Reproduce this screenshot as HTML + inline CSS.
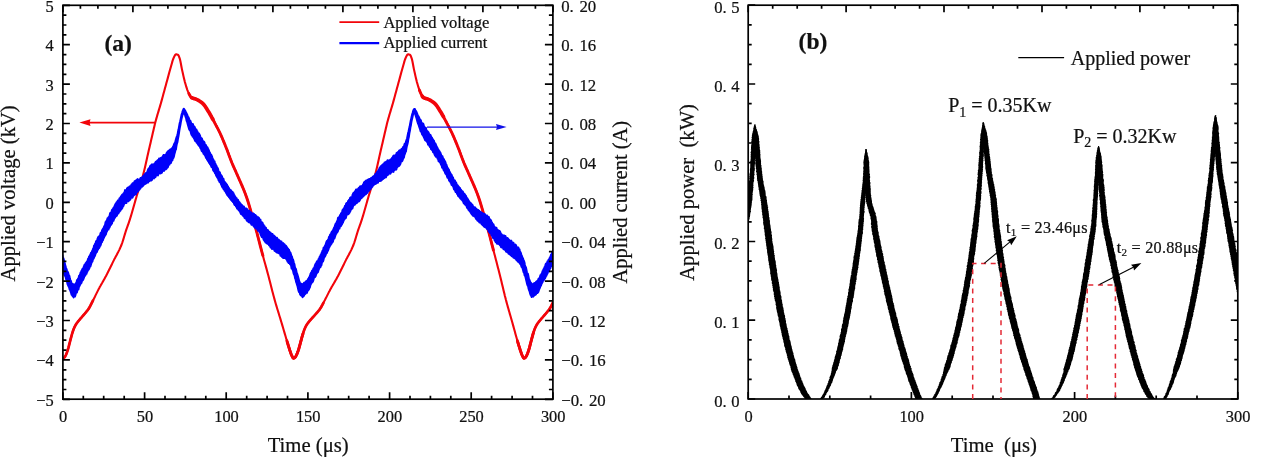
<!DOCTYPE html>
<html><head><meta charset="utf-8"><title>Applied voltage, current and power</title><style>html,body{margin:0;padding:0;background:#fff;width:1262px;height:457px;overflow:hidden}svg{display:block}text{fill:#111;stroke:#111;stroke-width:0.22px}</style></head><body>
<svg width="1262" height="457" viewBox="0 0 1262 457">
<defs><clipPath id="ca"><rect x="62.9" y="5.3" width="490" height="393.9"/></clipPath>
<clipPath id="cb"><rect x="748.2" y="5.2" width="489.6" height="393.8"/></clipPath></defs>
<rect width="1262" height="457" fill="#fff"/>
<g clip-path="url(#ca)">
<path d="M62.9 358.3 63.4 358.2 63.9 357.9 64.4 357.5 64.9 356.9 65.4 356 65.9 355 66.4 353.9 66.9 352.5 67.4 351.1 67.9 349.5 68.4 347.8 68.9 345.9 69.4 343.9 69.9 342 70.4 340.1 70.9 338.1 71.4 336.3 71.9 334.5 72.4 332.8 72.9 331.3 73.4 329.8 73.9 328.5 74.4 327.4 74.9 326.3 75.4 325.4 75.9 324.5 76.4 323.7 76.9 323 77.4 322.4 77.9 321.7 78.4 321.1 78.9 320.5 79.4 319.9 79.9 319.3 80.4 318.7 80.9 318.1 81.4 317.6 81.9 317 82.4 316.4 82.9 315.8 83.4 315.3 83.9 314.7 84.4 314.1 84.9 313.5 85.4 312.9 85.9 312.3 86.4 311.7 86.9 311.1 87.4 310.5 87.9 309.9 88.4 309.1 88.9 308.4 89.4 307.5 89.9 306.6 90.4 305.7 90.9 304.7 91.4 303.7 91.9 302.7 92.4 301.7 92.9 300.7 93.4 299.7 93.9 298.7 94.4 297.7 94.9 296.7 95.4 295.6 95.9 294.6 96.4 293.6 96.9 292.6 97.4 291.6 97.9 290.6 98.4 289.6 98.9 288.7 99.4 287.8 99.9 286.8 100.4 286 100.9 285.1 101.4 284.2 101.9 283.3 102.4 282.5 102.9 281.6 103.4 280.7 103.9 279.8 104.4 278.9 104.9 278 105.4 277.1 105.9 276.2 106.4 275.2 106.9 274.3 107.4 273.3 107.9 272.3 108.4 271.3 108.9 270.3 109.4 269.3 109.9 268.3 110.4 267.2 110.9 266.2 111.4 265.2 111.9 264.2 112.4 263.1 112.9 262.1 113.4 261.1 113.9 260.1 114.4 259.1 114.9 258.2 115.4 257.2 115.9 256.3 116.4 255.4 116.9 254.5 117.4 253.5 117.9 252.6 118.4 251.6 118.9 250.6 119.4 249.6 119.9 248.5 120.4 247.4 120.9 246.3 121.4 245 121.9 243.7 122.4 242.3 122.9 240.7 123.4 239.1 123.9 237.5 124.4 235.8 124.9 234.1 125.4 232.5 125.9 230.9 126.4 229.4 126.9 228 127.4 226.6 127.9 225.2 128.4 223.8 128.9 222.4 129.4 220.9 129.9 219.4 130.4 217.8 130.9 216.1 131.4 214.5 131.9 212.8 132.4 211 132.9 209.3 133.4 207.5 133.9 205.7 134.4 204 134.9 202.2 135.4 200.4 135.9 198.7 136.4 197 136.9 195.3 137.4 193.7 137.9 192.1 138.4 190.5 138.9 188.9 139.4 187.4 139.9 185.8 140.4 184.2 140.9 182.5 141.4 180.9 141.9 179.2 142.4 177.5 142.9 175.7 143.4 173.8 143.9 171.8 144.4 169.8 144.9 167.7 145.4 165.5 145.9 163.2 146.4 161 146.9 158.7 147.4 156.4 147.9 154.2 148.4 152 148.9 149.8 149.4 147.7 149.9 145.6 150.4 143.4 150.9 141.3 151.4 139.1 151.9 137 152.4 134.8 152.9 132.6 153.4 130.4 153.9 128.3 154.4 126.2 154.9 124.1 155.4 122.1 155.9 120.2 156.4 118.4 156.9 116.7 157.4 114.9 157.9 113.3 158.4 111.6 158.9 109.9 159.4 108.3 159.9 106.6 160.4 104.9 160.9 103.2 161.4 101.4 161.9 99.6 162.4 97.8 162.9 96 163.4 94.1 163.9 92.3 164.4 90.5 164.9 88.6 165.4 86.8 165.9 85 166.4 83.1 166.9 81.3 167.4 79.4 167.9 77.6 168.4 75.7 168.9 73.9 169.4 72 169.9 70.2 170.4 68.5 170.9 66.8 171.4 65 171.9 63.2 172.4 61.4 172.9 59.8 173.4 58.5 173.9 57.4 174.4 56.3 174.9 55.4 175.4 54.7 175.9 54.4 176.4 54.4 176.9 54.5 177.4 54.6 177.9 54.8 178.4 55.3 178.9 56.3 179.4 57.7 179.9 59.1 180.4 61.2 180.9 63.7 181.4 66.5 181.9 69.1 182.4 71.4 182.9 73.6 183.4 75.9 183.9 78 184.4 80.1 184.9 82.1 185.4 83.8 185.9 85.5 186.4 87.2 186.9 88.7 187.4 90.1 187.9 91.4 188.4 92.5 188.9 93.6 189.4 94.6 189.9 95.6 190.4 96.4 190.9 97.1 191.4 97.5 191.9 97.8 192.4 98 192.9 98.2 193.4 98.4 193.9 98.5 194.4 98.7 194.9 98.8 195.4 99 195.9 99.1 196.4 99.4 196.9 99.6 197.4 99.8 197.9 100.1 198.4 100.4 198.9 100.7 199.4 101 199.9 101.3 200.4 101.6 200.9 102 201.4 102.3 201.9 102.7 202.4 103.1 202.9 103.6 203.4 104.1 203.9 104.7 204.4 105.3 204.9 106 205.4 106.7 205.9 107.5 206.4 108.3 206.9 109.1 207.4 109.9 207.9 110.7 208.4 111.5 208.9 112.3 209.4 113.1 209.9 114 210.4 114.9 210.9 115.7 211.4 116.6 211.9 117.6 212.4 118.5 212.9 119.4 213.4 120.4 213.9 121.3 214.4 122.2 214.9 123.2 215.4 124.1 215.9 125.1 216.4 126 216.9 127 217.4 127.9 217.9 128.9 218.4 129.9 218.9 130.9 219.4 131.9 219.9 132.9 220.4 134 220.9 135.1 221.4 136.2 221.9 137.3 222.4 138.5 222.9 139.7 223.4 140.9 223.9 142.1 224.4 143.3 224.9 144.5 225.4 145.8 225.9 147 226.4 148.3 226.9 149.5 227.4 150.8 227.9 152.2 228.4 153.5 228.9 154.9 229.4 156.2 229.9 157.6 230.4 158.9 230.9 160.2 231.4 161.5 231.9 162.8 232.4 164 232.9 165.2 233.4 166.3 233.9 167.4 234.4 168.5 234.9 169.7 235.4 170.7 235.9 171.8 236.4 173 236.9 174.1 237.4 175.2 237.9 176.4 238.4 177.5 238.9 178.6 239.4 179.8 239.9 180.9 240.4 182 240.9 183.1 241.4 184.3 241.9 185.4 242.4 186.6 242.9 187.8 243.4 189 243.9 190.2 244.4 191.4 244.9 192.7 245.4 194 245.9 195.4 246.4 196.8 246.9 198.2 247.4 199.7 247.9 201.3 248.4 202.9 248.9 204.5 249.4 206.2 249.9 207.9 250.4 209.6 250.9 211.4 251.4 213.1 251.9 214.8 252.4 216.6 252.9 218.3 253.4 220 253.9 221.8 254.4 223.6 254.9 225.4 255.4 227.2 255.9 229 256.4 230.9 256.9 232.7 257.4 234.6 257.9 236.6 258.4 238.5 258.9 240.5 259.4 242.4 259.9 244.3 260.4 246.3 260.9 248.2 261.4 250.1 261.9 252 262.4 253.9 262.9 255.7 263.4 257.5 263.9 259.4 264.4 261.2 264.9 263 265.4 264.8 265.9 266.6 266.4 268.4 266.9 270.3 267.4 272.1 267.9 274 268.4 275.8 268.9 277.7 269.4 279.7 269.9 281.6 270.4 283.6 270.9 285.5 271.4 287.5 271.9 289.5 272.4 291.4 272.9 293.3 273.4 295.2 273.9 297.1 274.4 298.9 274.9 300.7 275.4 302.5 275.9 304.2 276.4 305.9 276.9 307.5 277.4 309.2 277.9 310.8 278.4 312.4 278.9 314 279.4 315.7 279.9 317.3 280.4 318.9 280.9 320.6 281.4 322.2 281.9 323.9 282.4 325.6 282.9 327.3 283.4 329 283.9 330.7 284.4 332.4 284.9 334.1 285.4 335.8 285.9 337.5 286.4 339.2 286.9 340.8 287.4 342.5 287.9 344.1 288.4 345.8 288.9 347.4 289.4 349 289.9 350.6 290.4 352 290.9 353.4 291.4 354.7 291.9 355.9 292.4 356.9 292.9 357.8 293.4 358.3 293.9 358.2 294.4 357.9 294.9 357.5 295.4 357 295.9 356.2 296.4 355.2 296.9 354.2 297.4 352.9 297.9 351.6 298.4 350.1 298.9 348.5 299.4 346.7 299.9 344.9 300.4 343 300.9 341.1 301.4 339.3 301.9 337.4 302.4 335.6 302.9 334 303.4 332.4 303.9 330.9 304.4 329.5 304.9 328.3 305.4 327.2 305.9 326.2 306.4 325.3 306.9 324.5 307.4 323.7 307.9 323.1 308.4 322.4 308.9 321.8 309.4 321.2 309.9 320.6 310.4 320 310.9 319.5 311.4 318.9 311.9 318.3 312.4 317.8 312.9 317.2 313.4 316.7 313.9 316.1 314.4 315.6 314.9 315 315.4 314.4 315.9 313.9 316.4 313.3 316.9 312.7 317.4 312.2 317.9 311.6 318.4 311 318.9 310.4 319.4 309.8 319.9 309.1 320.4 308.3 320.9 307.5 321.4 306.7 321.9 305.7 322.4 304.8 322.9 303.8 323.4 302.9 323.9 301.9 324.4 300.9 324.9 300 325.4 299 325.9 298.1 326.4 297.1 326.9 296.1 327.4 295.1 327.9 294.1 328.4 293.1 328.9 292.1 329.4 291.2 329.9 290.2 330.4 289.3 330.9 288.4 331.4 287.5 331.9 286.6 332.4 285.8 332.9 284.9 333.4 284.1 333.9 283.2 334.4 282.4 334.9 281.5 335.4 280.6 335.9 279.8 336.4 278.9 336.9 278 337.4 277.1 337.9 276.2 338.4 275.2 338.9 274.3 339.4 273.3 339.9 272.3 340.4 271.3 340.9 270.3 341.4 269.3 341.9 268.3 342.4 267.2 342.9 266.2 343.4 265.2 343.9 264.2 344.4 263.1 344.9 262.1 345.4 261.1 345.9 260.1 346.4 259.1 346.9 258.2 347.4 257.2 347.9 256.3 348.4 255.4 348.9 254.5 349.4 253.5 349.9 252.6 350.4 251.6 350.9 250.6 351.4 249.6 351.9 248.5 352.4 247.4 352.9 246.3 353.4 245 353.9 243.7 354.4 242.3 354.9 240.7 355.4 239.1 355.9 237.5 356.4 235.8 356.9 234.1 357.4 232.5 357.9 230.9 358.4 229.4 358.9 228 359.4 226.6 359.9 225.2 360.4 223.8 360.9 222.4 361.4 220.9 361.9 219.4 362.4 217.8 362.9 216.1 363.4 214.5 363.9 212.8 364.4 211 364.9 209.3 365.4 207.5 365.9 205.7 366.4 204 366.9 202.2 367.4 200.4 367.9 198.7 368.4 197 368.9 195.3 369.4 193.7 369.9 192.1 370.4 190.5 370.9 188.9 371.4 187.4 371.9 185.8 372.4 184.2 372.9 182.5 373.4 180.9 373.9 179.2 374.4 177.5 374.9 175.7 375.4 173.8 375.9 171.8 376.4 169.8 376.9 167.7 377.4 165.5 377.9 163.2 378.4 161 378.9 158.7 379.4 156.4 379.9 154.2 380.4 152 380.9 149.8 381.4 147.7 381.9 145.6 382.4 143.4 382.9 141.3 383.4 139.1 383.9 137 384.4 134.8 384.9 132.6 385.4 130.4 385.9 128.3 386.4 126.2 386.9 124.1 387.4 122.1 387.9 120.2 388.4 118.4 388.9 116.7 389.4 114.9 389.9 113.3 390.4 111.6 390.9 109.9 391.4 108.3 391.9 106.6 392.4 104.9 392.9 103.2 393.4 101.4 393.9 99.6 394.4 97.8 394.9 96 395.4 94.1 395.9 92.3 396.4 90.5 396.9 88.6 397.4 86.8 397.9 85 398.4 83.1 398.9 81.3 399.4 79.4 399.9 77.6 400.4 75.7 400.9 73.9 401.4 72 401.9 70.2 402.4 68.5 402.9 66.8 403.4 65 403.9 63.2 404.4 61.4 404.9 59.8 405.4 58.5 405.9 57.4 406.4 56.3 406.9 55.4 407.4 54.7 407.9 54.4 408.4 54.4 408.9 54.5 409.4 54.6 409.9 54.8 410.4 55.3 410.9 56.3 411.4 57.7 411.9 59.1 412.4 61.2 412.9 63.7 413.4 66.5 413.9 69.1 414.4 71.4 414.9 73.6 415.4 75.9 415.9 78 416.4 80.1 416.9 82.1 417.4 83.8 417.9 85.5 418.4 87.2 418.9 88.7 419.4 90.1 419.9 91.4 420.4 92.5 420.9 93.6 421.4 94.6 421.9 95.6 422.4 96.4 422.9 97.1 423.4 97.5 423.9 97.8 424.4 98 424.9 98.2 425.4 98.4 425.9 98.5 426.4 98.7 426.9 98.8 427.4 99 427.9 99.1 428.4 99.4 428.9 99.6 429.4 99.8 429.9 100.1 430.4 100.4 430.9 100.7 431.4 101 431.9 101.3 432.4 101.6 432.9 102 433.4 102.3 433.9 102.7 434.4 103.1 434.9 103.6 435.4 104.1 435.9 104.7 436.4 105.3 436.9 106 437.4 106.7 437.9 107.5 438.4 108.3 438.9 109.1 439.4 109.9 439.9 110.7 440.4 111.5 440.9 112.3 441.4 113.1 441.9 114 442.4 114.9 442.9 115.7 443.4 116.6 443.9 117.6 444.4 118.5 444.9 119.4 445.4 120.4 445.9 121.3 446.4 122.2 446.9 123.2 447.4 124.1 447.9 125.1 448.4 126 448.9 127 449.4 127.9 449.9 128.9 450.4 129.9 450.9 130.9 451.4 131.9 451.9 132.9 452.4 134 452.9 135.1 453.4 136.2 453.9 137.3 454.4 138.5 454.9 139.7 455.4 140.9 455.9 142.1 456.4 143.3 456.9 144.5 457.4 145.8 457.9 147 458.4 148.3 458.9 149.5 459.4 150.8 459.9 152.2 460.4 153.5 460.9 154.9 461.4 156.2 461.9 157.6 462.4 158.9 462.9 160.2 463.4 161.5 463.9 162.8 464.4 164 464.9 165.2 465.4 166.3 465.9 167.4 466.4 168.5 466.9 169.7 467.4 170.7 467.9 171.8 468.4 173 468.9 174.1 469.4 175.2 469.9 176.4 470.4 177.5 470.9 178.6 471.4 179.8 471.9 180.9 472.4 182 472.9 183.1 473.4 184.3 473.9 185.4 474.4 186.6 474.9 187.8 475.4 189 475.9 190.2 476.4 191.4 476.9 192.7 477.4 194 477.9 195.4 478.4 196.8 478.9 198.2 479.4 199.7 479.9 201.3 480.4 202.9 480.9 204.5 481.4 206.2 481.9 207.9 482.4 209.6 482.9 211.4 483.4 213.1 483.9 214.8 484.4 216.6 484.9 218.3 485.4 220 485.9 221.8 486.4 223.6 486.9 225.4 487.4 227.2 487.9 229 488.4 230.9 488.9 232.7 489.4 234.6 489.9 236.5 490.4 238.4 490.9 240.4 491.4 242.3 491.9 244.3 492.4 246.2 492.9 248.1 493.4 250.1 493.9 252 494.4 253.9 494.9 255.8 495.4 257.8 495.9 259.7 496.4 261.6 496.9 263.5 497.4 265.4 497.9 267.4 498.4 269.3 498.9 271.2 499.4 273.2 499.9 275.2 500.4 277.2 500.9 279.3 501.4 281.3 501.9 283.4 502.4 285.5 502.9 287.6 503.4 289.7 503.9 291.8 504.4 293.8 504.9 295.9 505.4 297.8 505.9 299.8 506.4 301.6 506.9 303.5 507.4 305.3 507.9 307.1 508.4 308.8 508.9 310.6 509.4 312.3 509.9 314.1 510.4 315.8 510.9 317.5 511.4 319.3 511.9 321 512.4 322.8 512.9 324.6 513.4 326.4 513.9 328.2 514.4 330 514.9 331.8 515.4 333.7 515.9 335.5 516.4 337.3 516.9 339 517.4 340.8 517.9 342.5 518.4 344.1 518.9 345.8 519.4 347.4 519.9 349 520.4 350.6 520.9 352 521.4 353.4 521.9 354.7 522.4 355.9 522.9 356.9 523.4 357.8 523.9 358.3 524.4 358.2 524.9 357.9 525.4 357.5 525.9 356.9 526.4 356 526.9 355 527.4 353.9 527.9 352.5 528.4 351.1 528.9 349.5 529.4 347.8 529.9 345.9 530.4 343.9 530.9 342 531.4 340.1 531.9 338.1 532.4 336.3 532.9 334.5 533.4 332.8 533.9 331.3 534.4 329.8 534.9 328.5 535.4 327.4 535.9 326.3 536.4 325.4 536.9 324.5 537.4 323.7 537.9 323 538.4 322.4 538.9 321.7 539.4 321.1 539.9 320.5 540.4 319.9 540.9 319.3 541.4 318.7 541.9 318.1 542.4 317.6 542.9 317 543.4 316.4 543.9 315.8 544.4 315.3 544.9 314.7 545.4 314.1 545.9 313.5 546.4 312.9 546.9 312.3 547.4 311.7 547.9 311.1 548.4 310.5 548.9 309.9 549.4 309.1 549.9 308.4 550.4 307.5 550.9 306.6 551.4 305.7 551.9 304.7 552.4 303.7 552.9 302.7 553.4 301.7 553.9 300.7 554.4 299.7 554.9 298.7 555.4 297.7 555.9 296.7 556.4 295.7 556.9 294.7 557.4 293.7 557.9 292.7 558.4 291.7 558.9 290.6" fill="none" stroke="#f2040a" stroke-width="2.1" stroke-linejoin="round"/>
<path d="M188.9 93.6 189.4 94.6 189.9 95.6 190.4 96.4 190.9 97.1 191.4 97.5 191.9 97.8M419.4 90.1 419.9 91.4 420.4 92.5 420.9 93.6 421.4 94.6 421.9 95.6 422.4 96.4" fill="none" stroke="#f2040a" stroke-width="2.9" stroke-linejoin="round" stroke-linecap="round"/>
<path d="M191.9 97.8 192.4 98 192.9 98.2 193.4 98.4 193.9 98.5 194.4 98.7 194.9 98.8 195.4 99 195.9 99.1 196.4 99.4 196.9 99.6 197.4 99.8 197.9 100.1 198.4 100.4 198.9 100.7 199.4 101 199.9 101.3 200.4 101.6 200.9 102 201.4 102.3 201.9 102.7 202.4 103.1 202.9 103.6 203.4 104.1 203.9 104.7 204.4 105.3 204.9 106 205.4 106.7 205.9 107.5 206.4 108.3 206.9 109.1 207.4 109.9 207.9 110.7 208.4 111.5 208.9 112.3 209.4 113.1 209.9 114 210.4 114.9 210.9 115.7 211.4 116.6 211.9 117.6 212.4 118.5 212.9 119.4M422.4 96.4 422.9 97.1 423.4 97.5 423.9 97.8 424.4 98 424.9 98.2 425.4 98.4 425.9 98.5 426.4 98.7 426.9 98.8 427.4 99 427.9 99.1 428.4 99.4 428.9 99.6 429.4 99.8 429.9 100.1 430.4 100.4 430.9 100.7 431.4 101 431.9 101.3 432.4 101.6 432.9 102 433.4 102.3 433.9 102.7 434.4 103.1 434.9 103.6 435.4 104.1 435.9 104.7 436.4 105.3 436.9 106 437.4 106.7 437.9 107.5 438.4 108.3 438.9 109.1 439.4 109.9 439.9 110.7 440.4 111.5 440.9 112.3 441.4 113.1 441.9 114 442.4 114.9 442.9 115.7 443.4 116.6" fill="none" stroke="#f2040a" stroke-width="3.7" stroke-linejoin="round" stroke-linecap="round"/>
<path d="M212.9 119.4 213.4 120.4 213.9 121.3 214.4 122.2 214.9 123.2 215.4 124.1 215.9 125.1 216.4 126 216.9 127 217.4 127.9 217.9 128.9 218.4 129.9 218.9 130.9 219.4 131.9 219.9 132.9 220.4 134 220.9 135.1 221.4 136.2 221.9 137.3 222.4 138.5 222.9 139.7 223.4 140.9 223.9 142.1 224.4 143.3 224.9 144.5 225.4 145.8 225.9 147 226.4 148.3 226.9 149.5 227.4 150.8 227.9 152.2 228.4 153.5 228.9 154.9 229.4 156.2 229.9 157.6 230.4 158.9 230.9 160.2 231.4 161.5 231.9 162.8 232.4 164 232.9 165.2 233.4 166.3 233.9 167.4 234.4 168.5 234.9 169.7 235.4 170.7 235.9 171.8 236.4 173 236.9 174.1 237.4 175.2 237.9 176.4 238.4 177.5 238.9 178.6 239.4 179.8 239.9 180.9 240.4 182 240.9 183.1 241.4 184.3 241.9 185.4 242.4 186.6 242.9 187.8 243.4 189 243.9 190.2 244.4 191.4 244.9 192.7 245.4 194 245.9 195.4 246.4 196.8 246.9 198.2 247.4 199.7 247.9 201.3 248.4 202.9 248.9 204.5 249.4 206.2 249.9 207.9 250.4 209.6 250.9 211.4 251.4 213.1 251.9 214.8 252.4 216.6 252.9 218.3 253.4 220 253.9 221.8 254.4 223.6 254.9 225.4 255.4 227.2 255.9 229 256.4 230.9 256.9 232.7 257.4 234.6 257.9 236.6 258.4 238.5 258.9 240.5 259.4 242.4 259.9 244.3 260.4 246.3 260.9 248.2 261.4 250.1 261.9 252 262.4 253.9 262.9 255.7M443.4 116.6 443.9 117.6 444.4 118.5 444.9 119.4 445.4 120.4 445.9 121.3 446.4 122.2 446.9 123.2 447.4 124.1 447.9 125.1 448.4 126 448.9 127 449.4 127.9 449.9 128.9 450.4 129.9 450.9 130.9 451.4 131.9 451.9 132.9 452.4 134 452.9 135.1 453.4 136.2 453.9 137.3 454.4 138.5 454.9 139.7 455.4 140.9 455.9 142.1 456.4 143.3 456.9 144.5 457.4 145.8 457.9 147 458.4 148.3 458.9 149.5 459.4 150.8 459.9 152.2 460.4 153.5 460.9 154.9 461.4 156.2 461.9 157.6 462.4 158.9 462.9 160.2 463.4 161.5 463.9 162.8 464.4 164 464.9 165.2 465.4 166.3 465.9 167.4 466.4 168.5 466.9 169.7 467.4 170.7 467.9 171.8 468.4 173 468.9 174.1 469.4 175.2 469.9 176.4 470.4 177.5 470.9 178.6 471.4 179.8 471.9 180.9 472.4 182 472.9 183.1 473.4 184.3 473.9 185.4 474.4 186.6 474.9 187.8 475.4 189 475.9 190.2 476.4 191.4 476.9 192.7 477.4 194 477.9 195.4 478.4 196.8 478.9 198.2 479.4 199.7 479.9 201.3 480.4 202.9 480.9 204.5 481.4 206.2 481.9 207.9 482.4 209.6 482.9 211.4 483.4 213.1 483.9 214.8 484.4 216.6 484.9 218.3 485.4 220 485.9 221.8 486.4 223.6 486.9 225.4 487.4 227.2 487.9 229 488.4 230.9 488.9 232.7 489.4 234.6 489.9 236.5 490.4 238.4 490.9 240.4 491.4 242.3 491.9 244.3 492.4 246.2 492.9 248.1 493.4 250.1" fill="none" stroke="#f2040a" stroke-width="2.9" stroke-linejoin="round" stroke-linecap="round"/>
<path d="M62.9 358.3 63.4 358.2 63.9 357.9 64.4 357.5 64.9 356.9 65.4 356 65.9 355 66.4 353.9 66.9 352.5 67.4 351.1 67.9 349.5 68.4 347.8 68.9 345.9 69.4 343.9 69.9 342 70.4 340.1 70.9 338.1 71.4 336.3 71.9 334.5 72.4 332.8 72.9 331.3 73.4 329.8 73.9 328.5 74.4 327.4 74.9 326.3 75.4 325.4 75.9 324.5 76.4 323.7 76.9 323 77.4 322.4 77.9 321.7 78.4 321.1 78.9 320.5 79.4 319.9 79.9 319.3 80.4 318.7 80.9 318.1 81.4 317.6 81.9 317 82.4 316.4 82.9 315.8 83.4 315.3 83.9 314.7 84.4 314.1 84.9 313.5 85.4 312.9 85.9 312.3 86.4 311.7 86.9 311.1 87.4 310.5 87.9 309.9 88.4 309.1 88.9 308.4 89.4 307.5 89.9 306.6 90.4 305.7 90.9 304.7 91.4 303.7 91.9 302.7 92.4 301.7 92.9 300.7M287.4 342.5 287.9 344.1 288.4 345.8 288.9 347.4 289.4 349 289.9 350.6 290.4 352 290.9 353.4 291.4 354.7 291.9 355.9 292.4 356.9 292.9 357.8 293.4 358.3 293.9 358.2 294.4 357.9 294.9 357.5 295.4 357 295.9 356.2 296.4 355.2 296.9 354.2 297.4 352.9 297.9 351.6 298.4 350.1 298.9 348.5 299.4 346.7 299.9 344.9 300.4 343 300.9 341.1 301.4 339.3 301.9 337.4 302.4 335.6 302.9 334 303.4 332.4 303.9 330.9 304.4 329.5 304.9 328.3 305.4 327.2 305.9 326.2 306.4 325.3 306.9 324.5 307.4 323.7 307.9 323.1 308.4 322.4 308.9 321.8 309.4 321.2 309.9 320.6 310.4 320 310.9 319.5 311.4 318.9 311.9 318.3 312.4 317.8 312.9 317.2 313.4 316.7 313.9 316.1 314.4 315.6 314.9 315 315.4 314.4 315.9 313.9 316.4 313.3 316.9 312.7 317.4 312.2 317.9 311.6 318.4 311 318.9 310.4 319.4 309.8 319.9 309.1 320.4 308.3 320.9 307.5 321.4 306.7 321.9 305.7 322.4 304.8 322.9 303.8 323.4 302.9M517.9 342.5 518.4 344.1 518.9 345.8 519.4 347.4 519.9 349 520.4 350.6 520.9 352 521.4 353.4 521.9 354.7 522.4 355.9 522.9 356.9 523.4 357.8 523.9 358.3 524.4 358.2 524.9 357.9 525.4 357.5 525.9 356.9 526.4 356 526.9 355 527.4 353.9 527.9 352.5 528.4 351.1 528.9 349.5 529.4 347.8 529.9 345.9 530.4 343.9 530.9 342 531.4 340.1 531.9 338.1 532.4 336.3 532.9 334.5 533.4 332.8 533.9 331.3 534.4 329.8 534.9 328.5 535.4 327.4 535.9 326.3 536.4 325.4 536.9 324.5 537.4 323.7 537.9 323 538.4 322.4 538.9 321.7 539.4 321.1 539.9 320.5 540.4 319.9 540.9 319.3 541.4 318.7 541.9 318.1 542.4 317.6 542.9 317 543.4 316.4 543.9 315.8 544.4 315.3 544.9 314.7 545.4 314.1 545.9 313.5 546.4 312.9 546.9 312.3 547.4 311.7 547.9 311.1 548.4 310.5 548.9 309.9 549.4 309.1 549.9 308.4 550.4 307.5 550.9 306.6 551.4 305.7 551.9 304.7 552.4 303.7 552.9 302.7 553.4 301.7 553.9 300.7" fill="none" stroke="#f2040a" stroke-width="2.7" stroke-linejoin="round" stroke-linecap="round"/>
<path d="M286.9 340.8 287.4 342.5 287.9 344.1 288.4 345.8 288.9 347.4 289.4 349 289.9 350.6 290.4 352 290.9 353.4 291.4 354.7 291.9 355.9 292.4 356.9 292.9 357.8 293.4 358.3 293.9 358.2 294.4 357.9 294.9 357.5 295.4 357 295.9 356.2 296.4 355.2 296.9 354.2 297.4 352.9 297.9 351.6 298.4 350.1 298.9 348.5 299.4 346.7 299.9 344.9 300.4 343 300.9 341.1 301.4 339.3 301.9 337.4 302.4 335.6 302.9 334M517.4 340.8 517.9 342.5 518.4 344.1 518.9 345.8 519.4 347.4 519.9 349 520.4 350.6 520.9 352 521.4 353.4 521.9 354.7 522.4 355.9 522.9 356.9 523.4 357.8 523.9 358.3 524.4 358.2 524.9 357.9 525.4 357.5 525.9 356.9 526.4 356 526.9 355 527.4 353.9 527.9 352.5 528.4 351.1 528.9 349.5 529.4 347.8 529.9 345.9 530.4 343.9 530.9 342 531.4 340.1 531.9 338.1 532.4 336.3 532.9 334.5 533.4 332.8" fill="none" stroke="#f2040a" stroke-width="2.9" stroke-linejoin="round" stroke-linecap="round"/>
<path d="M60 249.2 60.5 249.8 61 251.3 61.5 253.8 62 255 62.5 255.2 63 258.4 63.5 258.2 64 259.9 64.5 262.1 65 264.1 65.5 265.8 66 267.5 66.5 268.8 67 270.3 67.5 271.6 68 272.1 68.5 273.8 69 275.4 69.5 275.9 70 278.8 70.5 280.3 71 280.8 71.5 282.9 72 283.8 72.5 283.7 73 284.6 73.5 284.2 74 284.9 74.5 284.8 75 284.2 75.5 283.7 76 283.1 76.5 281.7 77 279.8 77.5 279.8 78 278.5 78.5 278.2 79 275.6 79.5 275.9 80 274.6 80.5 272.5 81 272.1 81.5 270.5 82 269.9 82.5 268.7 83 268.9 83.5 267.1 84 266.2 84.5 264.6 85 264.6 85.5 263.3 86 263.5 86.5 262 87 261.3 87.5 260.8 88 258.6 88.5 258.5 89 256.4 89.5 256.1 90 255 90.5 253.9 91 252.7 91.5 252.6 92 250.9 92.5 250.2 93 248.7 93.5 248.1 94 245.4 94.5 245.6 95 243.7 95.5 243.3 96 241.3 96.5 240.7 97 240.7 97.5 238.5 98 237.4 98.5 236.6 99 236.3 99.5 236.1 100 235.1 100.5 232.9 101 232.6 101.5 232.4 102 230.1 102.5 229.5 103 228.6 103.5 227.9 104 226.6 104.5 225.7 105 224.8 105.5 222 106 221.7 106.5 220.5 107 219.9 107.5 218.1 108 218.6 108.5 217 109 216.8 109.5 215.7 110 213.1 110.5 212.8 111 212.4 111.5 211.3 112 209.7 112.5 210 113 208.6 113.5 207.6 114 207.4 114.5 206.2 115 204.9 115.5 203.8 116 204.5 116.5 202.1 117 203.3 117.5 201 118 200.2 118.5 200.9 119 199.6 119.5 198.1 120 199.1 120.5 197.1 121 196.1 121.5 196 122 194.8 122.5 195 123 194.3 123.5 193.2 124 192.9 124.5 191.9 125 190 125.5 190.2 126 190.2 126.5 189.9 127 188.2 127.5 188.9 128 187.4 128.5 188 129 187.6 129.5 186.3 130 186.2 130.5 186 131 185.8 131.5 184.3 132 184.8 132.5 183.2 133 184.5 133.5 183.2 134 182.6 134.5 181.2 135 182.1 135.5 180.5 136 180.3 136.5 180 137 179.9 137.5 179 138 180 138.5 179.6 139 179.7 139.5 179.8 140 179.3 140.5 177.9 141 177.8 141.5 178.4 142 177.2 142.5 176.9 143 176.2 143.5 175.6 144 175.6 144.5 174.1 145 174.3 145.5 173.5 146 173 146.5 172.9 147 172.4 147.5 171 148 169.5 148.5 168.6 149 168 149.5 168.6 150 166 150.5 165.8 151 165.1 151.5 165.5 152 164.1 152.5 165.7 153 165.3 153.5 164.9 154 163.9 154.5 163.5 155 163.2 155.5 162 156 162.8 156.5 161.1 157 161.7 157.5 160.2 158 161.3 158.5 160.3 159 158.5 159.5 159.1 160 158.1 160.5 158.1 161 157.8 161.5 158.4 162 157.2 162.5 158 163 155.8 163.5 155 164 154.9 164.5 156.3 165 155.2 165.5 154.8 166 154.8 166.5 153.1 167 152.2 167.5 152.8 168 151 168.5 150.8 169 151.9 169.5 150.1 170 149.4 170.5 150.5 171 149.2 171.5 148.6 172 148 172.5 148.4 173 146.5 173.5 145.6 174 144.2 174.5 143.1 175 142.6 175.5 140.6 176 138.8 176.5 137 177 136.2 177.5 134.3 178 131.2 178.5 129.3 179 126.5 179.5 123.6 180 121.7 180.5 119.4 181 116.9 181.5 114.5 182 113.1 182.5 111.3 183 110 183.5 108.9 184 108.7 184.5 109.4 185 110.3 185.5 111 186 112.2 186.5 113.2 187 114.2 187.5 115.2 188 116.9 188.5 117.1 189 118.4 189.5 119.8 190 121.1 190.5 120.7 191 122.5 191.5 123.3 192 123.9 192.5 124.9 193 124 193.5 126.1 194 126.8 194.5 126.5 195 127.7 195.5 129.3 196 129.5 196.5 129.4 197 131.2 197.5 131.4 198 133.4 198.5 132.9 199 133.6 199.5 134.3 200 135.4 200.5 136.8 201 138.1 201.5 138.1 202 138.4 202.5 140.3 203 141 203.5 141.3 204 141.7 204.5 142.3 205 144.6 205.5 145.3 206 145 206.5 146.2 207 146.9 207.5 147.3 208 148.4 208.5 149.4 209 150.5 209.5 152.1 210 152.6 210.5 154.4 211 154.3 211.5 155.2 212 156.3 212.5 157.8 213 158.9 213.5 159.8 214 161.5 214.5 161.1 215 162.7 215.5 164 216 164.9 216.5 165.7 217 167.3 217.5 167.7 218 168.6 218.5 170.5 219 171.9 219.5 171.9 220 172.5 220.5 174.7 221 174.8 221.5 175.5 222 176.2 222.5 178.3 223 179.2 223.5 178.7 224 180.9 224.5 181.6 225 181.9 225.5 182.9 226 183.2 226.5 184.8 227 184.5 227.5 186.3 228 186.2 228.5 187.9 229 188 229.5 189.3 230 189.6 230.5 190.2 231 190.2 231.5 191.3 232 192.5 232.5 191.7 233 192.5 233.5 193.1 234 194.8 234.5 195.2 235 196.2 235.5 197 236 197.9 236.5 197.9 237 199.3 237.5 199.9 238 199.6 238.5 200.9 239 202 239.5 202 240 203.2 240.5 203.4 241 204.4 241.5 204.6 242 205 242.5 205.7 243 206.4 243.5 206.3 244 206.6 244.5 208.2 245 208.7 245.5 209.2 246 208.2 246.5 208.6 247 210.2 247.5 209.3 248 211 248.5 210.8 249 211.2 249.5 210.8 250 212.6 250.5 212.5 251 212.3 251.5 213.6 252 213.7 252.5 213.6 253 213.2 253.5 213.7 254 213.9 254.5 214.4 255 214.8 255.5 214.9 256 215.6 256.5 215.9 257 217.1 257.5 217.8 258 217.1 258.5 218.8 259 217.8 259.5 219.1 260 220.3 260.5 219.6 261 222.1 261.5 222 262 223.7 262.5 222.5 263 224.2 263.5 224.5 264 226.4 264.5 226 265 226.9 265.5 227.7 266 227.7 266.5 229.4 267 230 267.5 229.9 268 230.1 268.5 231.7 269 231.4 269.5 232.9 270 232.6 270.5 232.5 271 234.5 271.5 233.5 272 235.5 272.5 233.8 273 235.3 273.5 235.8 274 235.5 274.5 236.4 275 236.3 275.5 238.2 276 237.5 276.5 238 277 237.6 277.5 239.9 278 239.4 278.5 239.5 279 240 279.5 241.5 280 240.8 280.5 242 281 242.4 281.5 241.4 282 243.3 282.5 243.2 283 243 283.5 243.5 284 244.3 284.5 244.2 285 245.4 285.5 245.5 286 245.6 286.5 246.5 287 247.1 287.5 248.2 288 248.5 288.5 249.5 289 249.6 289.5 251.2 290 252 290.5 252.6 291 254.3 291.5 256 292 256.4 292.5 258.8 293 259.4 293.5 260.9 294 263 294.5 264.1 295 267.1 295.5 268.2 296 269 296.5 271.3 297 273 297.5 274.5 298 276.2 298.5 278 299 279.9 299.5 281.7 300 282.7 300.5 284 301 284.5 301.5 283.6 302 284.7 302.5 284.4 303 284.3 303.5 283.6 304 282.6 304.5 282.5 305 283 305.5 282.8 306 281.1 306.5 281.3 307 280.4 307.5 281 308 278.8 308.5 278.9 309 277.4 309.5 276.8 310 275.4 310.5 273.6 311 272.6 311.5 272.2 312 270.6 312.5 270.2 313 269.4 313.5 268.1 314 267.7 314.5 266.5 315 264.9 315.5 263.8 316 264.3 316.5 262.2 317 261.2 317.5 261.1 318 260.9 318.5 258.9 319 258.8 319.5 257 320 256.5 320.5 255 321 254.6 321.5 253.1 322 251.9 322.5 250.6 323 250.3 323.5 247.7 324 247.8 324.5 246.6 325 245.5 325.5 244.8 326 243.1 326.5 241.5 327 240.6 327.5 240.6 328 239.8 328.5 238.6 329 236.8 329.5 236.4 330 234.7 330.5 234.3 331 233.4 331.5 232.2 332 231.3 332.5 231.1 333 230.3 333.5 228.9 334 227.7 334.5 227.1 335 225.3 335.5 223.7 336 223.4 336.5 222.3 337 221.2 337.5 220 338 217.7 338.5 218.6 339 217.4 339.5 216.5 340 215 340.5 215 341 213.2 341.5 212.9 342 211.8 342.5 209.9 343 210.3 343.5 208.6 344 208.1 344.5 207.3 345 205.6 345.5 206.1 346 203.8 346.5 203 347 202.7 347.5 203.2 348 201.2 348.5 200.6 349 199.6 349.5 200 350 197.8 350.5 197.3 351 198.2 351.5 197.1 352 197 352.5 194.6 353 193.6 353.5 192.7 354 192.7 354.5 191.9 355 191.2 355.5 190.8 356 189.4 356.5 189.7 357 189.8 357.5 189.1 358 189.7 358.5 187.9 359 187.6 359.5 187.8 360 186.4 360.5 186.2 361 186.5 361.5 186.5 362 185.9 362.5 185.3 363 184.5 363.5 183.7 364 182.2 364.5 183.1 365 181.3 365.5 181.2 366 180.4 366.5 180.9 367 181.4 367.5 179.6 368 180.4 368.5 180.3 369 178.9 369.5 178.9 370 179.5 370.5 179.2 371 177.9 371.5 178.7 372 177.5 372.5 177.9 373 176.4 373.5 176.9 374 175.8 374.5 176 375 174.7 375.5 173.7 376 174.4 376.5 173.5 377 172 377.5 171.4 378 171.2 378.5 169.8 379 169.3 379.5 167.7 380 168.2 380.5 166.4 381 166.2 381.5 165.5 382 165.8 382.5 164.6 383 164.2 383.5 164.4 384 164.8 384.5 162.3 385 162.4 385.5 163.2 386 161.6 386.5 162.2 387 161.4 387.5 160.1 388 160.7 388.5 160.7 389 160.3 389.5 160.5 390 159.8 390.5 159.3 391 159.2 391.5 159.1 392 157.8 392.5 158 393 156.4 393.5 155.5 394 156.7 394.5 155.5 395 155.2 395.5 155.8 396 155.2 396.5 153 397 153.5 397.5 152.2 398 153.4 398.5 151.6 399 150.6 399.5 150.2 400 151.8 400.5 150.2 401 150.1 401.5 148.8 402 149.7 402.5 148.7 403 147 403.5 146.9 404 146 404.5 144 405 143.9 405.5 143.1 406 141.1 406.5 139.9 407 138.2 407.5 135.6 408 133 408.5 131.3 409 128.8 409.5 126.8 410 124 410.5 121.3 411 119.1 411.5 116.6 412 114.6 412.5 113 413 111.1 413.5 109.8 414 109.2 414.5 108.8 415 109.1 415.5 110.5 416 111 416.5 111.7 417 113 417.5 114.3 418 115.4 418.5 116.3 419 117.2 419.5 118.4 420 120.1 420.5 119.8 421 120.4 421.5 122.6 422 123 422.5 123.9 423 123.4 423.5 124 424 126.5 424.5 126.7 425 127.7 425.5 127.9 426 127.8 426.5 130.2 427 130.8 427.5 131 428 131.7 428.5 132.1 429 133.5 429.5 134.9 430 135.2 430.5 134.8 431 136 431.5 138 432 137.5 432.5 139.3 433 139.2 433.5 141.5 434 140.6 434.5 142.8 435 143.1 435.5 143.5 436 144.7 436.5 146.2 437 147.1 437.5 147.8 438 149.1 438.5 149.7 439 150.8 439.5 151.1 440 152.2 440.5 152.7 441 154.2 441.5 155.6 442 156 442.5 156.2 443 158.1 443.5 158.8 444 159.2 444.5 160.8 445 161.1 445.5 162.1 446 164.2 446.5 164.6 447 166.4 447.5 167.7 448 168.3 448.5 169.1 449 169.6 449.5 171.9 450 172 450.5 173.3 451 174.7 451.5 174.4 452 175.7 452.5 177.4 453 177.1 453.5 179.2 454 180.1 454.5 180.6 455 180.5 455.5 182.7 456 182.1 456.5 183.4 457 185 457.5 185 458 185.9 458.5 186.5 459 186.9 459.5 187.7 460 187.9 460.5 189.8 461 189.5 461.5 190.7 462 190.8 462.5 191.3 463 191.7 463.5 193.5 464 193.8 464.5 193.7 465 194.4 465.5 196 466 195.8 466.5 197.3 467 198.1 467.5 198.3 468 199.5 468.5 200.2 469 201 469.5 201.7 470 202.8 470.5 203.5 471 203.1 471.5 204 472 204.4 472.5 204.8 473 206.1 473.5 206.6 474 207.1 474.5 207.5 475 207.2 475.5 208.3 476 208.8 476.5 208.7 477 209.9 477.5 210.4 478 209.8 478.5 210 479 211.2 479.5 210.9 480 212.3 480.5 212 481 212 481.5 212.9 482 213.1 482.5 213 483 213.3 483.5 214.5 484 213.8 484.5 215.4 485 214 485.5 215.8 486 216.1 486.5 216.6 487 215.3 487.5 217.2 488 216.9 488.5 216.6 489 217.2 489.5 219.6 490 219.2 490.5 219.7 491 220.1 491.5 221.7 492 222.4 492.5 223.9 493 224.6 493.5 224.3 494 226.1 494.5 226.6 495 227.1 495.5 228.4 496 229.1 496.5 227.7 497 229.4 497.5 230.5 498 229.9 498.5 231.9 499 231.9 499.5 230.8 500 231.4 500.5 232.4 501 234 501.5 233.9 502 235 502.5 235 503 235.8 503.5 236 504 235.3 504.5 236.9 505 237.2 505.5 235.9 506 237.6 506.5 238 507 239 507.5 237.9 508 238.5 508.5 239.2 509 239.5 509.5 241 510 241.1 510.5 240.8 511 240.4 511.5 241.1 512 241.9 512.5 242.6 513 244.1 513.5 242.7 514 244.9 514.5 245.2 515 244.4 515.5 244.6 516 245.2 516.5 246.4 517 247.5 517.5 248.4 518 247.3 518.5 247.6 519 249.9 519.5 249.3 520 251.1 520.5 252.3 521 253.1 521.5 255.3 522 255.8 522.5 257.7 523 258.1 523.5 260 524 260.7 524.5 262.2 525 264.9 525.5 266.7 526 267.1 526.5 269.7 527 272.2 527.5 274 528 273.8 528.5 276.3 529 279 529.5 279.7 530 281.1 530.5 282.5 531 282.7 531.5 283.5 532 285.3 532.5 285.1 533 284.5 533.5 283.4 534 283.5 534.5 283 535 283.1 535.5 283.3 536 281.7 536.5 282.7 537 280.9 537.5 281.3 538 280.2 538.5 278.6 539 278.4 539.5 278.2 540 276.4 540.5 274.9 541 275 541.5 273.6 542 273 542.5 271.1 543 270.4 543.5 269.1 544 268.5 544.5 266.9 545 266.8 545.5 264.5 546 263.5 546.5 263.5 547 262.7 547.5 261.1 548 261.4 548.5 259.6 549 259.6 549.5 257.9 550 257.6 550.5 256.1 551 254.4 551.5 255 552 252.5 552.5 251.9 553 251.1 553.5 250 554 249.4 554.5 247.8 555 246 555.5 245.8 556 243.7 556.5 242.1 557 241.1 557.5 240.2 558 239.4 558.5 239.6 559 237.3 559.5 237.8 560 235.7 560 247.6 559.5 248 559 248.6 558.5 249.6 558 251.9 557.5 251.7 557 253 556.5 254.7 556 255.6 555.5 256.5 555 257.2 554.5 257.8 554 260.7 553.5 260.6 553 261.6 552.5 262.8 552 263.5 551.5 266.1 551 266.3 550.5 268.2 550 268.7 549.5 269.9 549 271.5 548.5 271.6 548 272 547.5 273.8 547 274 546.5 275.7 546 276.1 545.5 277.5 545 278.6 544.5 278.9 544 280 543.5 280.6 543 280.8 542.5 282.5 542 283.1 541.5 284.2 541 285.8 540.5 286.2 540 287.8 539.5 288.8 539 290.1 538.5 291.8 538 292.6 537.5 293 537 292.5 536.5 292.8 536 294.4 535.5 294.9 535 294.2 534.5 295.4 534 295.9 533.5 295.7 533 296.8 532.5 295.7 532 295.7 531.5 297.1 531 295.4 530.5 295 530 293.5 529.5 291.4 529 290.3 528.5 288.8 528 286.1 527.5 285.6 527 284 526.5 281.8 526 279.8 525.5 277.6 525 275.8 524.5 275.3 524 272.7 523.5 272.4 523 270.3 522.5 268.6 522 266.8 521.5 267.1 521 265.2 520.5 263.9 520 263.9 519.5 262.6 519 262.5 518.5 260.5 518 261.8 517.5 260.9 517 260.6 516.5 260.4 516 259.2 515.5 258.9 515 258.1 514.5 258.1 514 257.7 513.5 257.9 513 257 512.5 256.1 512 254.8 511.5 256.2 511 255.1 510.5 255.1 510 254.6 509.5 253.1 509 253.3 508.5 253.9 508 251.6 507.5 252.5 507 251.7 506.5 250.7 506 251.7 505.5 250.5 505 249.8 504.5 249.8 504 249.1 503.5 249.4 503 248.1 502.5 247.5 502 247.7 501.5 247 501 247.3 500.5 245.5 500 245.5 499.5 244.8 499 243.9 498.5 244.1 498 243.8 497.5 243.2 497 243.8 496.5 243 496 241.3 495.5 242 495 240.8 494.5 240.4 494 237.9 493.5 238.2 493 238.1 492.5 237 492 235.5 491.5 235.5 491 233.2 490.5 233.3 490 233.4 489.5 230.7 489 232 488.5 231.4 488 229 487.5 229.4 487 229 486.5 228.3 486 227.5 485.5 227.6 485 227.3 484.5 226.2 484 226.7 483.5 225.4 483 225.5 482.5 225.1 482 223.8 481.5 224.2 481 223.1 480.5 222.5 480 222.7 479.5 222.6 479 222 478.5 220.6 478 220.1 477.5 220.8 477 218.8 476.5 219.5 476 218.9 475.5 217.9 475 216.8 474.5 216.4 474 216.3 473.5 215.4 473 215.9 472.5 214.8 472 214.7 471.5 213.9 471 213.2 470.5 212.5 470 210.9 469.5 211.3 469 209.8 468.5 210.1 468 208.8 467.5 207.7 467 207.9 466.5 206.3 466 205.4 465.5 205 465 204.7 464.5 203.5 464 203.6 463.5 203 463 201.3 462.5 200.8 462 200.1 461.5 199.7 461 198.9 460.5 198.9 460 198 459.5 197.4 459 196 458.5 196.4 458 195.8 457.5 193.8 457 194.1 456.5 192.5 456 191.3 455.5 192 455 190.4 454.5 189.2 454 189.5 453.5 187.7 453 186.3 452.5 185.7 452 185 451.5 185 451 183.2 450.5 182.7 450 181.3 449.5 181.1 449 180.5 448.5 178.3 448 177.8 447.5 177.8 447 176.7 446.5 174.8 446 174.3 445.5 173.9 445 172.8 444.5 171 444 170.9 443.5 170 443 168.3 442.5 168 442 167.5 441.5 165.1 441 164.9 440.5 163.2 440 162.6 439.5 161.9 439 160.5 438.5 161.4 438 158.8 437.5 158.7 437 157.1 436.5 156.6 436 156.9 435.5 156.2 435 155.5 434.5 154.6 434 152.9 433.5 151.5 433 152.3 432.5 150 432 150.2 431.5 149.1 431 149.4 430.5 147.3 430 147.1 429.5 146.5 429 144.8 428.5 143.8 428 144.7 427.5 142.5 427 142.1 426.5 141.4 426 140.5 425.5 140.6 425 140.1 424.5 138.8 424 137.7 423.5 136.6 423 135.6 422.5 134.9 422 134.3 421.5 132.6 421 131.3 420.5 131.4 420 129.2 419.5 127.9 419 126.5 418.5 124.8 418 123.7 417.5 122.2 417 120.4 416.5 118.6 416 116.9 415.5 115.5 415 113.7 414.5 112.4 414 112.3 413.5 113.2 413 115.1 412.5 117.5 412 119.6 411.5 121.8 411 125.2 410.5 127.3 410 130.8 409.5 133.1 409 136.7 408.5 138.7 408 142 407.5 144.2 407 145.9 406.5 148.4 406 151.6 405.5 152.3 405 153.8 404.5 154.9 404 157.7 403.5 158.2 403 159.2 402.5 160.7 402 161.3 401.5 161.5 401 161.8 400.5 163.9 400 164.8 399.5 165.6 399 166 398.5 165.5 398 166.5 397.5 167.1 397 167.1 396.5 169.3 396 169.7 395.5 168.1 395 169.3 394.5 170.2 394 170 393.5 172 393 170.1 392.5 171 392 171.9 391.5 171.3 391 172.6 390.5 173.7 390 173.1 389.5 173.2 389 173.5 388.5 174.5 388 174.9 387.5 175.1 387 175 386.5 176.1 386 177.3 385.5 175.7 385 177.6 384.5 178 384 178.4 383.5 177.8 383 179.2 382.5 179.3 382 180 381.5 179.8 381 180.7 380.5 180.3 380 181.2 379.5 181 379 181.1 378.5 181 378 182.8 377.5 182.6 377 182 376.5 183.3 376 183.7 375.5 184 375 183.5 374.5 184.5 374 184.5 373.5 185.2 373 185.6 372.5 186.7 372 186.3 371.5 187.6 371 188.2 370.5 189 370 189.7 369.5 190.2 369 190.8 368.5 190.9 368 191.6 367.5 192.8 367 192.3 366.5 193.6 366 194.3 365.5 194.2 365 194.6 364.5 195.2 364 195.5 363.5 196.3 363 196.7 362.5 196.5 362 197.6 361.5 198.2 361 198.4 360.5 198.8 360 200 359.5 200.9 359 201.5 358.5 200.6 358 201.6 357.5 202.1 357 202.9 356.5 203.4 356 202.5 355.5 202.6 355 204.7 354.5 204.5 354 205.2 353.5 205.5 353 206.6 352.5 208.5 352 207.6 351.5 209 351 209.5 350.5 211 350 211.8 349.5 212.9 349 213.5 348.5 214.2 348 213.9 347.5 214.5 347 214.8 346.5 215.6 346 217.8 345.5 218.4 345 218.4 344.5 219.5 344 219.9 343.5 221.1 343 222.7 342.5 222.8 342 224.4 341.5 225.1 341 226.1 340.5 226.5 340 226.7 339.5 228.7 339 227.9 338.5 229.3 338 231.2 337.5 232.2 337 231.9 336.5 233.5 336 234 335.5 235.5 335 236.9 334.5 238.6 334 238.4 333.5 239.3 333 241.8 332.5 241.9 332 242.8 331.5 243.8 331 244.3 330.5 245.2 330 245.9 329.5 247.1 329 247.8 328.5 249.5 328 250.8 327.5 251.3 327 253.1 326.5 252.7 326 254.1 325.5 255.6 325 256.6 324.5 257.3 324 257.9 323.5 260.2 323 261.6 322.5 261.9 322 262.5 321.5 265.3 321 265.7 320.5 267.3 320 267 319.5 267.8 319 269.1 318.5 270.4 318 272.2 317.5 272.7 317 273 316.5 273.8 316 275.1 315.5 276.6 315 277.3 314.5 277.3 314 277.8 313.5 280 313 281.6 312.5 282.1 312 282.3 311.5 283.3 311 284.1 310.5 285 310 287.2 309.5 288.1 309 289.4 308.5 290.1 308 290.7 307.5 291 307 292.9 306.5 292.8 306 293.1 305.5 293.9 305 294.3 304.5 294.5 304 295.8 303.5 296.5 303 296.5 302.5 297.2 302 295.9 301.5 295.9 301 295.5 300.5 295 300 294.2 299.5 292.1 299 292.2 298.5 291 298 288.7 297.5 286.5 297 285 296.5 283.2 296 282 295.5 279.3 295 278.4 294.5 275.4 294 274.6 293.5 273.4 293 271 292.5 269.7 292 268.7 291.5 268.6 291 265.5 290.5 264.6 290 264.4 289.5 262.7 289 263.1 288.5 263 288 261.5 287.5 261.8 287 260.2 286.5 259.6 286 258.7 285.5 258.3 285 258.1 284.5 258.1 284 258.2 283.5 258.2 283 258 282.5 255.7 282 257.1 281.5 255.1 281 254.9 280.5 255.9 280 254 279.5 253.6 279 253 278.5 253.3 278 252.5 277.5 252.3 277 252.7 276.5 251.7 276 252 275.5 251.4 275 249.5 274.5 251 274 249.4 273.5 248.3 273 248.8 272.5 247.8 272 249.1 271.5 248 271 247.6 270.5 247.5 270 246.1 269.5 245.6 269 245.4 268.5 244.2 268 244.1 267.5 243.6 267 243.5 266.5 243.3 266 241.9 265.5 242.5 265 241.6 264.5 241 264 240.2 263.5 239.6 263 237.4 262.5 237.6 262 237.3 261.5 236.7 261 235.5 260.5 234.6 260 232.6 259.5 232.3 259 230.8 258.5 230.4 258 230.9 257.5 229.6 257 228.6 256.5 228.7 256 228.6 255.5 228.1 255 226.8 254.5 227.4 254 226.3 253.5 226.3 253 224.6 252.5 224.8 252 224.2 251.5 224.9 251 223.9 250.5 223 250 222.3 249.5 222.6 249 222.3 248.5 222.3 248 221.6 247.5 220.7 247 220.9 246.5 220.1 246 218.7 245.5 217.9 245 218.4 244.5 218 244 216.6 243.5 216.2 243 215.8 242.5 214.6 242 214.9 241.5 213.7 241 214.1 240.5 213.1 240 211.8 239.5 211.2 239 210.3 238.5 210.1 238 209.2 237.5 208.1 237 208.6 236.5 206.7 236 206.7 235.5 205.2 235 204.8 234.5 205 234 203.9 233.5 202.4 233 202.2 232.5 201.3 232 201.1 231.5 199.8 231 200 230.5 199.2 230 198.7 229.5 197.7 229 197.5 228.5 196.4 228 196.1 227.5 195.4 227 194.7 226.5 193.7 226 192.8 225.5 191.8 225 191.1 224.5 190.7 224 189.2 223.5 189.2 223 187.2 222.5 187.6 222 186.8 221.5 185.5 221 184.4 220.5 182.8 220 182.4 219.5 182.1 219 180.8 218.5 180.3 218 178.5 217.5 177.9 217 177.2 216.5 176.2 216 175.4 215.5 173.4 215 173.4 214.5 171.9 214 171.5 213.5 170.9 213 170 212.5 167.8 212 167.1 211.5 167.1 211 165.9 210.5 164.5 210 164.4 209.5 162.8 209 162.9 208.5 161.6 208 161.1 207.5 160 207 159.7 206.5 157.3 206 158 205.5 156.6 205 155.4 204.5 154.8 204 153.6 203.5 153.8 203 152.5 202.5 151.2 202 151.4 201.5 150.7 201 148.9 200.5 148.4 200 147.1 199.5 146.5 199 145.8 198.5 145.4 198 144.4 197.5 143.7 197 143 196.5 142.6 196 141.2 195.5 141 195 140.9 194.5 139.4 194 138.5 193.5 137.6 193 136.2 192.5 136.6 192 134.3 191.5 135.1 191 133.5 190.5 131.3 190 130.6 189.5 130 189 129 188.5 127.2 188 125.4 187.5 123.7 187 121.8 186.5 120.9 186 118.1 185.5 117 185 115 184.5 114 184 112.3 183.5 112 183 113.5 182.5 115.3 182 117.4 181.5 119.4 181 121.7 180.5 124.8 180 127.2 179.5 130.1 179 133.7 178.5 136.5 178 139.2 177.5 142.3 177 143.6 176.5 146.2 176 149.5 175.5 150.2 175 152.4 174.5 154 174 156.5 173.5 158 173 157.9 172.5 160.3 172 160.4 171.5 161.3 171 163.1 170.5 162.5 170 162.7 169.5 164.7 169 164 168.5 165.3 168 167.1 167.5 167.7 167 167.8 166.5 168.9 166 169.3 165.5 169.2 165 168.2 164.5 170.3 164 171.1 163.5 170.2 163 169.7 162.5 170.7 162 172.7 161.5 173 161 173.3 160.5 172.3 160 173.6 159.5 172.5 159 173.1 158.5 173.2 158 175.5 157.5 174.4 157 175.3 156.5 175 156 175.7 155.5 177.3 155 176.7 154.5 176.1 154 178.6 153.5 177.9 153 178.3 152.5 178 152 179.9 151.5 180.6 151 180.5 150.5 180.4 150 180.5 149.5 181.2 149 180.7 148.5 181.6 148 182.7 147.5 181.5 147 182 146.5 183.2 146 183.6 145.5 182.6 145 184.2 144.5 183.6 144 184.7 143.5 185.3 143 186.1 142.5 185.7 142 186.9 141.5 186.3 141 187 140.5 188.6 140 188.5 139.5 189.7 139 189.7 138.5 190.7 138 191.7 137.5 191.8 137 192.1 136.5 192.6 136 194.5 135.5 194.2 135 194.7 134.5 194.7 134 195.3 133.5 195 133 196.6 132.5 197.7 132 197.3 131.5 197.1 131 198 130.5 199.3 130 200 129.5 200 129 200.5 128.5 201.4 128 200.8 127.5 200.8 127 200.8 126.5 203.1 126 202.8 125.5 203.2 125 203.2 124.5 203.7 124 204.3 123.5 206 123 205.4 122.5 207.9 122 208.4 121.5 209.4 121 209.5 120.5 210.7 120 209.8 119.5 211.8 119 211.9 118.5 213.6 118 213.5 117.5 213.1 117 215.5 116.5 216 116 216.4 115.5 216.7 115 217.9 114.5 218 114 219.4 113.5 220.9 113 220.4 112.5 221.2 112 223.7 111.5 223.3 111 225.1 110.5 224.9 110 226.5 109.5 227.8 109 227.2 108.5 229.7 108 229.4 107.5 229.6 107 231.6 106.5 232.1 106 234.2 105.5 235.1 105 235.8 104.5 236.4 104 237.8 103.5 238.6 103 240.3 102.5 240.4 102 242.2 101.5 242.3 101 244.2 100.5 245.8 100 244.9 99.5 247.5 99 248.4 98.5 248.4 98 249.8 97.5 250 97 252.1 96.5 251.9 96 253.2 95.5 254.2 95 256 94.5 256.4 94 257.9 93.5 259 93 259.3 92.5 261.6 92 262 91.5 263.1 91 264.8 90.5 266.4 90 266.2 89.5 268.1 89 269.2 88.5 269.8 88 269.9 87.5 271.6 87 272.2 86.5 273.9 86 274 85.5 275.2 85 275.9 84.5 276.1 84 277.8 83.5 279.2 83 280.2 82.5 279.9 82 281.3 81.5 282.9 81 283.6 80.5 284 80 285.2 79.5 286.2 79 286.9 78.5 289.7 78 289.5 77.5 290 77 292.7 76.5 292.1 76 293.1 75.5 295.3 75 296.6 74.5 296.5 74 296.6 73.5 297.5 73 295.9 72.5 296.1 72 294.3 71.5 294.8 71 292.9 70.5 291.5 70 290 69.5 289.4 69 287.3 68.5 286.5 68 285.3 67.5 284.3 67 282.1 66.5 280.5 66 279.1 65.5 276.9 65 275.6 64.5 275.6 64 273.8 63.5 270.9 63 269.4 62.5 268.4 62 267.5 61.5 265.5 61 264.9 60.5 263.9 60 263.3Z" fill="#0000fa" stroke="#0000fa" stroke-width="1.8" stroke-linejoin="round"/>
</g>
<g clip-path="url(#cb)" fill="#000">
<path d="M754.6 124.6 754.2 125.2 754.2 125.8 753.8 126.4 753.6 127 753.7 127.6 753.3 128.2 753.3 128.8 753.3 129.4 753.3 130 753.1 130.6 753 131.2 752.5 131.8 752.6 132.4 752.7 133 752.1 133.6 752.2 134.2 752 134.8 752 135.4 751.6 136 752.1 136.6 751.6 137.2 751.5 137.8 751.9 138.4 751.8 139 751.3 139.6 751.7 140.2 751.4 140.8 751.3 141.4 751.2 142 751.1 142.6 751.5 143.2 751.4 143.8 751.3 144.4 751.4 145 751.1 145.6 750.9 146.2 751.2 146.8 751 147.4 750.9 148 751.1 148.6 750.7 149.2 751.2 149.8 751.1 150.4 751 151 750.9 151.6 750.6 152.2 750.5 152.8 750.9 153.4 750.9 154 750.5 154.6 750.8 155.2 750.7 155.8 750.7 156.4 750.4 157 750.8 157.6 750.8 158.2 750.6 158.8 750.6 159.4 750.5 160 750.6 160.6 750.1 161.2 750.2 161.8 750.5 162.4 750.3 163 750.3 163.6 750.3 164.2 750.2 164.8 750.3 165.4 750.1 166 750.3 166.6 750.2 167.2 750.2 167.8 750 168.4 750.1 169 749.9 169.6 749.8 170.2 750.1 170.8 750 171.4 749.9 172 750 172.6 749.5 173.2 749.7 173.8 749.4 174.4 749.4 175 749.6 175.6 749.4 176.2 749.1 176.8 749.5 177.4 749.2 178 749.1 178.6 749.4 179.2 749.4 179.8 749.2 180.4 749.1 181 748.9 181.6 749.2 182.2 749 182.8 748.6 183.4 748.8 184 748.5 184.6 748.5 185.2 748.3 185.8 748.6 186.4 748.3 187 748.7 187.6 748.1 188.2 748.2 188.8 748.2 189.4 748.3 190 747.8 190.6 748.3 191.2 747.7 191.8 747.9 192.4 747.7 193 747.6 193.6 747.5 194.2 747.3 194.8 747.6 195.4 747.5 196 747.4 196.6 747.4 197.2 747.5 197.8 747.2 198.4 746.9 199 747 199.6 746.8 200.2 746.6 200.8 746.5 201.4 746.8 202 746.5 202.6 746.7 203.2 746.3 203.8 746.5 204.4 746.6 205 746.3 205.6 746.3 206.2 745.8 206.8 746.1 207.4 745.7 208 745.8 208.6 745.8 209.2 745.8 209.8 745.5 210.4 745.6 211 745.1 211.6 745.3 212.2 745.3 212.8 745.2 213.4 745.1 214 744.9 214.6 744.5 215.2 744.2 215.8 744.1 216.4 744 217 744 217.6 744.2 218.2 743.9 218.8 743.9 219.4 743.3 220 743.2 220.6 743.5 221.2 743.1 221.8 743.1 222.4 742.6 223 743 223.6 742.7 224.2 742.3 224.8 742 225.4 741.8 226 742.1 226.6 741.9 227.2 741.8 227.8 741.7 228.4 741.5 229 740.8 229.6 740.9 230.2 740.6 230.8 740.3 231.4 740.6 232 746.3 232 746.4 231.4 747 230.8 746.8 230.2 747 229.6 747.5 229 747.5 228.4 747.6 227.8 747.8 227.2 747.7 226.6 747.7 226 748.2 225.4 748.3 224.8 748.4 224.2 748.8 223.6 748.9 223 748.8 222.4 748.7 221.8 749.1 221.2 748.9 220.6 749.2 220 749.2 219.4 749.6 218.8 749.6 218.2 749.6 217.6 749.8 217 750.1 216.4 749.9 215.8 750.3 215.2 750.2 214.6 750.1 214 750.4 213.4 750.5 212.8 750.6 212.2 751.1 211.6 750.9 211 750.7 210.4 750.8 209.8 751 209.2 751 208.6 751 208 751.4 207.4 751.2 206.8 751.6 206.2 751.7 205.6 751.3 205 751.8 204.4 752 203.8 751.5 203.2 751.7 202.6 751.7 202 751.8 201.4 752.1 200.8 752.4 200.2 752.4 199.6 752.5 199 752.4 198.4 752.5 197.8 752.4 197.2 752.6 196.6 752.3 196 752.5 195.4 752.7 194.8 752.9 194.2 752.5 193.6 752.6 193 752.8 192.4 752.9 191.8 752.9 191.2 753.2 190.6 753 190 753.4 189.4 753 188.8 753.4 188.2 753.5 187.6 753.5 187 753.1 186.4 753.4 185.8 753.6 185.2 753.3 184.6 753.4 184 753.4 183.4 753.5 182.8 753.5 182.2 754 181.6 753.8 181 754.1 180.4 754 179.8 753.7 179.2 754.3 178.6 754.3 178 754.3 177.4 754.2 176.8 753.9 176.2 754.2 175.6 754.6 175 754.6 174.4 754.5 173.8 754.2 173.2 754.6 172.6 754.2 172 754.5 171.4 754.6 170.8 754.9 170.2 754.8 169.6 754.8 169 754.9 168.4 754.7 167.8 754.6 167.2 754.7 166.6 754.7 166 754.8 165.4 754.7 164.8 755 164.2 755.2 163.6 754.7 163 755.1 162.4 755.2 161.8 754.8 161.2 754.9 160.6 755.1 160 755 159.4 755.1 158.8 755.2 158.2 755.3 157.6 755 157 755.2 156.4 755.5 155.8 755.1 155.2 755.3 154.6 755.4 154 755 153.4 755.5 152.8 755.3 152.2 755.6 151.6 755.3 151 755.6 150.4 755.4 149.8 755.7 149.2 755.8 148.6 755.6 148 755.5 147.4 755.8 146.8 755.4 146.2 755.6 145.6 755.5 145 755.6 144.4 755.9 143.8 755.8 143.2 755.6 142.6 755.9 142 755.8 141.4 756.1 140.8 756.1 140.2 755.7 139.6 756.1 139 755.8 138.4 756 137.8 756 137.2 756.2 136.6 756.3 136 756.2 135.4 755.9 134.8 756 134.2 756.2 133.6 755.7 133 755.7 132.4 755.6 131.8 755.7 131.2 755.5 130.6 755.7 130 755.7 129.4 755.8 128.8 755.8 128.2 755.7 127.6 755.6 127 755.2 126.4 755.5 125.8 755.4 125.2 755.4 124.6Z"/>
<path d="M754.2 124.6 754.4 125.2 754 125.8 754.4 126.4 753.9 127 754 127.6 753.9 128.2 753.7 128.8 754.1 129.4 754 130 753.6 130.6 754 131.2 753.7 131.8 753.9 132.4 753.5 133 753.5 133.6 753.5 134.2 753.2 134.8 753.5 135.4 753.2 136 753.4 136.6 753.4 137.2 753.5 137.8 753.7 138.4 753.5 139 753.8 139.6 753.9 140.2 753.6 140.8 754 141.4 753.7 142 753.8 142.6 753.9 143.2 753.8 143.8 753.9 144.4 753.8 145 753.9 145.6 754.2 146.2 754.1 146.8 754.3 147.4 754.5 148 754.5 148.6 754.5 149.2 754.4 149.8 754.6 150.4 754.3 151 754.6 151.6 754.8 152.2 754.9 152.8 754.9 153.4 754.7 154 754.9 154.6 754.6 155.2 754.9 155.8 755.1 156.4 754.8 157 755.1 157.6 755 158.2 755.1 158.8 755.3 159.4 755.3 160 754.9 160.6 755.5 161.2 755.5 161.8 755.4 162.4 755.3 163 755.2 163.6 755.5 164.2 755.4 164.8 755.6 165.4 755.7 166 755.7 166.6 755.7 167.2 756.1 167.8 755.6 168.4 756.1 169 756.2 169.6 756.3 170.2 756.1 170.8 756 171.4 756.1 172 756.5 172.6 756.7 173.2 756.6 173.8 756.3 174.4 756.8 175 756.9 175.6 756.9 176.2 756.9 176.8 757 177.4 757 178 757 178.6 756.8 179.2 757.4 179.8 757 180.4 757.4 181 757.7 181.6 757.8 182.2 757.6 182.8 758 183.4 757.9 184 758.1 184.6 758 185.2 758.3 185.8 758.3 186.4 758.1 187 758.6 187.6 758.8 188.2 758.5 188.8 758.6 189.4 758.8 190 759.2 190.6 759 191.2 759.4 191.8 759.3 192.4 759.4 193 759.4 193.6 759.5 194.2 759.7 194.8 759.6 195.4 760 196 760 196.6 760.2 197.2 760.4 197.8 760.1 198.4 760.7 199 760.8 199.6 760.3 200.2 760.6 200.8 761 201.4 761.2 202 760.8 202.6 761.1 203.2 761.4 203.8 760.9 204.4 761.3 205 761.3 205.6 761.5 206.2 761.3 206.8 761.4 207.4 761.6 208 761.4 208.6 761.6 209.2 761.8 209.8 761.9 210.4 761.8 211 761.7 211.6 762.1 212.2 762.1 212.8 762.2 213.4 762.2 214 762.1 214.6 762.3 215.2 762.6 215.8 762.6 216.4 762.6 217 762.4 217.6 762.8 218.2 763.1 218.8 763.1 219.4 762.8 220 763.1 220.6 763.4 221.2 763.1 221.8 763.1 222.4 763.1 223 763.2 223.6 763.4 224.2 763.3 224.8 763.7 225.4 763.8 226 763.9 226.6 764 227.2 763.8 227.8 763.8 228.4 763.9 229 764.4 229.6 764.2 230.2 764.5 230.8 764.3 231.4 764.6 232 764.6 232.6 764.6 233.2 764.9 233.8 764.7 234.4 764.6 235 765 235.6 764.9 236.2 765.3 236.8 765.4 237.4 765.1 238 765.1 238.6 765.2 239.2 765.8 239.8 765.3 240.4 765.9 241 765.8 241.6 765.6 242.2 766 242.8 766.2 243.4 765.9 244 766.2 244.6 766.1 245.2 766.3 245.8 766.4 246.4 766.6 247 766.6 247.6 766.6 248.2 766.5 248.8 767 249.4 767.1 250 767 250.6 767.2 251.2 767 251.8 767.2 252.4 767.1 253 767.5 253.6 767.3 254.2 767.7 254.8 767.6 255.4 768 256 768 256.6 767.7 257.2 768.3 257.8 768.1 258.4 768.2 259 768.2 259.6 768.1 260.2 768.4 260.8 768.6 261.4 768.6 262 768.7 262.6 769 263.2 768.9 263.8 768.8 264.4 768.9 265 769.3 265.6 769.6 266.2 769.2 266.8 769.4 267.4 769.7 268 769.7 268.6 769.8 269.2 770.1 269.8 770.2 270.4 769.8 271 770.3 271.6 770.3 272.2 770.1 272.8 770.1 273.4 770.3 274 770.5 274.6 770.9 275.2 770.5 275.8 770.9 276.4 770.8 277 771.1 277.6 771.2 278.2 771 278.8 771.2 279.4 771.2 280 771.4 280.6 771.8 281.2 772 281.8 771.7 282.4 771.8 283 771.8 283.6 772.2 284.2 772.5 284.8 772.1 285.4 772.4 286 772.7 286.6 772.6 287.2 772.5 287.8 773 288.4 773.1 289 772.8 289.6 772.9 290.2 773.2 290.8 773.2 291.4 773.8 292 773.8 292.6 773.7 293.2 773.8 293.8 773.8 294.4 773.7 295 774.3 295.6 774 296.2 774 296.8 774.5 297.4 774.5 298 774.3 298.6 774.7 299.2 774.8 299.8 774.7 300.4 775.2 301 775.3 301.6 775.4 302.2 775.7 302.8 775.8 303.4 775.4 304 775.6 304.6 775.8 305.2 776.1 305.8 776.2 306.4 776.4 307 776 307.6 776.2 308.2 776.3 308.8 776.4 309.4 776.8 310 776.7 310.6 776.7 311.2 777 311.8 777.1 312.4 777.3 313 777.5 313.6 777.4 314.2 777.7 314.8 777.7 315.4 777.7 316 778.1 316.6 778.4 317.2 778.5 317.8 778.5 318.4 778.5 319 778.4 319.6 778.6 320.2 778.8 320.8 779.1 321.4 778.9 322 779.4 322.6 779.6 323.2 779.4 323.8 779.6 324.4 779.7 325 779.7 325.6 779.9 326.2 780.1 326.8 780.4 327.4 780.3 328 780.4 328.6 780.7 329.2 780.7 329.8 780.9 330.4 781.3 331 781.2 331.6 781.2 332.2 781.3 332.8 781.8 333.4 781.5 334 781.7 334.6 782 335.2 781.8 335.8 782.3 336.4 782.1 337 782.7 337.6 782.6 338.2 782.6 338.8 783.1 339.4 783 340 783.4 340.6 783.3 341.2 783.4 341.8 783.5 342.4 783.9 343 783.9 343.6 784.1 344.2 784.1 344.8 784.1 345.4 784.2 346 784.4 346.6 784.7 347.2 785.1 347.8 785.2 348.4 785.3 349 785.1 349.6 785.4 350.2 785.9 350.8 785.6 351.4 786 352 786.1 352.6 786.2 353.2 786.7 353.8 786.9 354.4 786.6 355 787 355.6 787.2 356.2 787.4 356.8 787.2 357.4 787.3 358 787.9 358.6 787.7 359.2 788.1 359.8 788.4 360.4 788.4 361 788.5 361.6 789.1 362.2 788.9 362.8 789.1 363.4 789.6 364 789.4 364.6 789.6 365.2 790.1 365.8 790.4 366.4 790.5 367 790.3 367.6 790.9 368.2 790.7 368.8 790.8 369.4 791.2 370 791.2 370.6 791.4 371.2 791.6 371.8 792 372.4 792.3 373 792.6 373.6 792.6 374.2 792.8 374.8 793.3 375.4 793.5 376 793.6 376.6 793.6 377.2 794.2 377.8 794.4 378.4 794.6 379 794.8 379.6 795 380.2 795.4 380.8 795.1 381.4 795.8 382 795.9 382.6 796.2 383.2 796.5 383.8 796.6 384.4 796.6 385 797 385.6 797.2 386.2 797.9 386.8 798 387.4 798.3 388 798.2 388.6 798.6 389.2 799.1 389.8 799.6 390.4 800 391 800.3 391.6 800.1 392.2 800.8 392.8 801 393.4 801.2 394 801.7 394.6 802 395.2 802.8 395.8 803.2 396.4 803.4 397 804.1 397.6 804.6 398.2 804.6 398.8 805.3 399.4 805.9 400 806.8 400.6 807.2 401.2 808.2 401.8 808.9 402.4 809.7 403 817.1 403 816.1 402.4 814.9 401.8 814.1 401.2 813.8 400.6 812.9 400 812.3 399.4 811.8 398.8 811 398.2 810.7 397.6 810.6 397 810 396.4 809.5 395.8 809.4 395.2 809 394.6 808.4 394 807.9 393.4 807.6 392.8 807.1 392.2 807 391.6 806.8 391 806.3 390.4 806.1 389.8 805.6 389.2 805.7 388.6 805.3 388 805.1 387.4 804.6 386.8 804.4 386.2 803.9 385.6 803.6 385 803.6 384.4 803.1 383.8 803.3 383.2 802.7 382.6 802.3 382 802.5 381.4 802.3 380.8 801.5 380.2 801.4 379.6 801.3 379 801.3 378.4 801.1 377.8 800.5 377.2 800.3 376.6 800.3 376 800 375.4 800 374.8 799.5 374.2 799.5 373.6 799.5 373 798.8 372.4 799 371.8 798.4 371.2 798.2 370.6 798.3 370 797.9 369.4 797.6 368.8 797.4 368.2 797.6 367.6 797.1 367 797.2 366.4 796.8 365.8 796.6 365.2 796.7 364.6 796.1 364 796.1 363.4 796.1 362.8 795.6 362.2 795.5 361.6 795.5 361 795.3 360.4 795.3 359.8 795.1 359.2 794.7 358.6 794.3 358 794.4 357.4 794 356.8 794.2 356.2 793.7 355.6 794 355 793.3 354.4 793.4 353.8 793.6 353.2 793.2 352.6 792.7 352 792.9 351.4 792.6 350.8 792.4 350.2 792.4 349.6 792.1 349 792 348.4 791.8 347.8 791.8 347.2 791.8 346.6 791.2 346 791.5 345.4 790.8 344.8 791.2 344.2 790.7 343.6 790.9 343 790.7 342.4 790.5 341.8 790.5 341.2 790.2 340.6 789.9 340 789.6 339.4 789.5 338.8 789.6 338.2 789.3 337.6 789.5 337 789.4 336.4 789.1 335.8 788.8 335.2 788.6 334.6 788.9 334 788.5 333.4 788.4 332.8 787.9 332.2 788.3 331.6 788 331 787.9 330.4 787.8 329.8 787.3 329.2 787.6 328.6 787.5 328 786.9 327.4 787 326.8 786.7 326.2 786.6 325.6 786.8 325 786.5 324.4 786.4 323.8 786.2 323.2 785.9 322.6 785.9 322 786 321.4 786.1 320.8 785.6 320.2 785.6 319.6 785.5 319 785.6 318.4 785.1 317.8 784.9 317.2 785.2 316.6 785 316 785 315.4 784.7 314.8 784.2 314.2 784.3 313.6 784.4 313 783.9 312.4 784 311.8 783.7 311.2 784 310.6 783.5 310 783.6 309.4 783.7 308.8 783.3 308.2 783.2 307.6 783.3 307 782.7 306.4 782.9 305.8 782.5 305.2 782.9 304.6 782.5 304 782.4 303.4 782.1 302.8 782.3 302.2 782.1 301.6 781.7 301 782.2 300.4 781.8 299.8 781.5 299.2 781.3 298.6 781.6 298 781.4 297.4 781.5 296.8 781.3 296.2 781 295.6 780.8 295 780.6 294.4 780.7 293.8 780.6 293.2 780.6 292.6 780.6 292 780.3 291.4 780.4 290.8 779.8 290.2 779.9 289.6 779.8 289 779.7 288.4 779.9 287.8 779.7 287.2 779.4 286.6 779.7 286 779.2 285.4 779.2 284.8 779.3 284.2 778.9 283.6 779 283 779 282.4 778.8 281.8 778.3 281.2 778.6 280.6 778.3 280 778.5 279.4 778 278.8 778.2 278.2 777.8 277.6 778 277 777.6 276.4 777.5 275.8 777.6 275.2 777.4 274.6 777.6 274 777.3 273.4 777.2 272.8 776.9 272.2 776.9 271.6 776.9 271 777.1 270.4 777 269.8 776.8 269.2 776.6 268.6 776.6 268 776.3 267.4 776.3 266.8 776.1 266.2 776.4 265.6 775.9 265 775.9 264.4 775.9 263.8 775.7 263.2 775.8 262.6 775.8 262 775.7 261.4 775.5 260.8 775.3 260.2 775 259.6 775 259 775 258.4 774.7 257.8 774.9 257.2 774.5 256.6 775 256 774.8 255.4 774.4 254.8 774.1 254.2 774.5 253.6 774.1 253 773.9 252.4 774.3 251.8 774.1 251.2 773.7 250.6 774.1 250 773.7 249.4 773.5 248.8 773.7 248.2 773.6 247.6 773.4 247 773.5 246.4 773.5 245.8 773 245.2 773.1 244.6 772.8 244 772.9 243.4 772.5 242.8 772.6 242.2 772.5 241.6 772.3 241 772.2 240.4 772.1 239.8 772.5 239.2 772.2 238.6 772 238 772 237.4 771.9 236.8 771.9 236.2 772.1 235.6 771.9 235 771.7 234.4 771.3 233.8 771.6 233.2 771.6 232.6 771.6 232 771.4 231.4 771.2 230.8 770.9 230.2 771.1 229.6 770.8 229 770.8 228.4 770.9 227.8 770.4 227.2 770.6 226.6 770.6 226 770.5 225.4 770.1 224.8 770.3 224.2 770 223.6 769.8 223 770 222.4 769.9 221.8 770 221.2 769.9 220.6 769.7 220 769.4 219.4 769.8 218.8 769.2 218.2 769.6 217.6 769.1 217 768.9 216.4 769.3 215.8 768.8 215.2 769.1 214.6 768.6 214 769 213.4 768.6 212.8 768.7 212.2 768.6 211.6 768.7 211 768.1 210.4 768.3 209.8 768.2 209.2 767.9 208.6 767.9 208 768.2 207.4 768.2 206.8 767.5 206.2 767.8 205.6 767.8 205 767.4 204.4 767.2 203.8 767.4 203.2 767.1 202.6 767.1 202 766.9 201.4 767 200.8 767.1 200.2 766.6 199.6 766.7 199 766.5 198.4 766.7 197.8 766.5 197.2 766.5 196.6 766 196 765.7 195.4 765.7 194.8 765.7 194.2 765.8 193.6 765.3 193 765.7 192.4 765.5 191.8 765.4 191.2 765.3 190.6 765 190 764.8 189.4 764.8 188.8 764.6 188.2 764.6 187.6 764.6 187 764.2 186.4 764.2 185.8 763.9 185.2 763.8 184.6 763.7 184 763.6 183.4 763.4 182.8 763.7 182.2 763.6 181.6 763.4 181 763.1 180.4 763 179.8 762.9 179.2 762.8 178.6 763 178 762.6 177.4 762.6 176.8 762.8 176.2 762.3 175.6 762.5 175 762.5 174.4 762 173.8 762.3 173.2 762.1 172.6 762.2 172 762.1 171.4 762 170.8 761.7 170.2 761.8 169.6 761.8 169 761.9 168.4 761.4 167.8 761.7 167.2 761.3 166.6 761.5 166 761.5 165.4 761.1 164.8 760.9 164.2 761.1 163.6 761.1 163 761 162.4 761.1 161.8 761 161.2 761.1 160.6 760.7 160 760.9 159.4 760.7 158.8 760.5 158.2 760.5 157.6 760.3 157 760.5 156.4 760.2 155.8 760.6 155.2 760.6 154.6 760.1 154 760.2 153.4 760.5 152.8 760.1 152.2 760.2 151.6 760.3 151 760.2 150.4 760.1 149.8 759.7 149.2 759.9 148.6 759.6 148 760 147.4 759.8 146.8 759.4 146.2 759.6 145.6 759.7 145 759.5 144.4 759.3 143.8 759.2 143.2 759.3 142.6 759.5 142 759.5 141.4 759 140.8 759 140.2 759.2 139.6 758.8 139 759.1 138.4 759.1 137.8 758.6 137.2 759 136.6 758.4 136 758.6 135.4 758.4 134.8 757.9 134.2 757.9 133.6 757.8 133 757.8 132.4 757.5 131.8 757.5 131.2 756.9 130.6 757 130 756.9 129.4 756.4 128.8 756.1 128.2 756.3 127.6 756.1 127 756 126.4 755.5 125.8 755.4 125.2 755.6 124.6Z"/>
<path d="M865.7 149 865.4 149.6 865.3 150.2 865.4 150.8 865.4 151.4 864.9 152 865.1 152.6 864.9 153.2 865.2 153.8 865 154.4 864.6 155 864.8 155.6 864.3 156.2 864.4 156.8 864.3 157.4 864.1 158 864 158.6 864.2 159.2 864 159.8 863.9 160.4 863.5 161 863.9 161.6 863.7 162.2 863.4 162.8 863.8 163.4 863.3 164 863.6 164.6 863.8 165.2 863.7 165.8 863.6 166.4 863.2 167 863.2 167.6 863.2 168.2 863.2 168.8 863.4 169.4 863.5 170 863.4 170.6 863 171.2 863.4 171.8 863.2 172.4 863.3 173 863 173.6 863 174.2 863.2 174.8 863.2 175.4 863.2 176 862.8 176.6 863.2 177.2 862.6 177.8 862.8 178.4 863 179 862.8 179.6 862.5 180.2 862.7 180.8 862.8 181.4 862.8 182 862.6 182.6 862.3 183.2 862.7 183.8 862.1 184.4 862.4 185 862.1 185.6 862.4 186.2 861.8 186.8 862.1 187.4 862.1 188 861.6 188.6 862 189.2 861.9 189.8 861.5 190.4 861.5 191 861.6 191.6 861.5 192.2 861.4 192.8 861.2 193.4 861.4 194 861.3 194.6 860.8 195.2 861.3 195.8 861 196.4 860.8 197 860.7 197.6 861 198.2 860.8 198.8 860.4 199.4 860.5 200 860.6 200.6 860.2 201.2 860.4 201.8 860.2 202.4 860.3 203 860.1 203.6 860 204.2 860.2 204.8 859.9 205.4 859.8 206 860.1 206.6 859.9 207.2 859.6 207.8 859.7 208.4 860.1 209 859.6 209.6 859.6 210.2 859.8 210.8 859.5 211.4 859.8 212 859.4 212.6 859.6 213.2 859.7 213.8 859.4 214.4 859.1 215 859.5 215.6 859.4 216.2 859 216.8 859.3 217.4 859.2 218 859.2 218.6 858.8 219.2 858.6 219.8 858.5 220.4 858.8 221 858.4 221.6 858.4 222.2 858.3 222.8 858.4 223.4 858.3 224 858.5 224.6 858.2 225.2 858.1 225.8 857.9 226.4 858.1 227 858.2 227.6 857.9 228.2 858.1 228.8 858 229.4 857.6 230 857.8 230.6 857.4 231.2 857.6 231.8 857.6 232.4 857.3 233 857.3 233.6 857.2 234.2 857.2 234.8 856.8 235.4 857.1 236 856.8 236.6 856.5 237.2 856.5 237.8 856.3 238.4 856.6 239 856.2 239.6 856.3 240.2 856.1 240.8 856 241.4 856.2 242 856.1 242.6 855.6 243.2 856 243.8 855.7 244.4 855.8 245 855.5 245.6 855.5 246.2 855.2 246.8 855.5 247.4 855 248 855.2 248.6 855 249.2 854.9 249.8 854.8 250.4 854.9 251 854.5 251.6 854.6 252.2 854.6 252.8 854 253.4 854.4 254 854.2 254.6 854.3 255.2 853.6 255.8 853.7 256.4 853.5 257 853.4 257.6 853.6 258.2 853.5 258.8 853.4 259.4 853.5 260 853.1 260.6 853.1 261.2 853 261.8 852.9 262.4 852.8 263 852.6 263.6 852.6 264.2 852.7 264.8 852.5 265.4 852.6 266 852.5 266.6 852.1 267.2 852.2 267.8 852.2 268.4 851.9 269 851.6 269.6 852 270.2 851.4 270.8 851.5 271.4 851.4 272 851.4 272.6 851 273.2 851.5 273.8 851.4 274.4 851.1 275 850.7 275.6 850.8 276.2 850.6 276.8 850.5 277.4 850.4 278 850.4 278.6 850.1 279.2 850.2 279.8 849.9 280.4 849.8 281 849.9 281.6 850 282.2 849.7 282.8 849.7 283.4 849.3 284 849.5 284.6 849.5 285.2 849.4 285.8 849.2 286.4 848.9 287 849 287.6 849.1 288.2 848.6 288.8 848.4 289.4 848.5 290 848.5 290.6 848.4 291.2 848.6 291.8 848 292.4 848 293 848 293.6 848.1 294.2 848 294.8 847.9 295.4 847.4 296 847.3 296.6 847.5 297.2 847.4 297.8 846.9 298.4 846.9 299 846.9 299.6 846.7 300.2 846.7 300.8 846.6 301.4 846.7 302 846.4 302.6 846.2 303.2 846.2 303.8 846.1 304.4 846.2 305 845.7 305.6 845.7 306.2 845.7 306.8 845.4 307.4 845.4 308 845.4 308.6 845.1 309.2 845.1 309.8 845.2 310.4 844.8 311 845 311.6 844.7 312.2 844.7 312.8 844.3 313.4 844.5 314 844 314.6 844 315.2 844.1 315.8 843.7 316.4 843.8 317 843.4 317.6 843.3 318.2 843.2 318.8 843.3 319.4 843.1 320 842.9 320.6 842.8 321.2 842.9 321.8 842.9 322.4 842.7 323 842.7 323.6 842.1 324.2 842 324.8 841.9 325.4 841.8 326 841.7 326.6 841.9 327.2 841.7 327.8 841.4 328.4 841.1 329 841 329.6 840.9 330.2 841.1 330.8 841 331.4 840.9 332 840.5 332.6 840.8 333.2 840.4 333.8 840 334.4 840.3 335 839.7 335.6 839.6 336.2 839.5 336.8 839.7 337.4 839.7 338 839.4 338.6 839.1 339.2 838.8 339.8 838.8 340.4 838.6 341 838.8 341.6 838.4 342.2 838.5 342.8 838 343.4 838 344 838.1 344.6 838.1 345.2 837.6 345.8 837.4 346.4 837.7 347 837.2 347.6 836.9 348.2 837.3 348.8 837 349.4 836.6 350 836.7 350.6 836.2 351.2 836 351.8 836.3 352.4 836 353 836 353.6 835.9 354.2 835.3 354.8 835.4 355.4 835.1 356 834.9 356.6 834.7 357.2 834.6 357.8 834.8 358.4 834.2 359 834.3 359.6 834.1 360.2 833.8 360.8 833.9 361.4 833.6 362 833.3 362.6 833.1 363.2 833.2 363.8 833 364.4 832.5 365 832.5 365.6 832.2 366.2 832.4 366.8 831.8 367.4 832 368 831.7 368.6 831.6 369.2 831.8 369.8 831.7 370.4 831.3 371 831.3 371.6 831.5 372.2 830.9 372.8 831 373.4 830.6 374 830.9 374.6 830.4 375.2 830.3 375.8 829.9 376.4 829.6 377 829.4 377.6 829.6 378.2 829.6 378.8 828.9 379.4 828.9 380 828.7 380.6 828.4 381.2 828 381.8 828.3 382.4 827.9 383 827.5 383.6 827.4 384.2 827.4 384.8 826.7 385.4 826.6 386 826.4 386.6 826.1 387.2 826.1 387.8 825.5 388.4 825.7 389 825.2 389.6 824.7 390.2 824.6 390.8 824.2 391.4 824.3 392 823.9 392.6 823.4 393.2 823.5 393.8 822.7 394.4 822.5 395 822.1 395.6 822 396.2 821.3 396.8 820.9 397.4 820.4 398 820.2 398.6 819.9 399.2 819.2 399.8 818.4 400.4 818 401 817.5 401.6 816.9 402.2 816.1 402.8 819.6 402.8 820.3 402.2 820.8 401.6 821.3 401 822 400.4 822.7 399.8 822.7 399.2 823.5 398.6 824 398 824.7 397.4 825 396.8 825 396.2 825.4 395.6 825.9 395 826.4 394.4 826.3 393.8 826.7 393.2 827.1 392.6 827.5 392 828 391.4 828.4 390.8 828.5 390.2 828.6 389.6 828.9 389 829.5 388.4 829.6 387.8 829.9 387.2 830.1 386.6 830.8 386 830.9 385.4 831 384.8 831.3 384.2 831.4 383.6 832.1 383 832.3 382.4 832.3 381.8 832.7 381.2 832.9 380.6 832.9 380 833.1 379.4 833.3 378.8 833.7 378.2 833.8 377.6 834.4 377 834.2 376.4 834.7 375.8 834.9 375.2 835.1 374.6 835.3 374 835.5 373.4 835.9 372.8 835.9 372.2 836 371.6 836.3 371 836.9 370.4 837.1 369.8 837.7 369.2 838 368.6 837.8 368 838 367.4 838.2 366.8 838.3 366.2 838.9 365.6 839 365 838.8 364.4 839.2 363.8 839.2 363.2 839.8 362.6 839.7 362 839.7 361.4 839.9 360.8 840 360.2 840.1 359.6 840.5 359 840.9 358.4 840.8 357.8 840.9 357.2 841 356.6 841.1 356 841.7 355.4 841.5 354.8 841.9 354.2 841.9 353.6 841.9 353 842 352.4 842.6 351.8 842.4 351.2 842.7 350.6 843.1 350 843.2 349.4 843 348.8 843.3 348.2 843.3 347.6 843.3 347 843.7 346.4 843.7 345.8 843.9 345.2 844.2 344.6 844 344 844.6 343.4 844.3 342.8 844.9 342.2 845.1 341.6 844.8 341 845 340.4 845.1 339.8 845.3 339.2 845.4 338.6 845.4 338 845.4 337.4 845.9 336.8 846 336.2 845.8 335.6 846.5 335 846.1 334.4 846.7 333.8 846.7 333.2 846.8 332.6 846.9 332 847.2 331.4 847.1 330.8 847.4 330.2 847.2 329.6 847.6 329 847.5 328.4 847.7 327.8 847.7 327.2 848.1 326.6 848.3 326 848.3 325.4 848.4 324.8 848.5 324.2 848.7 323.6 848.9 323 848.8 322.4 848.9 321.8 848.9 321.2 849.1 320.6 849.1 320 849.5 319.4 849.6 318.8 849.7 318.2 849.9 317.6 850.2 317 849.8 316.4 850.4 315.8 850.2 315.2 850.4 314.6 850.4 314 850.7 313.4 850.9 312.8 850.7 312.2 851.1 311.6 850.9 311 851 310.4 851.2 309.8 851.3 309.2 851.5 308.6 851.7 308 851.8 307.4 851.6 306.8 851.7 306.2 851.9 305.6 852.2 305 852 304.4 852.1 303.8 852.4 303.2 852.4 302.6 852.7 302 853 301.4 853 300.8 853 300.2 852.8 299.6 853.2 299 853 298.4 853.7 297.8 853.7 297.2 853.7 296.6 854 296 853.9 295.4 853.8 294.8 854.3 294.2 854.2 293.6 854.1 293 854.4 292.4 854.2 291.8 854.6 291.2 854.7 290.6 854.6 290 854.9 289.4 855.2 288.8 855.2 288.2 855.1 287.6 855.4 287 855.1 286.4 855.3 285.8 855.4 285.2 855.5 284.6 855.9 284 855.9 283.4 855.8 282.8 855.7 282.2 856.3 281.6 856.4 281 856 280.4 856.6 279.8 856.7 279.2 856.7 278.6 856.5 278 856.7 277.4 856.6 276.8 856.7 276.2 856.8 275.6 857.2 275 857.1 274.4 857.2 273.8 857.1 273.2 857.5 272.6 857.8 272 857.5 271.4 857.6 270.8 857.7 270.2 858 269.6 858.2 269 857.9 268.4 858.5 267.8 858.5 267.2 858.3 266.6 858.2 266 858.5 265.4 858.8 264.8 858.7 264.2 858.9 263.6 858.8 263 858.9 262.4 859.2 261.8 859.1 261.2 859.3 260.6 859.2 260 859.2 259.4 859.8 258.8 859.5 258.2 859.5 257.6 859.7 257 859.8 256.4 860.1 255.8 859.9 255.2 859.9 254.6 859.9 254 860.3 253.4 860.1 252.8 860.6 252.2 860.3 251.6 860.7 251 860.8 250.4 861 249.8 860.7 249.2 861 248.6 860.7 248 861 247.4 860.9 246.8 861.3 246.2 861.3 245.6 861.1 245 861.3 244.4 861.5 243.8 861.5 243.2 861.4 242.6 861.9 242 861.6 241.4 862 240.8 861.9 240.2 861.8 239.6 861.8 239 862.2 238.4 862 237.8 862.2 237.2 862.1 236.6 862.7 236 862.2 235.4 862.3 234.8 862.7 234.2 862.9 233.6 863 233 862.9 232.4 863.1 231.8 862.7 231.2 862.9 230.6 862.9 230 863.4 229.4 863 228.8 863.3 228.2 863.2 227.6 863.2 227 863.3 226.4 863.6 225.8 863.5 225.2 863.4 224.6 863.5 224 863.7 223.4 863.6 222.8 863.6 222.2 864.1 221.6 863.7 221 864 220.4 863.9 219.8 864 219.2 864.1 218.6 863.9 218 863.8 217.4 863.9 216.8 863.9 216.2 864 215.6 864 215 864.1 214.4 864.1 213.8 864.2 213.2 864.5 212.6 864.7 212 864.7 211.4 864.3 210.8 864.2 210.2 864.6 209.6 864.3 209 864.4 208.4 864.7 207.8 864.7 207.2 864.5 206.6 864.9 206 864.7 205.4 865.1 204.8 864.7 204.2 865.1 203.6 865.1 203 865.3 202.4 865.2 201.8 865.5 201.2 864.9 200.6 865.5 200 865.2 199.4 865.3 198.8 865.2 198.2 865.7 197.6 865.7 197 865.3 196.4 865.5 195.8 866 195.2 865.6 194.6 866.1 194 865.8 193.4 866.2 192.8 866.2 192.2 866.3 191.6 866.2 191 866.6 190.4 866.3 189.8 866.7 189.2 866.8 188.6 866.8 188 866.7 187.4 866.5 186.8 866.6 186.2 866.6 185.6 867.1 185 867 184.4 867.3 183.8 867.3 183.2 867.2 182.6 867 182 867 181.4 867.2 180.8 867 180.2 867.3 179.6 867.3 179 867.5 178.4 867.1 177.8 867.5 177.2 867.6 176.6 867.5 176 867.8 175.4 867.7 174.8 867.8 174.2 867.8 173.6 867.7 173 867.7 172.4 867.8 171.8 867.8 171.2 867.5 170.6 867.7 170 868 169.4 867.9 168.8 868 168.2 868 167.6 867.9 167 868.2 166.4 868 165.8 868.1 165.2 867.9 164.6 867.9 164 867.8 163.4 868.2 162.8 867.9 162.2 868.1 161.6 868.2 161 868.2 160.4 867.9 159.8 867.6 159.2 867.6 158.6 867.6 158 867.8 157.4 867.4 156.8 867.3 156.2 867.5 155.6 867.2 155 867.1 154.4 867.2 153.8 867.1 153.2 867.4 152.6 867 152 867 151.4 866.7 150.8 867 150.2 866.7 149.6 866.5 149Z"/>
<path d="M865.7 149 865.3 149.6 865.3 150.2 865.4 150.8 865.3 151.4 865.1 152 865.3 152.6 864.8 153.2 864.6 153.8 864.7 154.4 864.4 155 864.6 155.6 864.2 156.2 864.3 156.8 864.4 157.4 864.4 158 864 158.6 863.9 159.2 863.7 159.8 863.7 160.4 863.9 161 863.5 161.6 863.6 162.2 863.6 162.8 863.6 163.4 864.1 164 863.9 164.6 863.6 165.2 864.1 165.8 864 166.4 864.2 167 864 167.6 864.2 168.2 863.9 168.8 864.1 169.4 864.1 170 864.2 170.6 864.1 171.2 864.1 171.8 864.4 172.4 864.5 173 864 173.6 864.1 174.2 864.5 174.8 864.2 175.4 864.4 176 864.1 176.6 864.1 177.2 864.4 177.8 864.6 178.4 864.4 179 864.4 179.6 864.4 180.2 864.2 180.8 864.8 181.4 864.8 182 864.4 182.6 864.6 183.2 864.6 183.8 864.5 184.4 864.6 185 864.9 185.6 864.8 186.2 864.8 186.8 864.8 187.4 864.7 188 864.8 188.6 864.7 189.2 864.8 189.8 864.8 190.4 865 191 865.3 191.6 865.3 192.2 865.1 192.8 865.4 193.4 865.4 194 865.4 194.6 865.3 195.2 865.2 195.8 865.6 196.4 865.5 197 865.3 197.6 865.6 198.2 865.9 198.8 865.6 199.4 865.9 200 866 200.6 865.8 201.2 866 201.8 866.4 202.4 866.6 203 866.2 203.6 866.8 204.2 867 204.8 867.1 205.4 867 206 867.4 206.6 867.6 207.2 867.8 207.8 867.6 208.4 868.3 209 868.4 209.6 868.4 210.2 868.6 210.8 868.6 211.4 868.9 212 868.9 212.6 869 213.2 869.7 213.8 869.8 214.4 869.6 215 869.8 215.6 870.4 216.2 870.4 216.8 870.6 217.4 870.4 218 870.4 218.6 870.9 219.2 870.7 219.8 871.1 220.4 871 221 871.1 221.6 871.2 222.2 870.9 222.8 870.9 223.4 870.9 224 870.9 224.6 871.4 225.2 871.5 225.8 871 226.4 871.2 227 871.1 227.6 871.5 228.2 871.6 228.8 871.7 229.4 871.4 230 871.8 230.6 871.7 231.2 872 231.8 872.4 232.4 872 233 872.2 233.6 872.2 234.2 872.3 234.8 872.8 235.4 873 236 872.8 236.6 873.3 237.2 873.1 237.8 873.1 238.4 873.1 239 873.2 239.6 873.8 240.2 873.5 240.8 873.8 241.4 873.7 242 873.9 242.6 874 243.2 874.4 243.8 874.6 244.4 874.3 245 874.4 245.6 874.4 246.2 874.6 246.8 874.8 247.4 874.7 248 875.3 248.6 874.9 249.2 875.2 249.8 875.5 250.4 875.3 251 875.6 251.6 875.5 252.2 875.9 252.8 876.2 253.4 876 254 876.1 254.6 876.1 255.2 876.2 255.8 876.3 256.4 876.7 257 876.9 257.6 877.1 258.2 877 258.8 876.9 259.4 877.2 260 877.6 260.6 877.5 261.2 877.6 261.8 877.5 262.4 877.7 263 878.1 263.6 878.3 264.2 878.1 264.8 878.6 265.4 878.3 266 878.5 266.6 878.6 267.2 879 267.8 878.9 268.4 879.4 269 879.3 269.6 879.3 270.2 879.3 270.8 879.4 271.4 879.7 272 879.9 272.6 879.9 273.2 880.2 273.8 880.2 274.4 880.6 275 880.2 275.6 880.6 276.2 880.9 276.8 881.1 277.4 881.1 278 881.2 278.6 881.2 279.2 881.5 279.8 881.7 280.4 881.8 281 881.8 281.6 882.1 282.2 881.8 282.8 882.3 283.4 882.5 284 882.6 284.6 882.7 285.2 882.9 285.8 882.8 286.4 882.9 287 883.4 287.6 883.1 288.2 883.6 288.8 883.7 289.4 883.9 290 884 290.6 883.8 291.2 883.8 291.8 884.3 292.4 884.5 293 884.2 293.6 884.3 294.2 884.6 294.8 884.8 295.4 885.1 296 885.3 296.6 885.2 297.2 885.5 297.8 885.7 298.4 885.6 299 886 299.6 885.9 300.2 885.8 300.8 886.1 301.4 886.1 302 886.5 302.6 886.5 303.2 887 303.8 886.9 304.4 887 305 887.2 305.6 887.5 306.2 887.8 306.8 887.6 307.4 887.8 308 887.8 308.6 888.1 309.2 888.1 309.8 888.7 310.4 888.7 311 888.6 311.6 888.7 312.2 889 312.8 889.4 313.4 889.2 314 889.5 314.6 889.5 315.2 889.9 315.8 890.2 316.4 889.9 317 890.4 317.6 890.1 318.2 890.4 318.8 890.5 319.4 890.6 320 890.8 320.6 891 321.2 891.3 321.8 891.1 322.4 891.8 323 891.6 323.6 891.9 324.2 891.9 324.8 892.1 325.4 892.1 326 892.4 326.6 892.4 327.2 892.6 327.8 893.1 328.4 892.9 329 893.1 329.6 893.7 330.2 893.8 330.8 893.8 331.4 893.8 332 894.3 332.6 894.3 333.2 894.2 333.8 894.6 334.4 894.8 335 894.8 335.6 894.7 336.2 895.4 336.8 895.4 337.4 895.7 338 895.7 338.6 896 339.2 896.1 339.8 896.4 340.4 896.5 341 896.3 341.6 896.7 342.2 896.7 342.8 896.8 343.4 897.2 344 897.4 344.6 897.4 345.2 897.9 345.8 897.8 346.4 898.3 347 898.4 347.6 898.2 348.2 898.4 348.8 898.6 349.4 898.8 350 899.1 350.6 899.5 351.2 899.6 351.8 899.7 352.4 899.8 353 899.8 353.6 900.2 354.2 900.2 354.8 900.2 355.4 900.4 356 900.7 356.6 900.7 357.2 901.3 357.8 901.1 358.4 901.3 359 901.5 359.6 901.8 360.2 901.9 360.8 902.1 361.4 902.5 362 902.7 362.6 902.6 363.2 903.1 363.8 903.2 364.4 903.6 365 903.7 365.6 903.8 366.2 903.7 366.8 903.9 367.4 904.2 368 904.3 368.6 904.3 369.2 904.7 369.8 904.9 370.4 905 371 905.5 371.6 905.7 372.2 905.7 372.8 905.8 373.4 906.2 374 906.2 374.6 906.7 375.2 907 375.8 907.1 376.4 907.3 377 907.5 377.6 907.5 378.2 908.1 378.8 907.8 379.4 908.3 380 908.1 380.6 908.4 381.2 908.6 381.8 909.2 382.4 909.4 383 909.4 383.6 909.9 384.2 909.6 384.8 910.3 385.4 910.4 386 910.8 386.6 910.8 387.2 910.8 387.8 911.3 388.4 911.7 389 911.6 389.6 911.7 390.2 912.4 390.8 912.3 391.4 912.8 392 913 392.6 913 393.2 913.6 393.8 913.5 394.4 913.5 395 914.3 395.6 914.3 396.2 914.5 396.8 914.9 397.4 915.2 398 915.2 398.6 915.5 399.2 916.3 399.8 916.1 400.4 916.6 401 917 401.6 917 402.2 917.5 402.8 924.4 402.8 924.1 402.2 923.9 401.6 923.5 401 923.4 400.4 923.2 399.8 922.5 399.2 922.7 398.6 922.4 398 921.6 397.4 921.7 396.8 921.2 396.2 921.1 395.6 920.6 395 920.3 394.4 920.1 393.8 920.1 393.2 919.7 392.6 919.8 392 919.1 391.4 919.2 390.8 918.9 390.2 918.5 389.6 918.6 389 918.3 388.4 917.8 387.8 917.6 387.2 917.7 386.6 917.6 386 917.1 385.4 916.8 384.8 916.8 384.2 916.4 383.6 916 383 916.3 382.4 915.5 381.8 915.8 381.2 915.3 380.6 915.4 380 914.7 379.4 914.6 378.8 914.6 378.2 914.2 377.6 914 377 913.7 376.4 913.6 375.8 913.6 375.2 913.6 374.6 913 374 913.2 373.4 912.5 372.8 912.5 372.2 912.3 371.6 912 371 911.7 370.4 911.7 369.8 911.4 369.2 911.7 368.6 911.3 368 910.7 367.4 911 366.8 910.9 366.2 910.2 365.6 910.1 365 910.1 364.4 909.9 363.8 909.4 363.2 909.6 362.6 909.4 362 909.1 361.4 909.2 360.8 909 360.2 908.8 359.6 908.7 359 908.4 358.4 908 357.8 907.7 357.2 907.9 356.6 907.7 356 907.1 355.4 907.3 354.8 907.2 354.2 907 353.6 906.9 353 906.5 352.4 906.6 351.8 905.9 351.2 905.9 350.6 906 350 905.8 349.4 905.5 348.8 905.4 348.2 905.2 347.6 904.6 347 904.6 346.4 904.4 345.8 904.6 345.2 904.1 344.6 904.2 344 903.9 343.4 903.6 342.8 903.6 342.2 903.6 341.6 903.5 341 902.9 340.4 902.7 339.8 902.7 339.2 902.4 338.6 902.6 338 902.5 337.4 902.1 336.8 901.9 336.2 901.6 335.6 901.8 335 901.6 334.4 901 333.8 900.9 333.2 900.8 332.6 901.1 332 900.5 331.4 900.4 330.8 900.2 330.2 900 329.6 900.2 329 899.6 328.4 899.4 327.8 899.6 327.2 899.7 326.6 899 326 898.8 325.4 898.8 324.8 899.1 324.2 898.5 323.6 898.3 323 898.1 322.4 898.2 321.8 898 321.2 897.9 320.6 897.9 320 897.8 319.4 897.5 318.8 897.3 318.2 897.3 317.6 896.7 317 896.6 316.4 896.4 315.8 896.4 315.2 896.2 314.6 896.2 314 896.3 313.4 895.8 312.8 895.9 312.2 895.4 311.6 895.4 311 895.2 310.4 895.1 309.8 894.8 309.2 894.6 308.6 894.8 308 894.3 307.4 894.2 306.8 894.4 306.2 894.2 305.6 894.1 305 893.7 304.4 894 303.8 893.6 303.2 893.2 302.6 893.1 302 893 301.4 892.9 300.8 892.6 300.2 892.9 299.6 892.4 299 892.7 298.4 892.4 297.8 892.1 297.2 892.3 296.6 892.1 296 892 295.4 891.8 294.8 891.4 294.2 891.6 293.6 891.1 293 891.3 292.4 891 291.8 890.9 291.2 891 290.6 890.3 290 890.6 289.4 890.2 288.8 890.3 288.2 890.2 287.6 889.9 287 889.8 286.4 889.5 285.8 889.7 285.2 889.2 284.6 889.2 284 889 283.4 888.7 282.8 889 282.2 888.9 281.6 888.8 281 888.5 280.4 888.2 279.8 888.1 279.2 888.3 278.6 888.1 278 887.8 277.4 887.6 276.8 887.8 276.2 887.6 275.6 887.2 275 887.3 274.4 886.9 273.8 886.9 273.2 886.9 272.6 886.8 272 886.6 271.4 886.1 270.8 886.5 270.2 886.4 269.6 886 269 885.8 268.4 885.6 267.8 885.8 267.2 885.6 266.6 885.4 266 885.5 265.4 885.2 264.8 884.8 264.2 884.8 263.6 884.6 263 884.9 262.4 884.6 261.8 884.1 261.2 884.1 260.6 883.9 260 883.9 259.4 883.8 258.8 883.9 258.2 883.6 257.6 883.6 257 883.7 256.4 883.2 255.8 882.9 255.2 883.3 254.6 883.1 254 883.1 253.4 882.4 252.8 882.4 252.2 882.6 251.6 882.3 251 882.2 250.4 881.8 249.8 881.9 249.2 881.5 248.6 881.5 248 881.7 247.4 881.6 246.8 881.2 246.2 881.1 245.6 880.8 245 880.8 244.4 880.9 243.8 880.4 243.2 880.6 242.6 880.5 242 880.4 241.4 880.5 240.8 880 240.2 879.9 239.6 879.9 239 879.6 238.4 879.6 237.8 879.3 237.2 879.5 236.6 879.5 236 878.9 235.4 878.8 234.8 878.7 234.2 878.7 233.6 878.7 233 878.8 232.4 878.3 231.8 878.3 231.2 878 230.6 878 230 877.8 229.4 877.9 228.8 877.9 228.2 877.5 227.6 877.8 227 877.8 226.4 877.5 225.8 877.7 225.2 877.3 224.6 877.6 224 877.2 223.4 877.2 222.8 877.5 222.2 877.4 221.6 877 221 876.8 220.4 876.9 219.8 876.6 219.2 876.7 218.6 876.4 218 876.7 217.4 876.2 216.8 876.5 216.2 875.8 215.6 875.8 215 875.5 214.4 875.9 213.8 875.7 213.2 875.4 212.6 874.8 212 874.8 211.4 874.7 210.8 874.2 210.2 874.1 209.6 874.2 209 873.7 208.4 873.9 207.8 873.3 207.2 873.3 206.6 872.9 206 872.7 205.4 872.7 204.8 872.5 204.2 872.4 203.6 872.1 203 872 202.4 871.9 201.8 872.1 201.2 871.8 200.6 871.9 200 871.6 199.4 871.6 198.8 871.5 198.2 871.4 197.6 871.1 197 871.1 196.4 871.2 195.8 871.3 195.2 870.9 194.6 870.8 194 870.9 193.4 870.7 192.8 870.8 192.2 870.7 191.6 870.9 191 870.7 190.4 870.6 189.8 871 189.2 870.8 188.6 870.4 188 870.6 187.4 870.4 186.8 870.7 186.2 870.4 185.6 870.1 185 870.2 184.4 870.6 183.8 870.3 183.2 870.5 182.6 870.2 182 869.9 181.4 870.1 180.8 870.1 180.2 869.8 179.6 869.9 179 869.8 178.4 870.2 177.8 870.1 177.2 870.1 176.6 870.1 176 869.6 175.4 870.1 174.8 870 174.2 869.6 173.6 869.5 173 869.4 172.4 869.6 171.8 869.5 171.2 869.4 170.6 869.7 170 869.3 169.4 869.5 168.8 869.2 168.2 869.5 167.6 869.2 167 869.3 166.4 869.3 165.8 869 165.2 869.3 164.6 869.2 164 869.2 163.4 869.3 162.8 869.3 162.2 869.1 161.6 869 161 868.9 160.4 868.7 159.8 868.6 159.2 868.7 158.6 868.7 158 868.5 157.4 868.4 156.8 868.2 156.2 867.8 155.6 867.7 155 867.6 154.4 867.8 153.8 867.5 153.2 867.1 152.6 867.1 152 867 151.4 867.1 150.8 866.6 150.2 866.5 149.6 866.5 149Z"/>
<path d="M982.8 122.2 982.5 122.8 982.3 123.4 982.4 124 982.6 124.6 982.2 125.2 982.1 125.8 982.1 126.4 982 127 981.8 127.6 981.7 128.2 981.6 128.8 981.5 129.4 981.1 130 981.3 130.6 981 131.2 981.2 131.8 981.1 132.4 980.9 133 980.6 133.6 980.7 134.2 980.2 134.8 980.4 135.4 980.4 136 980.5 136.6 980.2 137.2 980.4 137.8 980.3 138.4 980.2 139 979.9 139.6 980.1 140.2 980.3 140.8 980.1 141.4 979.9 142 979.8 142.6 979.8 143.2 980.2 143.8 979.8 144.4 979.9 145 979.8 145.6 979.5 146.2 979.5 146.8 979.7 147.4 979.8 148 979.6 148.6 979.8 149.2 979.7 149.8 979.6 150.4 979.4 151 979.6 151.6 979.1 152.2 979.1 152.8 979.1 153.4 979.4 154 979.1 154.6 979.4 155.2 979.2 155.8 978.9 156.4 978.8 157 979.2 157.6 978.8 158.2 978.7 158.8 978.8 159.4 978.9 160 978.6 160.6 978.7 161.2 978.9 161.8 978.4 162.4 978.5 163 978.5 163.6 978.4 164.2 978.3 164.8 978.3 165.4 978.2 166 978.6 166.6 978.3 167.2 978.4 167.8 978.4 168.4 978.3 169 978.3 169.6 977.8 170.2 977.8 170.8 978.1 171.4 977.7 172 977.8 172.6 977.8 173.2 977.6 173.8 977.5 174.4 977.6 175 978 175.6 977.9 176.2 977.8 176.8 977.4 177.4 977.3 178 977.7 178.6 977.6 179.2 977.1 179.8 977.1 180.4 977 181 977.1 181.6 977.5 182.2 977.3 182.8 977.2 183.4 977.1 184 976.8 184.6 976.8 185.2 976.9 185.8 977.1 186.4 976.6 187 977 187.6 976.5 188.2 976.8 188.8 976.7 189.4 976.4 190 976.5 190.6 976.6 191.2 976.1 191.8 976.1 192.4 976 193 975.9 193.6 976.3 194.2 975.8 194.8 975.7 195.4 976 196 976 196.6 975.6 197.2 976.1 197.8 975.7 198.4 975.8 199 975.4 199.6 975.8 200.2 975.4 200.8 975.3 201.4 975.6 202 975.5 202.6 975.5 203.2 975.4 203.8 975.2 204.4 974.8 205 975.2 205.6 975 206.2 974.5 206.8 974.8 207.4 974.9 208 974.7 208.6 974.7 209.2 974.6 209.8 974.5 210.4 974.6 211 974.1 211.6 974.2 212.2 974.3 212.8 973.8 213.4 974.2 214 973.7 214.6 974 215.2 973.5 215.8 973.9 216.4 973.4 217 973.6 217.6 973.3 218.2 973.3 218.8 973.2 219.4 973.4 220 973.4 220.6 973.4 221.2 973.1 221.8 973.1 222.4 973.1 223 972.7 223.6 973 224.2 972.6 224.8 972.3 225.4 972.6 226 972.5 226.6 972.5 227.2 972.5 227.8 972.2 228.4 972.1 229 972 229.6 971.7 230.2 971.6 230.8 971.7 231.4 972 232 971.8 232.6 971.7 233.2 971.6 233.8 971.4 234.4 971.2 235 971.2 235.6 971.2 236.2 971.3 236.8 971.1 237.4 971 238 970.7 238.6 970.6 239.2 970.5 239.8 970.6 240.4 970.4 241 970.5 241.6 970.4 242.2 970.1 242.8 970.1 243.4 970.4 244 969.9 244.6 970.1 245.2 969.9 245.8 970 246.4 969.5 247 969.5 247.6 969.4 248.2 969.8 248.8 969.2 249.4 969.1 250 969.6 250.6 969.2 251.2 969 251.8 968.9 252.4 968.7 253 968.9 253.6 968.5 254.2 968.9 254.8 968.4 255.4 968.3 256 968.6 256.6 968.3 257.2 968.3 257.8 968.3 258.4 967.9 259 967.9 259.6 967.9 260.2 967.7 260.8 967.9 261.4 967.7 262 967.3 262.6 967.2 263.2 967.5 263.8 967.4 264.4 967 265 966.8 265.6 966.7 266.2 966.6 266.8 967 267.4 967 268 966.4 268.6 966.3 269.2 966.7 269.8 966.3 270.4 966.2 271 966 271.6 965.8 272.2 966.1 272.8 965.9 273.4 965.8 274 965.6 274.6 965.6 275.2 965.5 275.8 965.6 276.4 965.1 277 964.9 277.6 965.1 278.2 964.7 278.8 964.9 279.4 964.5 280 964.5 280.6 964.3 281.2 964.2 281.8 964.1 282.4 964.1 283 964.2 283.6 964 284.2 963.6 284.8 964.1 285.4 963.7 286 963.7 286.6 963.3 287.2 963.5 287.8 963.1 288.4 963.2 289 963.2 289.6 962.7 290.2 962.6 290.8 962.9 291.4 962.6 292 962.8 292.6 962.2 293.2 962.2 293.8 962 294.4 961.9 295 961.7 295.6 961.6 296.2 961.7 296.8 961.4 297.4 961.5 298 961.3 298.6 961.4 299.2 961 299.8 961 300.4 960.6 301 960.7 301.6 960.9 302.2 960.7 302.8 960.7 303.4 960.1 304 960.1 304.6 960.2 305.2 959.7 305.8 959.9 306.4 959.8 307 959.5 307.6 959.7 308.2 959.4 308.8 959.1 309.4 959.2 310 958.8 310.6 958.8 311.2 958.9 311.8 958.5 312.4 958.5 313 958 313.6 958 314.2 957.9 314.8 958 315.4 957.7 316 957.6 316.6 957.4 317.2 957.7 317.8 957.5 318.4 957.3 319 957 319.6 956.8 320.2 956.7 320.8 956.4 321.4 956.3 322 956.2 322.6 956.2 323.2 956.2 323.8 956 324.4 955.9 325 955.9 325.6 955.5 326.2 955.6 326.8 955.1 327.4 954.8 328 955.1 328.6 955 329.2 954.7 329.8 954.5 330.4 954.4 331 954.4 331.6 954.4 332.2 954.1 332.8 953.8 333.4 953.6 334 953.7 334.6 953.3 335.2 953.1 335.8 953.3 336.4 953.2 337 952.8 337.6 952.3 338.2 952.6 338.8 952.4 339.4 952.3 340 952 340.6 951.9 341.2 951.9 341.8 951.4 342.4 951.5 343 951.2 343.6 951.3 344.2 950.6 344.8 950.4 345.4 950.2 346 950.4 346.6 950.1 347.2 950.3 347.8 950.1 348.4 949.7 349 949.5 349.6 949.6 350.2 948.9 350.8 949.2 351.4 949 352 948.6 352.6 948.3 353.2 948.2 353.8 948.4 354.4 947.7 355 947.6 355.6 947.4 356.2 947.2 356.8 947.1 357.4 947.1 358 946.7 358.6 947 359.2 946.7 359.8 946.2 360.4 946 361 946.1 361.6 945.9 362.2 945.5 362.8 945.4 363.4 945 364 944.7 364.6 944.8 365.2 944.6 365.8 944.6 366.4 944.3 367 943.9 367.6 943.9 368.2 943.8 368.8 943.6 369.4 943.6 370 943.5 370.6 943.2 371.2 943.3 371.8 942.9 372.4 943 373 943.1 373.6 942.5 374.2 942.3 374.8 942.5 375.4 942.1 376 941.5 376.6 941.6 377.2 941.2 377.8 941.3 378.4 940.7 379 940.7 379.6 940.6 380.2 940.6 380.8 940.2 381.4 939.7 382 939.3 382.6 939.2 383.2 939.3 383.8 938.8 384.4 938.6 385 938.7 385.6 938.3 386.2 937.7 386.8 937.9 387.4 937.7 388 937.2 388.6 936.8 389.2 936.5 389.8 936.4 390.4 936.4 391 935.9 391.6 935.6 392.2 935.3 392.8 935.3 393.4 934.5 394 934.2 394.6 934.3 395.2 933.5 395.8 933.2 396.4 933.2 397 932.6 397.6 932.1 398.2 932.2 398.8 931.5 399.4 930.8 400 930.1 400.6 929.7 401.2 929.7 401.8 929.2 402.4 928.6 403 931.9 403 932.3 402.4 932.5 401.8 933.2 401.2 933.9 400.6 934 400 934.9 399.4 934.9 398.8 935.9 398.2 936.1 397.6 936.6 397 936.9 396.4 937.1 395.8 937.6 395.2 937.9 394.6 938.2 394 938.6 393.4 938.8 392.8 938.9 392.2 939.4 391.6 939.8 391 939.9 390.4 940.1 389.8 940.3 389.2 940.7 388.6 941 388 941.5 387.4 941.6 386.8 942.1 386.2 942.3 385.6 942.4 385 943 384.4 942.9 383.8 943.5 383.2 943.4 382.6 943.9 382 944.1 381.4 944.1 380.8 944.7 380.2 944.8 379.6 945.3 379 945.2 378.4 945.8 377.8 945.6 377.2 945.9 376.6 946.5 376 946.6 375.4 946.8 374.8 946.8 374.2 947.3 373.6 947.7 373 947.8 372.4 948.1 371.8 948.7 371.2 948.5 370.6 949.2 370 949.4 369.4 949.8 368.8 949.8 368.2 950.3 367.6 950.5 367 950.7 366.4 950.5 365.8 951 365.2 950.9 364.6 951.2 364 951.3 363.4 951.7 362.8 952 362.2 951.8 361.6 952.1 361 952.7 360.4 952.6 359.8 952.9 359.2 952.9 358.6 953.3 358 953.6 357.4 953.4 356.8 953.9 356.2 954.1 355.6 954.1 355 954.1 354.4 954.6 353.8 954.8 353.2 954.7 352.6 954.8 352 954.9 351.4 955.2 350.8 955.5 350.2 955.4 349.6 955.9 349 955.7 348.4 956.4 347.8 956.1 347.2 956.7 346.6 956.6 346 956.6 345.4 956.7 344.8 957.2 344.2 957.4 343.6 957.7 343 957.8 342.4 957.5 341.8 957.9 341.2 957.8 340.6 958.5 340 958.2 339.4 958.3 338.8 958.5 338.2 958.8 337.6 959.1 337 959.2 336.4 959.5 335.8 959.6 335.2 959.8 334.6 959.6 334 959.8 333.4 960 332.8 960.5 332.2 960.1 331.6 960.4 331 960.7 330.4 960.9 329.8 961 329.2 961 328.6 961 328 961.3 327.4 961.6 326.8 961.8 326.2 961.8 325.6 961.9 325 962.3 324.4 962.1 323.8 962.1 323.2 962.7 322.6 962.3 322 962.9 321.4 962.6 320.8 963.2 320.2 963.1 319.6 963 319 963.1 318.4 963.4 317.8 963.9 317.2 963.5 316.6 963.9 316 964.3 315.4 964 314.8 964.5 314.2 964.6 313.6 964.5 313 964.7 312.4 964.7 311.8 964.8 311.2 964.9 310.6 965.4 310 965.4 309.4 965.3 308.8 965.5 308.2 965.4 307.6 965.6 307 965.6 306.4 966.2 305.8 966 305.2 966.5 304.6 966.2 304 966.3 303.4 966.9 302.8 966.6 302.2 966.7 301.6 967 301 967.3 300.4 967.3 299.8 967.2 299.2 967.6 298.6 967.6 298 967.6 297.4 967.6 296.8 967.8 296.2 968.3 295.6 968 295 968.3 294.4 968.3 293.8 968.7 293.2 968.7 292.6 968.6 292 968.7 291.4 968.7 290.8 968.9 290.2 968.9 289.6 969.5 289 969.2 288.4 969.3 287.8 969.8 287.2 969.9 286.6 969.9 286 970.1 285.4 969.8 284.8 969.9 284.2 970.3 283.6 970.5 283 970.1 282.4 970.2 281.8 970.4 281.2 970.6 280.6 970.6 280 971.1 279.4 970.8 278.8 971.3 278.2 971.4 277.6 971.3 277 971.6 276.4 971.8 275.8 971.9 275.2 971.9 274.6 971.9 274 971.9 273.4 971.7 272.8 971.9 272.2 972.1 271.6 972.2 271 972.2 270.4 972.8 269.8 972.7 269.2 973 268.6 972.8 268 972.8 267.4 972.9 266.8 973.2 266.2 973.3 265.6 973.4 265 973.6 264.4 973.4 263.8 973.8 263.2 973.9 262.6 973.9 262 974 261.4 974.1 260.8 973.8 260.2 974.1 259.6 974.3 259 974.3 258.4 974.1 257.8 974.2 257.2 974.3 256.6 974.5 256 974.5 255.4 974.9 254.8 975 254.2 975.2 253.6 975.1 253 974.9 252.4 975.4 251.8 975.4 251.2 975.6 250.6 975.4 250 975.7 249.4 975.8 248.8 975.5 248.2 975.8 247.6 975.8 247 976 246.4 976.2 245.8 975.8 245.2 976 244.6 976.1 244 976.4 243.4 976.4 242.8 976.6 242.2 976.3 241.6 976.9 241 976.4 240.4 976.8 239.8 976.9 239.2 976.9 238.6 977 238 977 237.4 977.5 236.8 977.4 236.2 977.3 235.6 977.3 235 977.4 234.4 977.3 233.8 977.6 233.2 977.7 232.6 977.6 232 978.1 231.4 977.9 230.8 977.7 230.2 978.2 229.6 978.3 229 978.4 228.4 978.1 227.8 978.5 227.2 978.4 226.6 978.7 226 978.8 225.4 978.5 224.8 978.9 224.2 978.5 223.6 978.6 223 978.9 222.4 979 221.8 979.1 221.2 979.1 220.6 979 220 979.3 219.4 979.1 218.8 979 218.2 979.1 217.6 979.5 217 979.5 216.4 979.4 215.8 979.4 215.2 979.6 214.6 979.8 214 979.5 213.4 979.8 212.8 979.7 212.2 980 211.6 979.6 211 979.7 210.4 980.2 209.8 979.8 209.2 980.2 208.6 980 208 980.3 207.4 980.5 206.8 980.4 206.2 980.6 205.6 980.3 205 980.2 204.4 980.6 203.8 980.6 203.2 980.5 202.6 980.5 202 980.4 201.4 980.5 200.8 981.1 200.2 981 199.6 980.8 199 981.1 198.4 981.2 197.8 980.9 197.2 981.1 196.6 981.3 196 981.3 195.4 980.9 194.8 981.1 194.2 981.4 193.6 981.6 193 981.4 192.4 981.7 191.8 981.2 191.2 981.2 190.6 981.2 190 981.7 189.4 981.8 188.8 981.7 188.2 981.4 187.6 981.6 187 981.8 186.4 981.9 185.8 982 185.2 981.8 184.6 981.7 184 982 183.4 981.8 182.8 982.2 182.2 981.9 181.6 982 181 981.9 180.4 982.2 179.8 982.2 179.2 982.2 178.6 982 178 982.4 177.4 982.3 176.8 982.2 176.2 982.7 175.6 982.2 175 982.4 174.4 982.8 173.8 982.7 173.2 982.4 172.6 982.8 172 982.9 171.4 982.7 170.8 983 170.2 983 169.6 982.9 169 982.8 168.4 983 167.8 983.2 167.2 983.2 166.6 983.1 166 983 165.4 982.9 164.8 983.3 164.2 983 163.6 983 163 983.2 162.4 983.3 161.8 983.1 161.2 983.6 160.6 983.4 160 983.2 159.4 983.5 158.8 983.6 158.2 983.4 157.6 983.3 157 983.9 156.4 983.9 155.8 983.8 155.2 983.9 154.6 983.8 154 983.7 153.4 983.6 152.8 984.1 152.2 984.2 151.6 984 151 983.9 150.4 983.8 149.8 984.1 149.2 983.9 148.6 984.2 148 984 147.4 984.4 146.8 984.3 146.2 984.5 145.6 984.6 145 984.3 144.4 984.2 143.8 984.3 143.2 984.3 142.6 984.6 142 984.7 141.4 984.3 140.8 984.9 140.2 984.8 139.6 984.9 139 984.4 138.4 984.4 137.8 985 137.2 984.5 136.6 985 136 984.9 135.4 984.8 134.8 984.6 134.2 985.1 133.6 985 133 984.7 132.4 984.9 131.8 984.4 131.2 984.7 130.6 984.7 130 984.6 129.4 984.4 128.8 984.3 128.2 984.1 127.6 984.1 127 984.1 126.4 984.4 125.8 984 125.2 983.8 124.6 984.2 124 984 123.4 983.6 122.8 983.9 122.2Z"/>
<path d="M982.7 122.2 982.9 122.8 982.5 123.4 983 124 982.4 124.6 982.6 125.2 982.3 125.8 982.5 126.4 982.6 127 982.5 127.6 982.2 128.2 982.2 128.8 982.2 129.4 981.9 130 982.4 130.6 982 131.2 982.3 131.8 982.2 132.4 982.3 133 981.7 133.6 982.2 134.2 981.7 134.8 981.8 135.4 982.3 136 982.3 136.6 982.1 137.2 982.1 137.8 982.3 138.4 982.6 139 982.5 139.6 982.6 140.2 982.6 140.8 982.7 141.4 982.8 142 982.6 142.6 982.9 143.2 983 143.8 982.9 144.4 983.1 145 983 145.6 983.4 146.2 983.5 146.8 983.1 147.4 983.6 148 983.6 148.6 983.7 149.2 983.5 149.8 983.4 150.4 983.6 151 983.7 151.6 983.5 152.2 983.8 152.8 984 153.4 984 154 984.2 154.6 984.3 155.2 984 155.8 984.4 156.4 984.4 157 984.3 157.6 984.5 158.2 984.6 158.8 984.7 159.4 984.5 160 984.5 160.6 984.9 161.2 985 161.8 985 162.4 984.9 163 984.7 163.6 985.2 164.2 985.1 164.8 985.3 165.4 985.3 166 985.3 166.6 985.4 167.2 985.2 167.8 985.3 168.4 985.4 169 985.6 169.6 985.6 170.2 985.9 170.8 985.8 171.4 986.1 172 986 172.6 986 173.2 986.5 173.8 986.6 174.4 986.4 175 986.3 175.6 986.5 176.2 987 176.8 987 177.4 987 178 987 178.6 987.3 179.2 987.1 179.8 987.5 180.4 987.6 181 987.8 181.6 987.5 182.2 987.7 182.8 987.6 183.4 988.1 184 988 184.6 988.2 185.2 988.2 185.8 988.3 186.4 988.4 187 988.5 187.6 988.7 188.2 988.7 188.8 988.6 189.4 989.2 190 989.1 190.6 989 191.2 989 191.8 989.3 192.4 989.6 193 989.4 193.6 989.7 194.2 989.9 194.8 989.5 195.4 989.9 196 990.1 196.6 990.1 197.2 990.2 197.8 990.4 198.4 990.6 199 990.2 199.6 990.5 200.2 990.6 200.8 990.7 201.4 990.4 202 990.4 202.6 991 203.2 990.7 203.8 990.5 204.4 991 205 991 205.6 991 206.2 990.8 206.8 991.3 207.4 991.2 208 991 208.6 990.9 209.2 991.4 209.8 991.4 210.4 991.1 211 991.2 211.6 991.4 212.2 991.8 212.8 991.5 213.4 991.7 214 991.4 214.6 992 215.2 991.6 215.8 991.8 216.4 991.9 217 991.7 217.6 992.3 218.2 992 218.8 991.9 219.4 992.4 220 992 220.6 992.1 221.2 992.2 221.8 992.3 222.4 992.6 223 992.5 223.6 992.5 224.2 992.6 224.8 992.5 225.4 992.7 226 992.6 226.6 992.6 227.2 993.2 227.8 992.9 228.4 993.3 229 993.4 229.6 993.3 230.2 993.3 230.8 993.3 231.4 993.7 232 993.6 232.6 993.9 233.2 993.5 233.8 993.7 234.4 993.9 235 994.1 235.6 993.7 236.2 993.8 236.8 993.8 237.4 994.3 238 994.4 238.6 994.1 239.2 994.5 239.8 994.8 240.4 994.4 241 994.5 241.6 994.6 242.2 994.8 242.8 995 243.4 995 244 994.9 244.6 995.4 245.2 995.1 245.8 995.5 246.4 995.3 247 995.3 247.6 995.7 248.2 995.7 248.8 996 249.4 995.8 250 995.7 250.6 995.9 251.2 996.4 251.8 996.1 252.4 996.4 253 996.2 253.6 996.3 254.2 996.5 254.8 996.9 255.4 997 256 996.9 256.6 997.1 257.2 997.1 257.8 997.1 258.4 997.5 259 997.4 259.6 997.1 260.2 997.3 260.8 997.8 261.4 997.9 262 997.5 262.6 997.7 263.2 997.8 263.8 998.2 264.4 998.4 265 998.1 265.6 998.5 266.2 998.8 266.8 998.3 267.4 998.6 268 998.8 268.6 998.6 269.2 999 269.8 999.1 270.4 999.1 271 999.4 271.6 999.7 272.2 999.4 272.8 999.8 273.4 999.8 274 999.8 274.6 999.9 275.2 999.8 275.8 1000.3 276.4 1000.5 277 1000.4 277.6 1000.8 278.2 1000.9 278.8 1000.5 279.4 1000.5 280 1001 280.6 1001 281.2 1001.3 281.8 1001.3 282.4 1001.5 283 1001.8 283.6 1001.8 284.2 1001.4 284.8 1001.8 285.4 1002 286 1002.1 286.6 1002 287.2 1002.4 287.8 1002.2 288.4 1002.5 289 1002.5 289.6 1002.8 290.2 1002.8 290.8 1003.1 291.4 1003.5 292 1003.6 292.6 1003.5 293.2 1003.3 293.8 1003.6 294.4 1003.8 295 1004 295.6 1003.9 296.2 1004.3 296.8 1004.5 297.4 1004.2 298 1004.6 298.6 1004.5 299.2 1004.8 299.8 1005.1 300.4 1005.2 301 1005.3 301.6 1005.4 302.2 1005.6 302.8 1005.6 303.4 1005.5 304 1006.1 304.6 1006.2 305.2 1006.4 305.8 1006.1 306.4 1006.6 307 1006.7 307.6 1006.9 308.2 1006.8 308.8 1006.7 309.4 1006.9 310 1007.5 310.6 1007.1 311.2 1007.5 311.8 1007.9 312.4 1007.5 313 1008 313.6 1007.9 314.2 1008 314.8 1008.1 315.4 1008.5 316 1008.7 316.6 1008.7 317.2 1008.8 317.8 1008.9 318.4 1009.2 319 1009.4 319.6 1009.7 320.2 1009.7 320.8 1009.7 321.4 1010 322 1010.1 322.6 1010.2 323.2 1010.5 323.8 1010.6 324.4 1011 325 1010.9 325.6 1011 326.2 1011.2 326.8 1011.4 327.4 1011.2 328 1011.5 328.6 1012.1 329.2 1012 329.8 1012.1 330.4 1012.4 331 1012.6 331.6 1012.9 332.2 1012.9 332.8 1012.9 333.4 1013.3 334 1013.4 334.6 1013.1 335.2 1013.3 335.8 1013.9 336.4 1014.1 337 1013.9 337.6 1014.1 338.2 1014.3 338.8 1014.8 339.4 1014.7 340 1015.1 340.6 1015.2 341.2 1015.2 341.8 1015.7 342.4 1015.5 343 1015.7 343.6 1015.8 344.2 1016 344.8 1016.2 345.4 1016.4 346 1016.6 346.6 1016.6 347.2 1017 347.8 1017.1 348.4 1017.1 349 1017.7 349.6 1017.4 350.2 1017.8 350.8 1018.1 351.4 1018.1 352 1018.6 352.6 1018.6 353.2 1018.8 353.8 1018.8 354.4 1019.1 355 1019.4 355.6 1019.5 356.2 1019.8 356.8 1019.5 357.4 1020.1 358 1020 358.6 1020.2 359.2 1020.4 359.8 1020.9 360.4 1021 361 1021 361.6 1021 362.2 1021.8 362.8 1021.8 363.4 1021.9 364 1022 364.6 1022.4 365.2 1022.4 365.8 1022.6 366.4 1022.8 367 1023.3 367.6 1023.4 368.2 1023.3 368.8 1023.4 369.4 1023.9 370 1023.8 370.6 1024.4 371.2 1024.4 371.8 1024.6 372.4 1024.9 373 1025.2 373.6 1025.3 374.2 1025.2 374.8 1025.4 375.4 1026 376 1026.1 376.6 1026.3 377.2 1026.6 377.8 1026.6 378.4 1026.6 379 1027.2 379.6 1027.5 380.2 1027.5 380.8 1027.7 381.4 1027.7 382 1028.2 382.6 1028.3 383.2 1028.7 383.8 1028.5 384.4 1029.1 385 1029.1 385.6 1029.4 386.2 1029.6 386.8 1029.8 387.4 1029.9 388 1030.2 388.6 1030.3 389.2 1030.4 389.8 1030.6 390.4 1030.7 391 1031.3 391.6 1031.5 392.2 1031.6 392.8 1031.8 393.4 1031.8 394 1032.2 394.6 1032.5 395.2 1032.4 395.8 1032.3 396.4 1032.9 397 1032.7 397.6 1033.2 398.2 1033 398.8 1033.2 399.4 1033.7 400 1034 400.6 1033.6 401.2 1034 401.8 1033.7 402.4 1033.8 403 1040.7 403 1040.7 402.4 1040.9 401.8 1040.5 401.2 1040.7 400.6 1040.7 400 1040.4 399.4 1040.5 398.8 1040 398.2 1039.7 397.6 1040 397 1039.4 396.4 1039.2 395.8 1039.1 395.2 1039.1 394.6 1038.6 394 1038.8 393.4 1038.5 392.8 1038.4 392.2 1038.3 391.6 1037.5 391 1037.8 390.4 1037.2 389.8 1037.4 389.2 1036.8 388.6 1037.1 388 1036.9 387.4 1036.6 386.8 1036.2 386.2 1035.9 385.6 1036 385 1035.6 384.4 1035.3 383.8 1035.1 383.2 1035 382.6 1035 382 1034.7 381.4 1034.3 380.8 1034 380.2 1033.7 379.6 1033.5 379 1033.6 378.4 1033.5 377.8 1033.3 377.2 1032.8 376.6 1032.5 376 1032.5 375.4 1032.5 374.8 1032 374.2 1032 373.6 1031.9 373 1031.5 372.4 1031.5 371.8 1031.1 371.2 1031.1 370.6 1030.5 370 1030.6 369.4 1030.6 368.8 1030.2 368.2 1030.1 367.6 1030 367 1029.6 366.4 1029.2 365.8 1028.9 365.2 1028.9 364.6 1028.9 364 1028.4 363.4 1028.6 362.8 1028 362.2 1028.1 361.6 1028 361 1027.7 360.4 1027.8 359.8 1027.6 359.2 1027.1 358.6 1026.7 358 1026.9 357.4 1026.3 356.8 1026.6 356.2 1026.2 355.6 1025.9 355 1025.9 354.4 1025.9 353.8 1025.7 353.2 1025.1 352.6 1025.4 352 1025.1 351.4 1025 350.8 1024.6 350.2 1024.4 349.6 1024.2 349 1024.3 348.4 1023.7 347.8 1023.8 347.2 1023.6 346.6 1023.6 346 1023.4 345.4 1023.2 344.8 1022.9 344.2 1022.8 343.6 1022.7 343 1022.3 342.4 1022.1 341.8 1022.3 341.2 1021.5 340.6 1021.7 340 1021.5 339.4 1021.6 338.8 1021 338.2 1021.3 337.6 1020.8 337 1020.4 336.4 1020.7 335.8 1020.5 335.2 1020.4 334.6 1019.9 334 1019.8 333.4 1019.5 332.8 1019.3 332.2 1019.2 331.6 1019 331 1019.3 330.4 1019.1 329.8 1019 329.2 1018.7 328.6 1018.6 328 1018.1 327.4 1018.3 326.8 1017.8 326.2 1017.7 325.6 1017.7 325 1017.6 324.4 1017.2 323.8 1017.5 323.2 1017.2 322.6 1017 322 1016.9 321.4 1016.9 320.8 1016.3 320.2 1016.6 319.6 1016.2 319 1016.1 318.4 1015.6 317.8 1015.5 317.2 1015.6 316.6 1015.6 316 1015.6 315.4 1015.4 314.8 1015 314.2 1015.1 313.6 1014.6 313 1014.6 312.4 1014.3 311.8 1014.4 311.2 1014.4 310.6 1014.1 310 1013.8 309.4 1014 308.8 1013.8 308.2 1013.2 307.6 1013.4 307 1013.2 306.4 1013.1 305.8 1012.9 305.2 1013 304.6 1012.8 304 1012.7 303.4 1012.5 302.8 1012.2 302.2 1011.9 301.6 1012.1 301 1011.8 300.4 1011.4 299.8 1011.5 299.2 1011.5 298.6 1011.6 298 1011.4 297.4 1011.2 296.8 1011.1 296.2 1010.7 295.6 1010.5 295 1010.6 294.4 1010.4 293.8 1010.2 293.2 1010 292.6 1010.2 292 1009.7 291.4 1009.7 290.8 1009.9 290.2 1009.7 289.6 1009.6 289 1009.6 288.4 1009.5 287.8 1008.9 287.2 1009.1 286.6 1009 286 1008.8 285.4 1008.8 284.8 1008.7 284.2 1008.2 283.6 1008.3 283 1008.2 282.4 1008.1 281.8 1008.1 281.2 1008 280.6 1007.7 280 1007.6 279.4 1007.6 278.8 1007.3 278.2 1007.5 277.6 1007.1 277 1007.4 276.4 1006.7 275.8 1006.9 275.2 1006.6 274.6 1006.9 274 1006.6 273.4 1006.4 272.8 1006.1 272.2 1006.1 271.6 1006.3 271 1005.8 270.4 1006 269.8 1005.7 269.2 1005.8 268.6 1005.7 268 1005.3 267.4 1005.4 266.8 1005.3 266.2 1005.5 265.6 1005.4 265 1005.1 264.4 1004.7 263.8 1004.7 263.2 1004.6 262.6 1004.5 262 1004.6 261.4 1004.5 260.8 1004.2 260.2 1004.3 259.6 1004.2 259 1003.7 258.4 1004.2 257.8 1004 257.2 1003.6 256.6 1003.7 256 1003.4 255.4 1003.5 254.8 1003.6 254.2 1003.3 253.6 1003.3 253 1002.9 252.4 1003 251.8 1002.8 251.2 1003.1 250.6 1003 250 1002.6 249.4 1002.6 248.8 1002.3 248.2 1002.5 247.6 1002.5 247 1002.3 246.4 1002.1 245.8 1001.9 245.2 1002.2 244.6 1002 244 1001.8 243.4 1001.8 242.8 1001.9 242.2 1001.8 241.6 1001.7 241 1001.2 240.4 1001.3 239.8 1001.5 239.2 1001.2 238.6 1000.8 238 1001.2 237.4 1001.2 236.8 1001.1 236.2 1000.9 235.6 1000.9 235 1000.7 234.4 1000.8 233.8 1000.3 233.2 1000.5 232.6 1000.3 232 1000.1 231.4 1000.2 230.8 1000.3 230.2 999.8 229.6 999.7 229 999.7 228.4 999.5 227.8 999.6 227.2 999.9 226.6 999.3 226 999.6 225.4 999.6 224.8 999.2 224.2 999.1 223.6 999.1 223 998.9 222.4 998.9 221.8 999.1 221.2 998.9 220.6 999.1 220 998.9 219.4 999 218.8 998.6 218.2 998.4 217.6 998.2 217 998.7 216.4 998.5 215.8 998.3 215.2 998.2 214.6 998.2 214 997.9 213.4 998.2 212.8 998.1 212.2 998.2 211.6 998.1 211 997.9 210.4 997.6 209.8 997.6 209.2 997.7 208.6 997.6 208 997.6 207.4 997.4 206.8 997.1 206.2 997.5 205.6 997 205 997 204.4 997.3 203.8 997 203.2 997 202.6 996.9 202 997 201.4 996.6 200.8 996.9 200.2 996.9 199.6 996.7 199 996.7 198.4 996.2 197.8 996.3 197.2 995.9 196.6 995.9 196 996.3 195.4 995.7 194.8 995.9 194.2 995.5 193.6 995.7 193 995.6 192.4 995.5 191.8 995.2 191.2 995.1 190.6 994.9 190 995.3 189.4 994.9 188.8 994.5 188.2 994.9 187.6 994.4 187 994.6 186.4 994.3 185.8 994.2 185.2 994.3 184.6 994.1 184 993.7 183.4 993.6 182.8 993.8 182.2 993.3 181.6 993.6 181 993 180.4 993.2 179.8 992.8 179.2 993.2 178.6 992.7 178 992.5 177.4 992.4 176.8 992.4 176.2 992.5 175.6 992.6 175 992.4 174.4 991.9 173.8 991.8 173.2 992 172.6 991.7 172 991.7 171.4 991.8 170.8 991.4 170.2 991.7 169.6 991.6 169 991.5 168.4 991.3 167.8 991 167.2 991.2 166.6 990.9 166 991 165.4 991 164.8 990.9 164.2 990.9 163.6 990.5 163 990.8 162.4 990.7 161.8 990.7 161.2 990.3 160.6 990.4 160 990.5 159.4 990.2 158.8 990.2 158.2 990.2 157.6 990.1 157 990 156.4 989.6 155.8 989.7 155.2 989.9 154.6 989.6 154 989.4 153.4 989.3 152.8 989.4 152.2 989.5 151.6 989.1 151 989.2 150.4 989.4 149.8 989.3 149.2 989 148.6 988.7 148 989 147.4 988.7 146.8 988.7 146.2 988.5 145.6 988.5 145 988.3 144.4 988.3 143.8 988.5 143.2 988.1 142.6 988 142 988.2 141.4 988.2 140.8 988.2 140.2 987.8 139.6 987.9 139 987.9 138.4 987.6 137.8 987.8 137.2 987.6 136.6 987.6 136 987.2 135.4 987.1 134.8 987.1 134.2 987.1 133.6 987 133 986.9 132.4 986.7 131.8 986.4 131.2 986.3 130.6 986.3 130 985.8 129.4 985.7 128.8 985.5 128.2 985.1 127.6 985.3 127 985.2 126.4 984.7 125.8 984.6 125.2 984.4 124.6 984.6 124 984.2 123.4 983.9 122.8 984 122.2Z"/>
<path d="M1097.9 146 1098 146.6 1098 147.2 1097.5 147.8 1097.6 148.4 1097.3 149 1097.4 149.6 1097.1 150.2 1096.8 150.8 1096.9 151.4 1096.8 152 1096.5 152.6 1096.3 153.2 1096.6 153.8 1096.6 154.4 1096.3 155 1096 155.6 1096.3 156.2 1096.1 156.8 1095.6 157.4 1095.7 158 1095.7 158.6 1095.9 159.2 1095.5 159.8 1095.4 160.4 1095.4 161 1095.4 161.6 1095.2 162.2 1095.2 162.8 1095.3 163.4 1095.4 164 1095.5 164.6 1095.2 165.2 1095 165.8 1095.2 166.4 1095.1 167 1095.2 167.6 1095 168.2 1095.3 168.8 1094.9 169.4 1095 170 1095.2 170.6 1095.1 171.2 1095 171.8 1095 172.4 1094.6 173 1095 173.6 1095 174.2 1094.9 174.8 1094.9 175.4 1094.9 176 1094.6 176.6 1094.6 177.2 1094.4 177.8 1094.6 178.4 1094.3 179 1094.2 179.6 1094.4 180.2 1094.1 180.8 1094 181.4 1094.4 182 1094.2 182.6 1094 183.2 1094.3 183.8 1094 184.4 1093.8 185 1094 185.6 1093.8 186.2 1093.7 186.8 1093.9 187.4 1093.9 188 1093.9 188.6 1093.8 189.2 1093.8 189.8 1093.5 190.4 1093.4 191 1093.8 191.6 1093.6 192.2 1093.5 192.8 1093.5 193.4 1093.5 194 1093.4 194.6 1093.5 195.2 1093.2 195.8 1093.5 196.4 1093.3 197 1093.4 197.6 1093.2 198.2 1093.3 198.8 1092.8 199.4 1092.8 200 1092.7 200.6 1092.9 201.2 1093.1 201.8 1092.7 202.4 1093.1 203 1092.6 203.6 1092.9 204.2 1092.5 204.8 1092.5 205.4 1092.7 206 1092.7 206.6 1092.5 207.2 1092.2 207.8 1092.1 208.4 1092.4 209 1092.4 209.6 1092.3 210.2 1092 210.8 1092 211.4 1092.3 212 1092.1 212.6 1092.1 213.2 1091.9 213.8 1091.9 214.4 1091.7 215 1091.6 215.6 1092.1 216.2 1091.5 216.8 1091.7 217.4 1091.9 218 1091.5 218.6 1091.7 219.2 1091.3 219.8 1091.2 220.4 1091.2 221 1091.3 221.6 1091.4 222.2 1091.4 222.8 1091.3 223.4 1091.1 224 1091.1 224.6 1091.2 225.2 1090.8 225.8 1090.6 226.4 1090.8 227 1090.8 227.6 1090.3 228.2 1090.5 228.8 1090.2 229.4 1090.5 230 1090.3 230.6 1090.1 231.2 1090.2 231.8 1089.8 232.4 1089.7 233 1090 233.6 1089.6 234.2 1089.4 234.8 1089.2 235.4 1089.2 236 1089 236.6 1089.2 237.2 1089.3 237.8 1088.8 238.4 1089.1 239 1088.5 239.6 1088.4 240.2 1088.7 240.8 1088.2 241.4 1088.4 242 1088.1 242.6 1088.4 243.2 1087.8 243.8 1087.7 244.4 1087.7 245 1087.8 245.6 1087.5 246.2 1087.8 246.8 1087.3 247.4 1087.2 248 1087.5 248.6 1087.3 249.2 1086.8 249.8 1087 250.4 1086.7 251 1087 251.6 1086.7 252.2 1086.4 252.8 1086.6 253.4 1086.3 254 1086.5 254.6 1086.3 255.2 1086.2 255.8 1085.8 256.4 1086 257 1085.9 257.6 1085.8 258.2 1085.8 258.8 1085.3 259.4 1085.1 260 1085.2 260.6 1085.3 261.2 1085.3 261.8 1084.9 262.4 1085 263 1084.6 263.6 1084.5 264.2 1084.7 264.8 1084.8 265.4 1084.3 266 1084.6 266.6 1084.3 267.2 1084 267.8 1084.2 268.4 1084 269 1083.9 269.6 1083.8 270.2 1083.9 270.8 1083.9 271.4 1083.7 272 1083.5 272.6 1083.4 273.2 1083 273.8 1083 274.4 1082.9 275 1083.1 275.6 1082.6 276.2 1083 276.8 1082.7 277.4 1082.7 278 1082.7 278.6 1082.2 279.2 1082.4 279.8 1082 280.4 1082.2 281 1081.8 281.6 1081.7 282.2 1081.5 282.8 1081.7 283.4 1081.8 284 1081.3 284.6 1081.6 285.2 1081 285.8 1080.9 286.4 1081.2 287 1080.9 287.6 1080.9 288.2 1080.9 288.8 1080.8 289.4 1080.4 290 1080.7 290.6 1080.5 291.2 1080.5 291.8 1080.1 292.4 1079.8 293 1080.1 293.6 1079.9 294.2 1080 294.8 1079.7 295.4 1079.4 296 1079.5 296.6 1079.4 297.2 1079.1 297.8 1078.9 298.4 1078.9 299 1078.8 299.6 1078.6 300.2 1078.5 300.8 1078.6 301.4 1078.6 302 1078.2 302.6 1078.5 303.2 1078.1 303.8 1078.2 304.4 1078.1 305 1077.6 305.6 1077.7 306.2 1077.5 306.8 1077.7 307.4 1077.6 308 1077.6 308.6 1077.1 309.2 1077.1 309.8 1077 310.4 1076.7 311 1076.9 311.6 1076.7 312.2 1076.6 312.8 1076.2 313.4 1076.1 314 1076.2 314.6 1075.8 315.2 1075.7 315.8 1075.9 316.4 1075.4 317 1075.6 317.6 1075.6 318.2 1075.3 318.8 1075.1 319.4 1074.9 320 1075.3 320.6 1074.9 321.2 1074.7 321.8 1074.6 322.4 1074.8 323 1074.4 323.6 1074.5 324.2 1074.5 324.8 1073.9 325.4 1073.9 326 1074 326.6 1074 327.2 1073.3 327.8 1073.2 328.4 1073.4 329 1073.4 329.6 1073.2 330.2 1072.7 330.8 1073.1 331.4 1072.7 332 1072.5 332.6 1072.5 333.2 1072.4 333.8 1072 334.4 1072.1 335 1072.3 335.6 1072 336.2 1071.6 336.8 1071.5 337.4 1071.6 338 1071.5 338.6 1071.1 339.2 1071.1 339.8 1071.2 340.4 1071 341 1070.4 341.6 1070.3 342.2 1070.5 342.8 1070.1 343.4 1070 344 1070.1 344.6 1070.1 345.2 1069.5 345.8 1069.8 346.4 1069.3 347 1069 347.6 1069.3 348.2 1068.8 348.8 1068.7 349.4 1068.5 350 1068.3 350.6 1068.5 351.2 1068.3 351.8 1068.1 352.4 1067.9 353 1067.8 353.6 1067.7 354.2 1067.5 354.8 1067.1 355.4 1067.2 356 1067 356.6 1066.9 357.2 1066.6 357.8 1066.8 358.4 1066.2 359 1066.3 359.6 1065.8 360.2 1065.9 360.8 1065.8 361.4 1065.7 362 1065.3 362.6 1065.2 363.2 1065.1 363.8 1064.7 364.4 1064.8 365 1064.5 365.6 1064.6 366.2 1063.9 366.8 1064 367.4 1064.1 368 1063.4 368.6 1063.3 369.2 1063.4 369.8 1063.6 370.4 1063.5 371 1063.4 371.6 1063.5 372.2 1063.1 372.8 1062.9 373.4 1062.5 374 1062.5 374.6 1062.3 375.2 1062 375.8 1062.3 376.4 1061.9 377 1061.3 377.6 1061.5 378.2 1061.1 378.8 1060.9 379.4 1060.6 380 1060.6 380.6 1060.5 381.2 1060.3 381.8 1059.6 382.4 1059.8 383 1059.7 383.6 1059.4 384.2 1059.3 384.8 1058.8 385.4 1058.3 386 1058.4 386.6 1058.2 387.2 1057.7 387.8 1057.1 388.4 1057.1 389 1056.6 389.6 1056.6 390.2 1056.4 390.8 1056.2 391.4 1055.5 392 1055 392.6 1054.8 393.2 1054.7 393.8 1054.4 394.4 1053.7 395 1053.1 395.6 1052.8 396.2 1052.7 396.8 1052.3 397.4 1051.4 398 1051.1 398.6 1050.4 399.2 1049.5 399.8 1048.8 400.4 1048.2 401 1047.1 401.6 1046.4 402.2 1045.6 402.8 1048.9 402.8 1050 402.2 1050.6 401.6 1051.5 401 1051.8 400.4 1052.6 399.8 1053.6 399.2 1054 398.6 1054.5 398 1055.4 397.4 1055.7 396.8 1056 396.2 1056.7 395.6 1057 395 1057.2 394.4 1057.6 393.8 1058.3 393.2 1058.7 392.6 1059 392 1059.5 391.4 1060 390.8 1060.3 390.2 1060.4 389.6 1060.7 389 1061.1 388.4 1061.4 387.8 1061.5 387.2 1062 386.6 1062.1 386 1062.6 385.4 1062.8 384.8 1062.8 384.2 1063.5 383.6 1063.7 383 1064 382.4 1064.1 381.8 1064.4 381.2 1064.9 380.6 1064.8 380 1064.9 379.4 1065.2 378.8 1065.7 378.2 1065.9 377.6 1066.1 377 1066.4 376.4 1066.6 375.8 1066.7 375.2 1067.3 374.6 1067.3 374 1067.6 373.4 1067.5 372.8 1068.1 372.2 1068.5 371.6 1068.3 371 1068.6 370.4 1069.1 369.8 1069.4 369.2 1069.9 368.6 1069.8 368 1070 367.4 1070.2 366.8 1070.3 366.2 1070.5 365.6 1071 365 1071.1 364.4 1070.9 363.8 1071.4 363.2 1071.3 362.6 1071.7 362 1071.6 361.4 1072.2 360.8 1072.3 360.2 1072.6 359.6 1072.6 359 1072.8 358.4 1073 357.8 1072.9 357.2 1073.3 356.6 1073.4 356 1073.3 355.4 1073.6 354.8 1073.7 354.2 1074.1 353.6 1074.1 353 1074 352.4 1074.6 351.8 1074.8 351.2 1074.7 350.6 1075.1 350 1075.1 349.4 1075 348.8 1075.4 348.2 1075.3 347.6 1075.5 347 1075.5 346.4 1076 345.8 1075.8 345.2 1076 344.6 1076.1 344 1076.5 343.4 1076.7 342.8 1076.7 342.2 1076.5 341.6 1076.8 341 1076.9 340.4 1077.4 339.8 1077.6 339.2 1077.2 338.6 1077.3 338 1077.8 337.4 1077.9 336.8 1077.9 336.2 1078.3 335.6 1078.3 335 1078.1 334.4 1078.2 333.8 1078.7 333.2 1079 332.6 1078.8 332 1078.9 331.4 1079.3 330.8 1079 330.2 1079.5 329.6 1079.4 329 1079.9 328.4 1079.7 327.8 1079.9 327.2 1079.8 326.6 1080.2 326 1080.4 325.4 1080.3 324.8 1080.1 324.2 1080.8 323.6 1080.7 323 1080.6 322.4 1081.1 321.8 1080.9 321.2 1081.4 320.6 1081.2 320 1081.3 319.4 1081.7 318.8 1081.8 318.2 1081.7 317.6 1081.9 317 1081.9 316.4 1082.1 315.8 1082.1 315.2 1082.6 314.6 1082.2 314 1082.5 313.4 1082.4 312.8 1082.6 312.2 1083 311.6 1083.1 311 1083.1 310.4 1083 309.8 1083.4 309.2 1083.3 308.6 1083.5 308 1083.3 307.4 1084 306.8 1083.5 306.2 1083.8 305.6 1083.7 305 1083.9 304.4 1084.1 303.8 1084.6 303.2 1084.3 302.6 1084.5 302 1084.4 301.4 1084.8 300.8 1085 300.2 1085.2 299.6 1084.9 299 1085.2 298.4 1085.5 297.8 1085.4 297.2 1085.3 296.6 1085.3 296 1085.7 295.4 1085.6 294.8 1086 294.2 1086 293.6 1086.1 293 1086.3 292.4 1086.4 291.8 1086.4 291.2 1086.7 290.6 1086.9 290 1086.6 289.4 1087 288.8 1086.7 288.2 1087 287.6 1087.2 287 1087.4 286.4 1087.1 285.8 1087.6 285.2 1087.4 284.6 1087.4 284 1087.5 283.4 1087.6 282.8 1087.8 282.2 1088.2 281.6 1087.9 281 1087.9 280.4 1088.2 279.8 1088.7 279.2 1088.7 278.6 1088.6 278 1088.6 277.4 1088.9 276.8 1089.1 276.2 1089.2 275.6 1089 275 1089.2 274.4 1089.5 273.8 1089.5 273.2 1089.4 272.6 1089.8 272 1090 271.4 1089.5 270.8 1089.6 270.2 1090 269.6 1090.3 269 1090.1 268.4 1090.4 267.8 1090.6 267.2 1090.2 266.6 1090.6 266 1090.4 265.4 1090.8 264.8 1091 264.2 1091 263.6 1090.8 263 1090.9 262.4 1091.3 261.8 1091.6 261.2 1091.4 260.6 1091.4 260 1091.5 259.4 1091.7 258.8 1091.7 258.2 1091.7 257.6 1092.2 257 1091.9 256.4 1092 255.8 1092.2 255.2 1092.5 254.6 1092.6 254 1092.4 253.4 1092.5 252.8 1092.9 252.2 1092.9 251.6 1092.7 251 1092.9 250.4 1092.8 249.8 1093.1 249.2 1092.9 248.6 1093.1 248 1093.2 247.4 1093.2 246.8 1093.3 246.2 1093.7 245.6 1093.4 245 1093.8 244.4 1093.9 243.8 1093.7 243.2 1093.9 242.6 1094.1 242 1093.9 241.4 1093.9 240.8 1094 240.2 1094.4 239.6 1094.6 239 1094.8 238.4 1094.4 237.8 1094.6 237.2 1095.1 236.6 1094.7 236 1094.7 235.4 1095.1 234.8 1095.2 234.2 1095.2 233.6 1095.5 233 1095.3 232.4 1095.7 231.8 1095.7 231.2 1095.5 230.6 1096 230 1095.8 229.4 1095.9 228.8 1095.8 228.2 1095.8 227.6 1096 227 1096.3 226.4 1096.4 225.8 1096.4 225.2 1096.4 224.6 1096.4 224 1096.3 223.4 1096.3 222.8 1096.6 222.2 1096.4 221.6 1096.6 221 1096.4 220.4 1096.6 219.8 1096.7 219.2 1096.7 218.6 1096.8 218 1096.9 217.4 1097.1 216.8 1097 216.2 1096.9 215.6 1097 215 1097.2 214.4 1097.1 213.8 1097.3 213.2 1097 212.6 1097 212 1097.4 211.4 1097.1 210.8 1097.1 210.2 1097.4 209.6 1097.3 209 1097.5 208.4 1097 207.8 1097.6 207.2 1097.3 206.6 1097.5 206 1097.3 205.4 1097.2 204.8 1097.8 204.2 1097.5 203.6 1097.4 203 1097.7 202.4 1097.5 201.8 1097.4 201.2 1097.5 200.6 1097.9 200 1097.7 199.4 1097.6 198.8 1097.9 198.2 1097.9 197.6 1097.7 197 1098.1 196.4 1098 195.8 1098 195.2 1098 194.6 1098.2 194 1098.4 193.4 1097.9 192.8 1098.1 192.2 1098.2 191.6 1098.1 191 1098.4 190.4 1098.7 189.8 1098.5 189.2 1098.5 188.6 1098.7 188 1098.6 187.4 1098.4 186.8 1098.3 186.2 1098.8 185.6 1098.5 185 1098.7 184.4 1098.8 183.8 1098.5 183.2 1099 182.6 1098.9 182 1098.6 181.4 1099.1 180.8 1098.7 180.2 1098.9 179.6 1099 179 1098.8 178.4 1099.3 177.8 1099 177.2 1099.4 176.6 1099.1 176 1099.3 175.4 1099 174.8 1099.4 174.2 1099.3 173.6 1099.5 173 1099.3 172.4 1099.4 171.8 1099.4 171.2 1099.2 170.6 1099.2 170 1099.6 169.4 1099.6 168.8 1099.6 168.2 1099.7 167.6 1099.5 167 1099.7 166.4 1099.4 165.8 1100 165.2 1099.5 164.6 1099.5 164 1099.7 163.4 1099.9 162.8 1099.7 162.2 1099.9 161.6 1100.2 161 1099.9 160.4 1099.8 159.8 1099.8 159.2 1100.1 158.6 1099.9 158 1100 157.4 1100.2 156.8 1100.2 156.2 1099.9 155.6 1099.6 155 1100.1 154.4 1099.5 153.8 1099.5 153.2 1099.3 152.6 1099.3 152 1099.5 151.4 1099.3 150.8 1099.1 150.2 1099.3 149.6 1099.6 149 1099.4 148.4 1099.4 147.8 1099.1 147.2 1099 146.6 1098.9 146Z"/>
<path d="M1097.9 146 1098.1 146.6 1098 147.2 1097.6 147.8 1097.4 148.4 1097.9 149 1097.7 149.6 1097.2 150.2 1097.2 150.8 1097.2 151.4 1096.9 152 1097 152.6 1097.2 153.2 1097.1 153.8 1096.9 154.4 1096.6 155 1096.8 155.6 1096.7 156.2 1096.7 156.8 1096.7 157.4 1096.2 158 1096.8 158.6 1096.7 159.2 1096.5 159.8 1096.5 160.4 1096.6 161 1096.7 161.6 1096.9 162.2 1096.7 162.8 1096.5 163.4 1096.8 164 1097.2 164.6 1096.8 165.2 1096.8 165.8 1097 166.4 1096.8 167 1097.2 167.6 1096.9 168.2 1097.4 168.8 1097.5 169.4 1097.5 170 1097.4 170.6 1097.2 171.2 1097.1 171.8 1097.3 172.4 1097.6 173 1097.3 173.6 1097.3 174.2 1097.8 174.8 1097.6 175.4 1097.7 176 1097.4 176.6 1097.8 177.2 1098.1 177.8 1098.1 178.4 1097.7 179 1098 179.6 1098 180.2 1098.3 180.8 1098 181.4 1097.9 182 1098.1 182.6 1098.4 183.2 1098.1 183.8 1098 184.4 1098.4 185 1098.4 185.6 1098.4 186.2 1098.6 186.8 1098.8 187.4 1098.4 188 1098.9 188.6 1098.9 189.2 1098.9 189.8 1099 190.4 1099 191 1098.8 191.6 1099 192.2 1099.1 192.8 1099.4 193.4 1099.2 194 1099.4 194.6 1099 195.2 1099 195.8 1099.2 196.4 1099.7 197 1099.4 197.6 1099.4 198.2 1099.7 198.8 1099.5 199.4 1099.4 200 1100 200.6 1100 201.2 1100 201.8 1099.8 202.4 1099.9 203 1099.9 203.6 1100 204.2 1100.3 204.8 1100.4 205.4 1100.1 206 1100.1 206.6 1100.3 207.2 1100.5 207.8 1100.3 208.4 1100.8 209 1100.5 209.6 1100.3 210.2 1100.7 210.8 1100.5 211.4 1101 212 1100.6 212.6 1101.1 213.2 1101.1 213.8 1100.9 214.4 1101.1 215 1101.1 215.6 1101.3 216.2 1101.1 216.8 1101.1 217.4 1101.4 218 1101.3 218.6 1101.3 219.2 1101.5 219.8 1101.6 220.4 1101.4 221 1101.5 221.6 1101.6 222.2 1102 222.8 1102.3 223.4 1101.9 224 1102.2 224.6 1102.3 225.2 1102.6 225.8 1102.3 226.4 1102.5 227 1102.6 227.6 1103 228.2 1103.1 228.8 1103.2 229.4 1103.4 230 1103.4 230.6 1103.4 231.2 1103.4 231.8 1103.6 232.4 1103.6 233 1103.7 233.6 1103.8 234.2 1103.9 234.8 1104.1 235.4 1104.6 236 1104.7 236.6 1104.5 237.2 1104.5 237.8 1104.6 238.4 1105.1 239 1104.9 239.6 1105.2 240.2 1105.2 240.8 1105.7 241.4 1105.5 242 1105.8 242.6 1105.8 243.2 1105.9 243.8 1106 244.4 1106 245 1106.1 245.6 1106.5 246.2 1106.8 246.8 1106.5 247.4 1106.9 248 1107 248.6 1106.8 249.2 1107.1 249.8 1107.3 250.4 1107.1 251 1107.5 251.6 1107.6 252.2 1107.7 252.8 1107.8 253.4 1108 254 1108.2 254.6 1108 255.2 1108.2 255.8 1108.2 256.4 1108.7 257 1108.7 257.6 1108.7 258.2 1109.1 258.8 1108.8 259.4 1109.1 260 1109.4 260.6 1109.6 261.2 1109.4 261.8 1110 262.4 1110 263 1110.3 263.6 1110.3 264.2 1110.4 264.8 1110.1 265.4 1110.6 266 1110.9 266.6 1111 267.2 1110.8 267.8 1110.9 268.4 1111 269 1111.6 269.6 1111.5 270.2 1111.4 270.8 1111.5 271.4 1111.5 272 1111.7 272.6 1112.1 273.2 1112.4 273.8 1112.3 274.4 1112.4 275 1112.7 275.6 1112.4 276.2 1112.6 276.8 1112.7 277.4 1112.9 278 1113.3 278.6 1113.1 279.2 1113.2 279.8 1113.4 280.4 1114 281 1113.7 281.6 1113.7 282.2 1114.2 282.8 1114.3 283.4 1114.6 284 1114.5 284.6 1114.5 285.2 1114.6 285.8 1114.6 286.4 1115 287 1115.1 287.6 1115.4 288.2 1115.6 288.8 1115.8 289.4 1115.8 290 1115.7 290.6 1116.2 291.2 1116.3 291.8 1116.2 292.4 1116.2 293 1116.6 293.6 1116.5 294.2 1116.9 294.8 1117 295.4 1116.8 296 1117 296.6 1117.1 297.2 1117.6 297.8 1117.4 298.4 1117.7 299 1117.8 299.6 1118 300.2 1118.1 300.8 1118.3 301.4 1118.4 302 1118.2 302.6 1118.6 303.2 1118.9 303.8 1118.7 304.4 1118.7 305 1119.3 305.6 1119.4 306.2 1119.2 306.8 1119.6 307.4 1119.8 308 1119.8 308.6 1120 309.2 1119.8 309.8 1119.8 310.4 1120.4 311 1120.1 311.6 1120.8 312.2 1120.7 312.8 1121 313.4 1121.1 314 1121.1 314.6 1120.9 315.2 1121.4 315.8 1121.5 316.4 1121.6 317 1121.9 317.6 1121.8 318.2 1121.8 318.8 1121.9 319.4 1122.2 320 1122.2 320.6 1122.4 321.2 1122.9 321.8 1122.7 322.4 1122.8 323 1123.3 323.6 1123.4 324.2 1123.5 324.8 1123.4 325.4 1123.7 326 1123.9 326.6 1124 327.2 1124.2 327.8 1124.4 328.4 1124.1 329 1124.3 329.6 1124.8 330.2 1124.8 330.8 1125.1 331.4 1124.8 332 1125.2 332.6 1125.4 333.2 1125.3 333.8 1125.7 334.4 1125.6 335 1125.6 335.6 1125.8 336.2 1126 336.8 1126.1 337.4 1126.5 338 1126.5 338.6 1126.7 339.2 1126.6 339.8 1127.1 340.4 1127.4 341 1127 341.6 1127.3 342.2 1127.9 342.8 1128 343.4 1127.6 344 1128 344.6 1128.3 345.2 1128.5 345.8 1128.6 346.4 1128.4 347 1128.8 347.6 1128.9 348.2 1128.9 348.8 1129.5 349.4 1129.7 350 1129.8 350.6 1129.6 351.2 1129.7 351.8 1130.3 352.4 1130.3 353 1130.4 353.6 1130.7 354.2 1130.6 354.8 1130.8 355.4 1131.3 356 1131.4 356.6 1131.1 357.2 1131.7 357.8 1131.9 358.4 1132.1 359 1131.8 359.6 1132.2 360.2 1132.5 360.8 1132.8 361.4 1132.7 362 1133.1 362.6 1133.1 363.2 1133.4 363.8 1133.2 364.4 1133.3 365 1133.7 365.6 1133.8 366.2 1134.2 366.8 1134 367.4 1134.2 368 1134.6 368.6 1134.7 369.2 1135 369.8 1135.1 370.4 1135.3 371 1135.5 371.6 1135.9 372.2 1135.8 372.8 1136.2 373.4 1136.3 374 1136.3 374.6 1136.6 375.2 1136.8 375.8 1137.1 376.4 1137.1 377 1137.6 377.6 1138.1 378.2 1138.1 378.8 1138 379.4 1138.5 380 1139 380.6 1139 381.2 1139.3 381.8 1139.4 382.4 1139.6 383 1140.1 383.6 1140.1 384.2 1140.6 384.8 1140.6 385.4 1140.8 386 1141.2 386.6 1141.3 387.2 1141.7 387.8 1141.9 388.4 1142.5 389 1142.7 389.6 1143.1 390.2 1143.4 390.8 1143.3 391.4 1143.6 392 1144.4 392.6 1144.5 393.2 1144.8 393.8 1145.2 394.4 1145.6 395 1146.2 395.6 1146.1 396.2 1146.5 396.8 1147.4 397.4 1147.7 398 1148.5 398.6 1148.7 399.2 1149.3 399.8 1150 400.4 1150.5 401 1151.4 401.6 1152.3 402.2 1153 402.8 1159.8 402.8 1159.1 402.2 1158.2 401.6 1158 401 1156.9 400.4 1156.1 399.8 1155.7 399.2 1155 398.6 1154.5 398 1154 397.4 1153.5 396.8 1153 396.2 1152.6 395.6 1152.6 395 1152.1 394.4 1151.8 393.8 1151.6 393.2 1150.7 392.6 1151 392 1150.6 391.4 1149.9 390.8 1149.6 390.2 1149.7 389.6 1149.4 389 1149.1 388.4 1148.6 387.8 1148.2 387.2 1147.9 386.6 1148.1 386 1147.7 385.4 1147.2 384.8 1147 384.2 1146.7 383.6 1146.6 383 1146.4 382.4 1146.2 381.8 1146.1 381.2 1145.5 380.6 1145.7 380 1145.3 379.4 1144.7 378.8 1144.5 378.2 1144.8 377.6 1144.2 377 1144 376.4 1144.2 375.8 1144 375.2 1143.7 374.6 1143.6 374 1143.2 373.4 1142.7 372.8 1142.6 372.2 1142.7 371.6 1142.6 371 1141.9 370.4 1142.2 369.8 1141.9 369.2 1141.5 368.6 1141.3 368 1141.2 367.4 1141.1 366.8 1141.1 366.2 1140.4 365.6 1140.4 365 1140.6 364.4 1140.1 363.8 1140.1 363.2 1139.9 362.6 1139.4 362 1139.5 361.4 1139.5 360.8 1138.9 360.2 1139 359.6 1138.8 359 1138.6 358.4 1138.3 357.8 1138.1 357.2 1138.3 356.6 1137.7 356 1138 355.4 1137.4 354.8 1137.3 354.2 1137.3 353.6 1137 353 1136.8 352.4 1136.5 351.8 1136.5 351.2 1136.8 350.6 1136.6 350 1136.1 349.4 1135.9 348.8 1135.7 348.2 1136 347.6 1135.3 347 1135.7 346.4 1135.5 345.8 1135.3 345.2 1134.9 344.6 1134.8 344 1134.4 343.4 1134.8 342.8 1134.7 342.2 1134.4 341.6 1134 341 1133.7 340.4 1133.6 339.8 1133.8 339.2 1133.4 338.6 1133.2 338 1133.4 337.4 1133.2 336.8 1132.9 336.2 1132.8 335.6 1132.4 335 1132.3 334.4 1132.3 333.8 1131.9 333.2 1132.2 332.6 1132 332 1132.1 331.4 1131.4 330.8 1131.8 330.2 1131.4 329.6 1131.1 329 1131.2 328.4 1130.6 327.8 1130.7 327.2 1130.5 326.6 1130.7 326 1130.4 325.4 1130.2 324.8 1130.4 324.2 1130 323.6 1129.8 323 1129.5 322.4 1129.7 321.8 1129.4 321.2 1129.6 320.6 1128.9 320 1129.3 319.4 1128.9 318.8 1128.7 318.2 1128.8 317.6 1128.4 317 1128.2 316.4 1128.2 315.8 1128 315.2 1127.9 314.6 1127.5 314 1127.7 313.4 1127.4 312.8 1127.1 312.2 1127.3 311.6 1127.4 311 1127.1 310.4 1126.8 309.8 1126.4 309.2 1126.6 308.6 1126.2 308 1126.3 307.4 1126.5 306.8 1126 306.2 1125.6 305.6 1125.9 305 1125.8 304.4 1125.7 303.8 1125.1 303.2 1125 302.6 1125.3 302 1125.1 301.4 1124.8 300.8 1124.6 300.2 1124.7 299.6 1124.4 299 1124.4 298.4 1124.2 297.8 1124.2 297.2 1123.9 296.6 1123.9 296 1123.9 295.4 1123.7 294.8 1123.2 294.2 1123.5 293.6 1122.9 293 1123.2 292.4 1122.6 291.8 1122.8 291.2 1122.7 290.6 1122.6 290 1122.4 289.4 1122.1 288.8 1122.2 288.2 1122.2 287.6 1122.1 287 1121.9 286.4 1121.9 285.8 1121.7 285.2 1121.5 284.6 1121.5 284 1121.4 283.4 1121.1 282.8 1120.7 282.2 1120.7 281.6 1120.7 281 1120.3 280.4 1120.1 279.8 1120.2 279.2 1120.3 278.6 1120.1 278 1120 277.4 1120 276.8 1119.6 276.2 1119.7 275.6 1119.1 275 1119.5 274.4 1119.2 273.8 1118.7 273.2 1118.9 272.6 1118.6 272 1118.4 271.4 1118.7 270.8 1118.4 270.2 1118.1 269.6 1117.9 269 1117.9 268.4 1117.7 267.8 1117.7 267.2 1117.3 266.6 1117.3 266 1117.1 265.4 1117.1 264.8 1117.2 264.2 1116.7 263.6 1116.9 263 1117 262.4 1116.7 261.8 1116.6 261.2 1116.5 260.6 1116 260 1115.8 259.4 1115.8 258.8 1115.6 258.2 1115.6 257.6 1115.6 257 1115.6 256.4 1115.5 255.8 1115.4 255.2 1115.3 254.6 1115.1 254 1114.7 253.4 1114.8 252.8 1114.6 252.2 1114.2 251.6 1114.1 251 1114 250.4 1114.1 249.8 1113.9 249.2 1113.9 248.6 1113.6 248 1113.3 247.4 1113 246.8 1113.1 246.2 1113.2 245.6 1113.2 245 1112.8 244.4 1112.8 243.8 1112.5 243.2 1112.4 242.6 1112.4 242 1112.4 241.4 1111.8 240.8 1111.8 240.2 1111.9 239.6 1111.7 239 1111.7 238.4 1111.6 237.8 1111.2 237.2 1110.9 236.6 1110.9 236 1110.5 235.4 1110.8 234.8 1110.4 234.2 1110.4 233.6 1110.1 233 1110 232.4 1110 231.8 1109.7 231.2 1109.6 230.6 1109.8 230 1109.6 229.4 1109.4 228.8 1109 228.2 1108.7 227.6 1109.2 227 1108.9 226.4 1108.8 225.8 1108.6 225.2 1108.5 224.6 1108.2 224 1108.6 223.4 1108 222.8 1108.1 222.2 1108.3 221.6 1107.8 221 1108.1 220.4 1108 219.8 1107.6 219.2 1107.6 218.6 1107.7 218 1107.7 217.4 1107.5 216.8 1107.2 216.2 1107 215.6 1107.3 215 1106.9 214.4 1107 213.8 1106.8 213.2 1107.1 212.6 1107.1 212 1106.6 211.4 1106.9 210.8 1106.6 210.2 1106.7 209.6 1106.8 209 1106.2 208.4 1106.5 207.8 1106.4 207.2 1106.4 206.6 1106.4 206 1106.1 205.4 1106.3 204.8 1106.2 204.2 1105.9 203.6 1105.8 203 1106 202.4 1105.8 201.8 1105.8 201.2 1105.8 200.6 1105.8 200 1105.7 199.4 1105.2 198.8 1105.6 198.2 1105.6 197.6 1105.3 197 1105.4 196.4 1105.3 195.8 1105 195.2 1104.8 194.6 1104.8 194 1104.7 193.4 1105.1 192.8 1104.6 192.2 1104.5 191.6 1104.4 191 1104.9 190.4 1104.7 189.8 1104.8 189.2 1104.4 188.6 1104.7 188 1104.6 187.4 1104.5 186.8 1104.2 186.2 1104.5 185.6 1104.1 185 1104.2 184.4 1103.8 183.8 1103.8 183.2 1103.7 182.6 1103.8 182 1103.8 181.4 1104 180.8 1103.9 180.2 1103.9 179.6 1103.5 179 1103.3 178.4 1103.2 177.8 1103.2 177.2 1103.2 176.6 1103.5 176 1103.2 175.4 1103.4 174.8 1103.4 174.2 1102.8 173.6 1102.9 173 1103.3 172.4 1102.9 171.8 1103.1 171.2 1102.8 170.6 1102.5 170 1102.8 169.4 1102.7 168.8 1102.6 168.2 1102.5 167.6 1102.5 167 1102.6 166.4 1102.7 165.8 1102.5 165.2 1102.4 164.6 1102.1 164 1102 163.4 1102.1 162.8 1102.4 162.2 1101.9 161.6 1102.2 161 1101.8 160.4 1101.9 159.8 1101.7 159.2 1101.7 158.6 1101.6 158 1101.7 157.4 1101.5 156.8 1101.7 156.2 1101.1 155.6 1101.3 155 1100.9 154.4 1101.1 153.8 1100.9 153.2 1100.6 152.6 1100.3 152 1100.2 151.4 1100.1 150.8 1100 150.2 1100 149.6 1099.5 149 1099.7 148.4 1099.7 147.8 1099.2 147.2 1099.1 146.6 1099.3 146Z"/>
<path d="M1214.8 115.2 1214.8 115.8 1214.7 116.4 1214.5 117 1214.4 117.6 1214.4 118.2 1214.1 118.8 1214.1 119.4 1214.4 120 1214.2 120.6 1213.7 121.2 1213.8 121.8 1213.4 122.4 1213.6 123 1213.2 123.6 1213.1 124.2 1213.1 124.8 1212.8 125.4 1213.1 126 1212.8 126.6 1212.6 127.2 1212.5 127.8 1212.5 128.4 1212.3 129 1212.7 129.6 1212.5 130.2 1212.3 130.8 1212.3 131.4 1212.1 132 1212.1 132.6 1212.2 133.2 1212 133.8 1212.4 134.4 1211.9 135 1212.3 135.6 1212.3 136.2 1211.8 136.8 1212 137.4 1211.6 138 1212.1 138.6 1211.9 139.2 1211.8 139.8 1211.6 140.4 1211.7 141 1211.7 141.6 1211.9 142.2 1211.3 142.8 1211.3 143.4 1211.4 144 1211.6 144.6 1211.4 145.2 1211.5 145.8 1211.5 146.4 1211.2 147 1210.8 147.6 1211.2 148.2 1210.8 148.8 1211 149.4 1210.7 150 1210.8 150.6 1210.7 151.2 1210.6 151.8 1210.8 152.4 1210.8 153 1210.5 153.6 1210.5 154.2 1210.4 154.8 1210.3 155.4 1210.4 156 1210.3 156.6 1210.2 157.2 1210.2 157.8 1210.2 158.4 1210 159 1209.8 159.6 1210.1 160.2 1210 160.8 1209.9 161.4 1210.1 162 1209.6 162.6 1209.7 163.2 1209.8 163.8 1209.7 164.4 1209.5 165 1209.3 165.6 1209.6 166.2 1209.4 166.8 1209.5 167.4 1209 168 1209.1 168.6 1209.3 169.2 1209.4 169.8 1209.3 170.4 1209.3 171 1209.1 171.6 1209.1 172.2 1208.9 172.8 1208.7 173.4 1208.5 174 1208.7 174.6 1208.6 175.2 1208.2 175.8 1208.6 176.4 1208.6 177 1208.4 177.6 1208 178.2 1208 178.8 1208.1 179.4 1207.9 180 1207.7 180.6 1207.7 181.2 1208 181.8 1207.9 182.4 1207.7 183 1207.8 183.6 1207.6 184.2 1207.3 184.8 1207.4 185.4 1207.5 186 1206.9 186.6 1206.8 187.2 1206.9 187.8 1206.7 188.4 1207 189 1206.8 189.6 1206.5 190.2 1206.8 190.8 1206.6 191.4 1206.4 192 1206.2 192.6 1206.5 193.2 1206.1 193.8 1206.2 194.4 1206.1 195 1206.2 195.6 1206 196.2 1206 196.8 1205.6 197.4 1205.6 198 1205.8 198.6 1205.6 199.2 1205.7 199.8 1205.1 200.4 1205 201 1205.2 201.6 1204.9 202.2 1205 202.8 1205 203.4 1204.7 204 1205 204.6 1205 205.2 1204.9 205.8 1204.9 206.4 1204.4 207 1204.5 207.6 1204.4 208.2 1204.6 208.8 1204.4 209.4 1204.3 210 1204.1 210.6 1204 211.2 1203.9 211.8 1204 212.4 1203.7 213 1203.4 213.6 1203.5 214.2 1203.5 214.8 1203.3 215.4 1203.3 216 1203.3 216.6 1203.2 217.2 1203.1 217.8 1202.9 218.4 1202.8 219 1202.8 219.6 1202.6 220.2 1202.6 220.8 1202.6 221.4 1202.5 222 1202.2 222.6 1202.1 223.2 1202.1 223.8 1202.5 224.4 1201.9 225 1202.3 225.6 1202.2 226.2 1201.7 226.8 1201.9 227.4 1201.9 228 1201.9 228.6 1201.9 229.2 1201.6 229.8 1201.5 230.4 1201.4 231 1201.4 231.6 1201.3 232.2 1201 232.8 1200.8 233.4 1200.8 234 1200.8 234.6 1200.9 235.2 1200.9 235.8 1200.8 236.4 1200.5 237 1200.2 237.6 1200.2 238.2 1200.2 238.8 1200.4 239.4 1200.4 240 1200.3 240.6 1199.8 241.2 1200 241.8 1200 242.4 1199.7 243 1199.6 243.6 1199.5 244.2 1199.4 244.8 1199.6 245.4 1199.4 246 1199.4 246.6 1199.2 247.2 1199.3 247.8 1198.7 248.4 1198.9 249 1199 249.6 1198.7 250.2 1198.4 250.8 1198.2 251.4 1198.2 252 1198.2 252.6 1198.5 253.2 1198.3 253.8 1197.8 254.4 1198 255 1198 255.6 1197.7 256.2 1197.9 256.8 1197.4 257.4 1197.5 258 1197.6 258.6 1197.3 259.2 1196.9 259.8 1196.9 260.4 1197.2 261 1197.1 261.6 1197.1 262.2 1197 262.8 1196.9 263.4 1196.5 264 1196.7 264.6 1196.2 265.2 1196 265.8 1195.9 266.4 1196.3 267 1196.2 267.6 1196 268.2 1196 268.8 1195.4 269.4 1195.5 270 1195.6 270.6 1195.5 271.2 1195.4 271.8 1195.3 272.4 1195.1 273 1194.9 273.6 1195.1 274.2 1194.5 274.8 1194.6 275.4 1194.5 276 1194.5 276.6 1194.3 277.2 1194.3 277.8 1194.3 278.4 1193.9 279 1194.1 279.6 1193.7 280.2 1193.9 280.8 1193.5 281.4 1193.2 282 1193.4 282.6 1193.3 283.2 1193.4 283.8 1192.9 284.4 1192.8 285 1193 285.6 1192.8 286.2 1192.7 286.8 1192.3 287.4 1192.3 288 1192.1 288.6 1192.4 289.2 1192.1 289.8 1191.7 290.4 1192 291 1191.8 291.6 1191.8 292.2 1191.2 292.8 1191.6 293.4 1191.5 294 1191.2 294.6 1191.1 295.2 1191.2 295.8 1190.6 296.4 1190.6 297 1190.4 297.6 1190.5 298.2 1190.3 298.8 1190 299.4 1190.3 300 1190 300.6 1190 301.2 1190 301.8 1189.5 302.4 1189.6 303 1189.5 303.6 1189.4 304.2 1189.1 304.8 1189.3 305.4 1188.7 306 1188.7 306.6 1188.7 307.2 1188.5 307.8 1188.6 308.4 1188.2 309 1188.1 309.6 1188.2 310.2 1188 310.8 1188 311.4 1187.5 312 1187.4 312.6 1187.5 313.2 1187 313.8 1187.2 314.4 1186.7 315 1187 315.6 1186.9 316.2 1186.5 316.8 1186.5 317.4 1186.5 318 1186.3 318.6 1186.1 319.2 1186.1 319.8 1185.9 320.4 1185.9 321 1185.3 321.6 1185.5 322.2 1185.4 322.8 1185.1 323.4 1185.3 324 1185.2 324.6 1184.9 325.2 1184.4 325.8 1184.7 326.4 1184.6 327 1184.5 327.6 1183.8 328.2 1183.7 328.8 1183.7 329.4 1183.4 330 1183.8 330.6 1183.3 331.2 1183.1 331.8 1183.3 332.4 1183 333 1183 333.6 1182.8 334.2 1182.8 334.8 1182.4 335.4 1182.1 336 1182.3 336.6 1182.1 337.2 1181.5 337.8 1181.8 338.4 1181.5 339 1181.3 339.6 1180.9 340.2 1180.8 340.8 1181 341.4 1180.9 342 1180.8 342.6 1180.5 343.2 1180.5 343.8 1179.9 344.4 1180.1 345 1180 345.6 1179.7 346.2 1179.7 346.8 1179.2 347.4 1179.2 348 1179.1 348.6 1178.8 349.2 1178.9 349.8 1178.3 350.4 1178.2 351 1178.3 351.6 1177.7 352.2 1177.6 352.8 1177.8 353.4 1177.5 354 1177.6 354.6 1177.2 355.2 1177 355.8 1177.1 356.4 1177 357 1176.6 357.6 1176.4 358.2 1175.9 358.8 1175.7 359.4 1176 360 1175.9 360.6 1175.4 361.2 1175.1 361.8 1175.3 362.4 1174.7 363 1175 363.6 1174.5 364.2 1174.4 364.8 1174.2 365.4 1174 366 1173.6 366.6 1173.7 367.2 1173.3 367.8 1173.4 368.4 1173.2 369 1173 369.6 1173 370.2 1172.8 370.8 1172.9 371.4 1172.8 372 1172.8 372.6 1172.9 373.2 1172.1 373.8 1172 374.4 1171.8 375 1171.7 375.6 1171.5 376.2 1171.7 376.8 1171.3 377.4 1171.3 378 1170.8 378.6 1170.7 379.2 1170.8 379.8 1170.2 380.4 1170 381 1169.7 381.6 1169.5 382.2 1169.8 382.8 1169.2 383.4 1169.2 384 1168.8 384.6 1168.8 385.2 1168.6 385.8 1168.5 386.4 1167.8 387 1167.8 387.6 1167.5 388.2 1167.4 388.8 1167.3 389.4 1166.7 390 1166.9 390.6 1166.7 391.2 1166.4 391.8 1166.3 392.4 1165.7 393 1165.4 393.6 1165.3 394.2 1165.3 394.8 1164.9 395.4 1164.3 396 1163.9 396.6 1163.6 397.2 1163.5 397.8 1163.2 398.4 1162.9 399 1162.3 399.6 1162.2 400.2 1161.4 400.8 1161.2 401.4 1160.4 402 1159.9 402.6 1163.5 402.6 1164 402 1164.3 401.4 1165.1 400.8 1165.6 400.2 1166.1 399.6 1166.1 399 1166.4 398.4 1166.7 397.8 1167.1 397.2 1167.7 396.6 1167.5 396 1167.9 395.4 1168.6 394.8 1168.8 394.2 1168.9 393.6 1169.1 393 1169.2 392.4 1169.4 391.8 1169.9 391.2 1170.1 390.6 1170.4 390 1171 389.4 1171.2 388.8 1171.2 388.2 1171.7 387.6 1172 387 1172.3 386.4 1172.4 385.8 1172.4 385.2 1172.9 384.6 1173.3 384 1173.4 383.4 1173.8 382.8 1173.9 382.2 1174.1 381.6 1174 381 1174.3 380.4 1174.6 379.8 1174.7 379.2 1174.9 378.6 1175.2 378 1175.5 377.4 1175.8 376.8 1176.3 376.2 1176.5 375.6 1176.5 375 1176.6 374.4 1177 373.8 1177.1 373.2 1177.3 372.6 1177.3 372 1178 371.4 1178.1 370.8 1178.6 370.2 1178.7 369.6 1179.1 369 1179.3 368.4 1179.3 367.8 1179.9 367.2 1180 366.6 1180.1 366 1180.2 365.4 1180.4 364.8 1181 364.2 1181 363.6 1181 363 1181.4 362.4 1181.1 361.8 1181.5 361.2 1182 360.6 1182 360 1182 359.4 1182.4 358.8 1182.6 358.2 1182.7 357.6 1182.6 357 1182.9 356.4 1182.9 355.8 1183.1 355.2 1183.4 354.6 1183.7 354 1183.8 353.4 1184 352.8 1184.2 352.2 1184.5 351.6 1184.4 351 1184.8 350.4 1184.7 349.8 1184.9 349.2 1185.2 348.6 1185.5 348 1185.3 347.4 1185.5 346.8 1185.8 346.2 1185.7 345.6 1186.2 345 1186.4 344.4 1186.3 343.8 1186.5 343.2 1186.5 342.6 1186.9 342 1187.1 341.4 1187 340.8 1187.2 340.2 1187.1 339.6 1187.5 339 1187.9 338.4 1187.8 337.8 1188.2 337.2 1188.2 336.6 1188.3 336 1188.2 335.4 1188.5 334.8 1188.7 334.2 1188.7 333.6 1188.9 333 1188.9 332.4 1189.3 331.8 1189.6 331.2 1189.5 330.6 1189.8 330 1189.7 329.4 1189.8 328.8 1190.4 328.2 1190.4 327.6 1190.7 327 1190.6 326.4 1190.7 325.8 1191.1 325.2 1191 324.6 1190.9 324 1191.5 323.4 1191.3 322.8 1191.4 322.2 1191.4 321.6 1191.6 321 1191.8 320.4 1192 319.8 1192.2 319.2 1192.3 318.6 1192.4 318 1192.3 317.4 1192.9 316.8 1193 316.2 1193.1 315.6 1193.2 315 1193.4 314.4 1193.2 313.8 1193.4 313.2 1193.4 312.6 1193.7 312 1194.2 311.4 1193.7 310.8 1194 310.2 1194.5 309.6 1194.2 309 1194.6 308.4 1194.5 307.8 1194.9 307.2 1194.8 306.6 1195 306 1195.4 305.4 1195.1 304.8 1195.6 304.2 1195.3 303.6 1195.6 303 1195.6 302.4 1196 301.8 1195.9 301.2 1196.3 300.6 1196.2 300 1196.3 299.4 1196.4 298.8 1196.8 298.2 1196.8 297.6 1197 297 1196.7 296.4 1197.3 295.8 1197.2 295.2 1197 294.6 1197.4 294 1197.7 293.4 1197.6 292.8 1197.8 292.2 1198 291.6 1198 291 1197.8 290.4 1198.2 289.8 1198.6 289.2 1198.6 288.6 1198.3 288 1198.4 287.4 1198.7 286.8 1198.6 286.2 1199.1 285.6 1199.3 285 1199.4 284.4 1199.2 283.8 1199.5 283.2 1199.5 282.6 1199.4 282 1199.9 281.4 1199.7 280.8 1200.2 280.2 1199.8 279.6 1200.2 279 1200.2 278.4 1200.1 277.8 1200.1 277.2 1200.5 276.6 1200.5 276 1200.8 275.4 1200.5 274.8 1201.2 274.2 1200.8 273.6 1201 273 1201.2 272.4 1201.5 271.8 1201.5 271.2 1201.4 270.6 1201.4 270 1201.5 269.4 1201.6 268.8 1201.9 268.2 1202.2 267.6 1202.4 267 1202.2 266.4 1202.3 265.8 1202.5 265.2 1202.4 264.6 1202.5 264 1203 263.4 1203 262.8 1202.7 262.2 1202.8 261.6 1203.4 261 1203.1 260.4 1203.4 259.8 1203.3 259.2 1203.6 258.6 1203.7 258 1204 257.4 1203.8 256.8 1203.6 256.2 1203.8 255.6 1204.1 255 1204.4 254.4 1204.4 253.8 1204.5 253.2 1204.6 252.6 1204.6 252 1204.5 251.4 1204.5 250.8 1204.7 250.2 1204.6 249.6 1204.7 249 1205.3 248.4 1204.8 247.8 1205.5 247.2 1205.5 246.6 1205.6 246 1205.7 245.4 1205.6 244.8 1205.4 244.2 1206 243.6 1205.8 243 1206.2 242.4 1206.2 241.8 1206 241.2 1206.2 240.6 1206.3 240 1206.4 239.4 1206.1 238.8 1206.7 238.2 1206.8 237.6 1206.4 237 1206.7 236.4 1207 235.8 1207.1 235.2 1207.1 234.6 1206.9 234 1206.9 233.4 1206.9 232.8 1207.5 232.2 1207.7 231.6 1207.3 231 1207.3 230.4 1207.8 229.8 1207.8 229.2 1207.8 228.6 1207.6 228 1207.8 227.4 1208.2 226.8 1207.9 226.2 1207.9 225.6 1208.1 225 1208.2 224.4 1208.4 223.8 1208.6 223.2 1208.4 222.6 1208.8 222 1208.5 221.4 1208.6 220.8 1209.1 220.2 1209.1 219.6 1209 219 1208.7 218.4 1208.9 217.8 1209.4 217.2 1209.4 216.6 1209.5 216 1209.6 215.4 1209.1 214.8 1209.5 214.2 1209.6 213.6 1209.8 213 1209.9 212.4 1209.6 211.8 1209.8 211.2 1209.7 210.6 1210.1 210 1209.7 209.4 1210.1 208.8 1209.9 208.2 1209.9 207.6 1210.2 207 1210.4 206.4 1210.5 205.8 1210.1 205.2 1210.7 204.6 1210.3 204 1210.3 203.4 1210.5 202.8 1210.6 202.2 1210.7 201.6 1210.6 201 1210.9 200.4 1210.9 199.8 1211 199.2 1211 198.6 1211.3 198 1211.3 197.4 1211.5 196.8 1211.5 196.2 1211.1 195.6 1211.5 195 1211.7 194.4 1211.5 193.8 1211.7 193.2 1211.3 192.6 1211.7 192 1211.6 191.4 1211.9 190.8 1212.1 190.2 1212.1 189.6 1212.1 189 1212.3 188.4 1212.4 187.8 1212.3 187.2 1212 186.6 1212.5 186 1212.4 185.4 1212.3 184.8 1212.3 184.2 1212.4 183.6 1212.8 183 1212.8 182.4 1212.9 181.8 1213.1 181.2 1212.9 180.6 1213.1 180 1213 179.4 1213 178.8 1213.2 178.2 1213.2 177.6 1213.1 177 1213.5 176.4 1213.5 175.8 1213.4 175.2 1213.3 174.6 1213.6 174 1213.6 173.4 1213.4 172.8 1213.4 172.2 1213.7 171.6 1213.5 171 1213.8 170.4 1214.1 169.8 1213.9 169.2 1213.8 168.6 1214.1 168 1214.1 167.4 1213.9 166.8 1213.9 166.2 1214.3 165.6 1214.2 165 1214.1 164.4 1214.5 163.8 1214.5 163.2 1214.3 162.6 1214.5 162 1214.6 161.4 1214.6 160.8 1214.8 160.2 1214.9 159.6 1214.7 159 1214.8 158.4 1214.6 157.8 1215.1 157.2 1215.1 156.6 1215.3 156 1215 155.4 1215.3 154.8 1215.1 154.2 1215.2 153.6 1215.6 153 1215.6 152.4 1215.2 151.8 1215.5 151.2 1215.3 150.6 1215.7 150 1215.4 149.4 1215.8 148.8 1215.8 148.2 1215.9 147.6 1215.9 147 1215.6 146.4 1215.9 145.8 1215.6 145.2 1215.8 144.6 1216.1 144 1215.9 143.4 1216.1 142.8 1215.8 142.2 1215.9 141.6 1216.1 141 1215.9 140.4 1216.2 139.8 1216.1 139.2 1216.1 138.6 1216.4 138 1216.4 137.4 1216.2 136.8 1216.3 136.2 1216.4 135.6 1216.9 135 1216.7 134.4 1216.9 133.8 1217 133.2 1217 132.6 1217 132 1216.6 131.4 1217.1 130.8 1217 130.2 1216.7 129.6 1216.7 129 1217.2 128.4 1217 127.8 1217.1 127.2 1217.2 126.6 1216.8 126 1217.1 125.4 1216.8 124.8 1216.6 124.2 1217 123.6 1216.9 123 1216.9 122.4 1216.3 121.8 1216.7 121.2 1216.5 120.6 1216.6 120 1216.4 119.4 1216.6 118.8 1216.6 118.2 1216.2 117.6 1216 117 1215.9 116.4 1216.3 115.8 1216.1 115.2Z"/>
<path d="M1215.2 115.2 1215.2 115.8 1214.5 116.4 1214.6 117 1214.7 117.6 1214.4 118.2 1214.2 118.8 1214.3 119.4 1214.2 120 1214.3 120.6 1214.1 121.2 1213.7 121.8 1213.7 122.4 1213.8 123 1213.9 123.6 1213.9 124.2 1213.7 124.8 1213.6 125.4 1213.1 126 1213 126.6 1213 127.2 1213 127.8 1213.4 128.4 1213.5 129 1213.4 129.6 1213.6 130.2 1213.6 130.8 1213.6 131.4 1213.5 132 1213.6 132.6 1213.2 133.2 1213.6 133.8 1213.7 134.4 1213.4 135 1213.8 135.6 1213.9 136.2 1213.9 136.8 1213.7 137.4 1213.7 138 1213.8 138.6 1213.6 139.2 1213.7 139.8 1213.8 140.4 1214.2 141 1214.1 141.6 1214.2 142.2 1214.3 142.8 1214.1 143.4 1214.4 144 1214.3 144.6 1214.2 145.2 1214.1 145.8 1214.2 146.4 1214.3 147 1214.4 147.6 1214.7 148.2 1214.7 148.8 1214.5 149.4 1214.5 150 1214.9 150.6 1214.6 151.2 1215.1 151.8 1214.7 152.4 1215 153 1215.1 153.6 1214.8 154.2 1215.2 154.8 1215 155.4 1215.1 156 1215 156.6 1215.6 157.2 1215.2 157.8 1215.4 158.4 1215.3 159 1215.4 159.6 1215.7 160.2 1215.5 160.8 1215.8 161.4 1215.7 162 1215.8 162.6 1215.8 163.2 1215.8 163.8 1216.1 164.4 1215.8 165 1216.3 165.6 1216.2 166.2 1216 166.8 1216 167.4 1216.3 168 1216.2 168.6 1216.2 169.2 1216.3 169.8 1216.7 170.4 1216.5 171 1216.4 171.6 1216.8 172.2 1216.9 172.8 1216.6 173.4 1217 174 1216.8 174.6 1217 175.2 1217.5 175.8 1217.2 176.4 1217.7 177 1217.4 177.6 1217.5 178.2 1217.9 178.8 1217.6 179.4 1218.1 180 1218 180.6 1218 181.2 1218.3 181.8 1218.4 182.4 1218.4 183 1218.5 183.6 1218.6 184.2 1218.4 184.8 1218.9 185.4 1218.5 186 1219.1 186.6 1219.2 187.2 1218.9 187.8 1219.3 188.4 1219.2 189 1219.6 189.6 1219.7 190.2 1219.4 190.8 1219.7 191.4 1219.5 192 1220 192.6 1219.9 193.2 1219.8 193.8 1220 194.4 1220 195 1220.3 195.6 1220.2 196.2 1220.3 196.8 1220.4 197.4 1220.5 198 1220.7 198.6 1220.6 199.2 1221 199.8 1221.3 200.4 1221 201 1221.3 201.6 1221.3 202.2 1221.4 202.8 1221.4 203.4 1221.9 204 1222 204.6 1222.1 205.2 1222.1 205.8 1221.8 206.4 1222.1 207 1222.2 207.6 1222.6 208.2 1222.5 208.8 1222.8 209.4 1222.8 210 1222.8 210.6 1222.6 211.2 1223.1 211.8 1223.2 212.4 1222.8 213 1222.9 213.6 1223.3 214.2 1223.1 214.8 1223.2 215.4 1223.5 216 1223.6 216.6 1223.7 217.2 1224.1 217.8 1224 218.4 1224.2 219 1224.4 219.6 1224.1 220.2 1224.5 220.8 1224.7 221.4 1224.8 222 1224.8 222.6 1224.6 223.2 1224.6 223.8 1225.1 224.4 1224.9 225 1224.9 225.6 1225.2 226.2 1225.1 226.8 1225.7 227.4 1225.8 228 1225.4 228.6 1225.9 229.2 1225.8 229.8 1226.1 230.4 1226 231 1226.2 231.6 1226 232.2 1226.2 232.8 1226.3 233.4 1226.7 234 1226.9 234.6 1227 235.2 1227 235.8 1227.1 236.4 1226.8 237 1227.4 237.6 1227.2 238.2 1227.2 238.8 1227.5 239.4 1227.7 240 1227.4 240.6 1227.6 241.2 1227.7 241.8 1228.1 242.4 1228.4 243 1228.2 243.6 1228.5 244.2 1228.6 244.8 1228.3 245.4 1228.7 246 1228.7 246.6 1228.9 247.2 1228.8 247.8 1229.2 248.4 1229.4 249 1229.2 249.6 1229.3 250.2 1229.5 250.8 1229.4 251.4 1229.4 252 1229.8 252.6 1229.9 253.2 1230.2 253.8 1229.9 254.4 1230.2 255 1230.5 255.6 1230.6 256.2 1230.3 256.8 1230.8 257.4 1231 258 1230.6 258.6 1230.9 259.2 1231.2 259.8 1231.3 260.4 1231.3 261 1231.6 261.6 1231.6 262.2 1231.5 262.8 1231.8 263.4 1231.9 264 1231.7 264.6 1232 265.2 1232.4 265.8 1232.1 266.4 1232.2 267 1232.6 267.6 1232.5 268.2 1232.7 268.8 1233.1 269.4 1232.7 270 1232.8 270.6 1233.4 271.2 1233.3 271.8 1233.6 272.4 1233.3 273 1233.3 273.6 1233.7 274.2 1233.6 274.8 1233.6 275.4 1234.2 276 1234.2 276.6 1234 277.2 1234.4 277.8 1234.5 278.4 1234.6 279 1234.9 279.6 1234.5 280.2 1234.7 280.8 1234.9 281.4 1234.8 282 1235.2 282.6 1235.3 283.2 1235.1 283.8 1235.6 284.4 1235.8 285 1235.5 285.6 1236 286.2 1235.9 286.8 1236.1 287.4 1236.1 288 1236 288.6 1236.3 289.2 1236.3 289.8 1236.8 290.4 1237 291 1236.5 291.6 1236.9 292.2 1237.1 292.8 1237.4 293.4 1237.5 294 1237.6 294.6 1237.3 295.2 1237.5 295.8 1237.5 296.4 1237.8 297 1238.1 297.6 1238.1 298.2 1238 298.8 1238.4 299.4 1238.1 300 1245.2 300 1245.4 299.4 1245 298.8 1244.8 298.2 1244.6 297.6 1244.9 297 1244.4 296.4 1244.5 295.8 1244.6 295.2 1244.4 294.6 1244.2 294 1244.4 293.4 1244 292.8 1243.6 292.2 1243.9 291.6 1243.4 291 1243.3 290.4 1243.5 289.8 1243.5 289.2 1243.3 288.6 1243.3 288 1242.8 287.4 1243 286.8 1242.7 286.2 1242.6 285.6 1242.4 285 1242.5 284.4 1242.2 283.8 1242.4 283.2 1241.9 282.6 1242 282 1242.1 281.4 1241.7 280.8 1242 280.2 1241.4 279.6 1241.7 279 1241.6 278.4 1241.4 277.8 1241.1 277.2 1241 276.6 1241.1 276 1240.7 275.4 1240.9 274.8 1240.5 274.2 1240.2 273.6 1240.1 273 1240.2 272.4 1239.8 271.8 1240.2 271.2 1240 270.6 1240 270 1239.6 269.4 1239.7 268.8 1239.6 268.2 1239.7 267.6 1239.5 267 1239.3 266.4 1238.8 265.8 1239.2 265.2 1239 264.6 1238.8 264 1238.6 263.4 1238.7 262.8 1238.4 262.2 1238.3 261.6 1238.4 261 1238.3 260.4 1238 259.8 1237.7 259.2 1237.7 258.6 1237.6 258 1237.7 257.4 1237.6 256.8 1237.2 256.2 1237.4 255.6 1237.1 255 1237 254.4 1236.9 253.8 1237.1 253.2 1236.9 252.6 1236.8 252 1236.2 251.4 1236.7 250.8 1236.6 250.2 1236.4 249.6 1236 249 1235.9 248.4 1235.6 247.8 1235.7 247.2 1235.9 246.6 1235.7 246 1235.5 245.4 1235.3 244.8 1235.5 244.2 1235.2 243.6 1235.3 243 1234.8 242.4 1234.7 241.8 1234.9 241.2 1234.4 240.6 1234.3 240 1234.4 239.4 1234.4 238.8 1234.2 238.2 1234.2 237.6 1234.2 237 1234.1 236.4 1233.8 235.8 1233.5 235.2 1233.8 234.6 1233.2 234 1233.5 233.4 1233.1 232.8 1232.9 232.2 1232.8 231.6 1232.8 231 1233.1 230.4 1233 229.8 1232.5 229.2 1232.7 228.6 1232.3 228 1232.5 227.4 1232.2 226.8 1231.8 226.2 1231.9 225.6 1231.7 225 1231.8 224.4 1231.5 223.8 1231.6 223.2 1231.4 222.6 1231.2 222 1231.2 221.4 1231.1 220.8 1231 220.2 1231 219.6 1230.9 219 1230.7 218.4 1230.5 217.8 1230.5 217.2 1230.1 216.6 1230.3 216 1229.9 215.4 1229.9 214.8 1230.2 214.2 1229.7 213.6 1230 213 1229.8 212.4 1229.5 211.8 1229.5 211.2 1229.2 210.6 1229.2 210 1228.9 209.4 1229.2 208.8 1228.8 208.2 1228.5 207.6 1228.7 207 1228.4 206.4 1228.5 205.8 1228.1 205.2 1228 204.6 1228.2 204 1227.9 203.4 1228.1 202.8 1228 202.2 1227.8 201.6 1227.4 201 1227.6 200.4 1227.7 199.8 1227.2 199.2 1227.3 198.6 1227.1 198 1226.8 197.4 1227.2 196.8 1226.8 196.2 1226.7 195.6 1226.5 195 1226.5 194.4 1226.4 193.8 1226.5 193.2 1226.4 192.6 1225.8 192 1226 191.4 1226 190.8 1225.7 190.2 1225.8 189.6 1225.2 189 1225.5 188.4 1225.3 187.8 1225.4 187.2 1225.3 186.6 1225 186 1224.8 185.4 1224.6 184.8 1224.5 184.2 1224.7 183.6 1224.5 183 1224.4 182.4 1224.2 181.8 1224 181.2 1224 180.6 1224.2 180 1223.6 179.4 1223.5 178.8 1223.4 178.2 1223.5 177.6 1223.6 177 1223.3 176.4 1223.3 175.8 1223.1 175.2 1223.1 174.6 1223.2 174 1222.7 173.4 1222.8 172.8 1222.5 172.2 1222.5 171.6 1222.6 171 1222.5 170.4 1222.6 169.8 1222.1 169.2 1222.4 168.6 1222.1 168 1222.2 167.4 1222 166.8 1222.1 166.2 1222.2 165.6 1222.2 165 1221.6 164.4 1221.8 163.8 1221.9 163.2 1221.5 162.6 1221.4 162 1221.8 161.4 1221.3 160.8 1221.5 160.2 1221.5 159.6 1221.6 159 1221.1 158.4 1221 157.8 1221.2 157.2 1220.8 156.6 1221.1 156 1221 155.4 1221 154.8 1220.9 154.2 1220.9 153.6 1220.8 153 1220.7 152.4 1220.5 151.8 1220.6 151.2 1220.4 150.6 1220.3 150 1220.2 149.4 1220.1 148.8 1220.5 148.2 1220.4 147.6 1220.2 147 1219.9 146.4 1220.1 145.8 1219.9 145.2 1220 144.6 1219.7 144 1219.7 143.4 1219.9 142.8 1219.9 142.2 1219.3 141.6 1219.4 141 1219.3 140.4 1219.2 139.8 1219.4 139.2 1219.2 138.6 1219.3 138 1219.2 137.4 1219.3 136.8 1218.9 136.2 1218.9 135.6 1219.2 135 1218.8 134.4 1219.2 133.8 1219.2 133.2 1218.8 132.6 1218.6 132 1218.6 131.4 1218.5 130.8 1218.5 130.2 1218.7 129.6 1218.6 129 1218.7 128.4 1218.7 127.8 1218.6 127.2 1218.5 126.6 1218.5 126 1218.3 125.4 1217.9 124.8 1217.9 124.2 1217.5 123.6 1217.8 123 1217.5 122.4 1217.2 121.8 1217.2 121.2 1217 120.6 1217 120 1216.7 119.4 1216.9 118.8 1216.5 118.2 1216.8 117.6 1216.4 117 1216.2 116.4 1216.1 115.8 1216.2 115.2Z"/>
</g>
<rect x="62.9" y="5.3" width="490" height="393.9" fill="none" stroke="#000" stroke-width="1.7"/>
<path d="M62.9 5.3h7M62.9 15.2h3.5M62.9 25h3.5M62.9 34.9h3.5M62.9 44.7h7M62.9 54.6h3.5M62.9 64.4h3.5M62.9 74.3h3.5M62.9 84.1h7M62.9 94h3.5M62.9 103.8h3.5M62.9 113.7h3.5M62.9 123.5h7M62.9 133.4h3.5M62.9 143.2h3.5M62.9 153.1h3.5M62.9 162.9h7M62.9 172.8h3.5M62.9 182.6h3.5M62.9 192.5h3.5M62.9 202.3h7M62.9 212.2h3.5M62.9 222h3.5M62.9 231.9h3.5M62.9 241.7h7M62.9 251.6h3.5M62.9 261.4h3.5M62.9 271.3h3.5M62.9 281.1h7M62.9 291h3.5M62.9 300.8h3.5M62.9 310.7h3.5M62.9 320.5h7M62.9 330.4h3.5M62.9 340.2h3.5M62.9 350.1h3.5M62.9 359.9h7M62.9 369.8h3.5M62.9 379.6h3.5M62.9 389.5h3.5M62.9 399.3h7M552.9 5.3h-8M552.9 15.2h-4M552.9 25h-4M552.9 34.9h-4M552.9 44.7h-8M552.9 54.6h-4M552.9 64.4h-4M552.9 74.3h-4M552.9 84.1h-8M552.9 94h-4M552.9 103.8h-4M552.9 113.7h-4M552.9 123.5h-8M552.9 133.4h-4M552.9 143.2h-4M552.9 153.1h-4M552.9 162.9h-8M552.9 172.8h-4M552.9 182.6h-4M552.9 192.5h-4M552.9 202.3h-8M552.9 212.2h-4M552.9 222h-4M552.9 231.9h-4M552.9 241.7h-8M552.9 251.6h-4M552.9 261.4h-4M552.9 271.3h-4M552.9 281.1h-8M552.9 291h-4M552.9 300.8h-4M552.9 310.7h-4M552.9 320.5h-8M552.9 330.4h-4M552.9 340.2h-4M552.9 350.1h-4M552.9 359.9h-8M552.9 369.8h-4M552.9 379.6h-4M552.9 389.5h-4M552.9 399.3h-8M62.9 399.3v-7M83.3 399.3v-3.5M103.7 399.3v-3.5M124.2 399.3v-3.5M144.6 399.3v-7M165 399.3v-3.5M185.4 399.3v-3.5M205.8 399.3v-3.5M226.2 399.3v-7M246.7 399.3v-3.5M267.1 399.3v-3.5M287.5 399.3v-3.5M307.9 399.3v-7M328.3 399.3v-3.5M348.7 399.3v-3.5M369.1 399.3v-3.5M389.6 399.3v-7M410 399.3v-3.5M430.4 399.3v-3.5M450.8 399.3v-3.5M471.2 399.3v-7M491.6 399.3v-3.5M512.1 399.3v-3.5M532.5 399.3v-3.5M552.9 399.3v-7M62.9 5.3v7M80.4 5.3v3.5M97.9 5.3v3.5M115.4 5.3v3.5M132.9 5.3v7M150.4 5.3v3.5M167.9 5.3v3.5M185.4 5.3v3.5M202.9 5.3v7M220.4 5.3v3.5M237.9 5.3v3.5M255.4 5.3v3.5M272.9 5.3v7M290.4 5.3v3.5M307.9 5.3v3.5M325.4 5.3v3.5M342.9 5.3v7M360.4 5.3v3.5M377.9 5.3v3.5M395.4 5.3v3.5M412.9 5.3v7M430.4 5.3v3.5M447.9 5.3v3.5M465.4 5.3v3.5M482.9 5.3v7M500.4 5.3v3.5M517.9 5.3v3.5M535.4 5.3v3.5M552.9 5.3v7" stroke="#000" stroke-width="1.7" fill="none"/>
<rect x="748.2" y="5.2" width="489.6" height="393.8" fill="none" stroke="#000" stroke-width="1.7"/>
<path d="M748.2 5.2h7M748.2 24.9h3.5M748.2 44.6h3.5M748.2 64.3h3.5M748.2 84h7M748.2 103.7h3.5M748.2 123.3h3.5M748.2 143h3.5M748.2 162.7h7M748.2 182.4h3.5M748.2 202.1h3.5M748.2 221.8h3.5M748.2 241.5h7M748.2 261.2h3.5M748.2 280.9h3.5M748.2 300.6h3.5M748.2 320.2h7M748.2 339.9h3.5M748.2 359.6h3.5M748.2 379.3h3.5M748.2 399h7M1237.8 5.2h-7M1237.8 24.9h-3.5M1237.8 44.6h-3.5M1237.8 64.3h-3.5M1237.8 84h-7M1237.8 103.7h-3.5M1237.8 123.3h-3.5M1237.8 143h-3.5M1237.8 162.7h-7M1237.8 182.4h-3.5M1237.8 202.1h-3.5M1237.8 221.8h-3.5M1237.8 241.5h-7M1237.8 261.2h-3.5M1237.8 280.9h-3.5M1237.8 300.6h-3.5M1237.8 320.2h-7M1237.8 339.9h-3.5M1237.8 359.6h-3.5M1237.8 379.3h-3.5M1237.8 399h-7M748.2 399v-7M789 399v-3.5M829.8 399v-3.5M870.6 399v-3.5M911.4 399v-7M952.2 399v-3.5M993 399v-3.5M1033.8 399v-3.5M1074.6 399v-7M1115.4 399v-3.5M1156.2 399v-3.5M1197 399v-3.5M1237.8 399v-7M748.2 5.2v7M772.7 5.2v3.5M797.2 5.2v3.5M821.6 5.2v3.5M846.1 5.2v7M870.6 5.2v3.5M895.1 5.2v3.5M919.6 5.2v3.5M944 5.2v7M968.5 5.2v3.5M993 5.2v3.5M1017.5 5.2v3.5M1042 5.2v7M1066.4 5.2v3.5M1090.9 5.2v3.5M1115.4 5.2v3.5M1139.9 5.2v7M1164.4 5.2v3.5M1188.8 5.2v3.5M1213.3 5.2v3.5M1237.8 5.2v7" stroke="#000" stroke-width="1.7" fill="none"/>
<g stroke="#e42a36" stroke-width="1.5" fill="none" stroke-dasharray="5 4.6">
<path d="M972.7 399V263.4H1001V399"/>
<path d="M1087.2 399V284.9H1115.4V399"/>
</g>
<path d="M155.4 122.6H88" stroke="#f2040a" stroke-width="1.6"/>
<path d="M79.4 122.6L90.5 119.3L89.6 122.6L90.5 125.9Z" fill="#f2040a"/>
<path d="M427 127.1H498" stroke="#1010e8" stroke-width="1.3"/>
<path d="M506.6 127.1L496 124.1L497 127.1L496 130.1Z" fill="#1010e8"/>
<path d="M984.2 263.4L1010.6 241.4" stroke="#000" stroke-width="1.1"/>
<path d="M1016.8 236.3L1011.2 245.2L1009.9 242.1L1007.1 240.2Z" fill="#000"/>
<path d="M1099.5 284.6L1134.3 266.8" stroke="#000" stroke-width="1.1"/>
<path d="M1141.4 263.1L1134 270.5L1133.4 267.2L1131 264.8Z" fill="#000"/>
<path d="M339.4 22.1H379.2" stroke="#f2040a" stroke-width="1.7"/>
<path d="M339.4 43.1H379.2" stroke="#0000fa" stroke-width="2.2"/>
<path d="M1018.3 57.6H1064.1" stroke="#000" stroke-width="1.2"/>
<text x="53.8" y="11.8" style="font-family:'Liberation Serif','Times New Roman',serif;font-size:16.4px" text-anchor="end" >5</text>
<text x="53.8" y="51.1" style="font-family:'Liberation Serif','Times New Roman',serif;font-size:16.4px" text-anchor="end" >4</text>
<text x="53.8" y="90.5" style="font-family:'Liberation Serif','Times New Roman',serif;font-size:16.4px" text-anchor="end" >3</text>
<text x="53.8" y="129.9" style="font-family:'Liberation Serif','Times New Roman',serif;font-size:16.4px" text-anchor="end" >2</text>
<text x="53.8" y="169.3" style="font-family:'Liberation Serif','Times New Roman',serif;font-size:16.4px" text-anchor="end" >1</text>
<text x="53.8" y="208.7" style="font-family:'Liberation Serif','Times New Roman',serif;font-size:16.4px" text-anchor="end" >0</text>
<text x="53.8" y="248.1" style="font-family:'Liberation Serif','Times New Roman',serif;font-size:16.4px" text-anchor="end" >−1</text>
<text x="53.8" y="287.5" style="font-family:'Liberation Serif','Times New Roman',serif;font-size:16.4px" text-anchor="end" >−2</text>
<text x="53.8" y="326.9" style="font-family:'Liberation Serif','Times New Roman',serif;font-size:16.4px" text-anchor="end" >−3</text>
<text x="53.8" y="366.3" style="font-family:'Liberation Serif','Times New Roman',serif;font-size:16.4px" text-anchor="end" >−4</text>
<text x="53.8" y="405.7" style="font-family:'Liberation Serif','Times New Roman',serif;font-size:16.4px" text-anchor="end" >−5</text>
<text x="561.2" y="11.8" style="font-family:'Liberation Serif','Times New Roman',serif;font-size:16.8px" text-anchor="start" word-spacing="1.5">0. 20</text>
<text x="561.2" y="51.1" style="font-family:'Liberation Serif','Times New Roman',serif;font-size:16.8px" text-anchor="start" word-spacing="1.5">0. 16</text>
<text x="561.2" y="90.5" style="font-family:'Liberation Serif','Times New Roman',serif;font-size:16.8px" text-anchor="start" word-spacing="1.5">0. 12</text>
<text x="561.2" y="129.9" style="font-family:'Liberation Serif','Times New Roman',serif;font-size:16.8px" text-anchor="start" word-spacing="1.5">0. 08</text>
<text x="561.2" y="169.3" style="font-family:'Liberation Serif','Times New Roman',serif;font-size:16.8px" text-anchor="start" word-spacing="1.5">0. 04</text>
<text x="561.2" y="208.7" style="font-family:'Liberation Serif','Times New Roman',serif;font-size:16.8px" text-anchor="start" word-spacing="1.5">0. 00</text>
<text x="561.2" y="248.1" style="font-family:'Liberation Serif','Times New Roman',serif;font-size:16.8px" text-anchor="start" word-spacing="1.5">−0. 04</text>
<text x="561.2" y="287.5" style="font-family:'Liberation Serif','Times New Roman',serif;font-size:16.8px" text-anchor="start" word-spacing="1.5">−0. 08</text>
<text x="561.2" y="326.9" style="font-family:'Liberation Serif','Times New Roman',serif;font-size:16.8px" text-anchor="start" word-spacing="1.5">−0. 12</text>
<text x="561.2" y="366.3" style="font-family:'Liberation Serif','Times New Roman',serif;font-size:16.8px" text-anchor="start" word-spacing="1.5">−0. 16</text>
<text x="561.2" y="405.7" style="font-family:'Liberation Serif','Times New Roman',serif;font-size:16.8px" text-anchor="start" word-spacing="1.5">−0. 20</text>
<text x="63.2" y="422.4" style="font-family:'Liberation Serif','Times New Roman',serif;font-size:16.4px" text-anchor="middle" >0</text>
<text x="144.9" y="422.4" style="font-family:'Liberation Serif','Times New Roman',serif;font-size:16.4px" text-anchor="middle" >50</text>
<text x="226.5" y="422.4" style="font-family:'Liberation Serif','Times New Roman',serif;font-size:16.4px" text-anchor="middle" >100</text>
<text x="308.2" y="422.4" style="font-family:'Liberation Serif','Times New Roman',serif;font-size:16.4px" text-anchor="middle" >150</text>
<text x="389.9" y="422.4" style="font-family:'Liberation Serif','Times New Roman',serif;font-size:16.4px" text-anchor="middle" >200</text>
<text x="471.5" y="422.4" style="font-family:'Liberation Serif','Times New Roman',serif;font-size:16.4px" text-anchor="middle" >250</text>
<text x="553.2" y="422.4" style="font-family:'Liberation Serif','Times New Roman',serif;font-size:16.4px" text-anchor="middle" >300</text>
<text x="739.6" y="13" style="font-family:'Liberation Serif','Times New Roman',serif;font-size:16.6px" text-anchor="end" word-spacing="0.5">0. 5</text>
<text x="739.6" y="91.8" style="font-family:'Liberation Serif','Times New Roman',serif;font-size:16.6px" text-anchor="end" word-spacing="0.5">0. 4</text>
<text x="739.6" y="170.5" style="font-family:'Liberation Serif','Times New Roman',serif;font-size:16.6px" text-anchor="end" word-spacing="0.5">0. 3</text>
<text x="739.6" y="249.3" style="font-family:'Liberation Serif','Times New Roman',serif;font-size:16.6px" text-anchor="end" word-spacing="0.5">0. 2</text>
<text x="739.6" y="328" style="font-family:'Liberation Serif','Times New Roman',serif;font-size:16.6px" text-anchor="end" word-spacing="0.5">0. 1</text>
<text x="739.6" y="406.8" style="font-family:'Liberation Serif','Times New Roman',serif;font-size:16.6px" text-anchor="end" word-spacing="0.5">0. 0</text>
<text x="748.5" y="422.4" style="font-family:'Liberation Serif','Times New Roman',serif;font-size:16.4px" text-anchor="middle" >0</text>
<text x="911.7" y="422.4" style="font-family:'Liberation Serif','Times New Roman',serif;font-size:16.4px" text-anchor="middle" >100</text>
<text x="1074.9" y="422.4" style="font-family:'Liberation Serif','Times New Roman',serif;font-size:16.4px" text-anchor="middle" >200</text>
<text x="1238.1" y="422.4" style="font-family:'Liberation Serif','Times New Roman',serif;font-size:16.4px" text-anchor="middle" >300</text>
<text x="308.2" y="451.8" style="font-family:'Liberation Serif','Times New Roman',serif;font-size:20.7px" text-anchor="middle" >Time (μs)</text>
<text x="993.9" y="451.8" style="font-family:'Liberation Serif','Times New Roman',serif;font-size:20.7px;white-space:pre" text-anchor="middle" xml:space="preserve">Time  (μs)</text>
<text transform="translate(14.6 193.4) rotate(-90)" style="font-family:'Liberation Serif','Times New Roman',serif;font-size:20.6px" text-anchor="middle">Applied voltage (kV)</text>
<text transform="translate(626.6 202.2) rotate(-90)" style="font-family:'Liberation Serif','Times New Roman',serif;font-size:20.5px" text-anchor="middle">Applied current (A)</text>
<text transform="translate(694 192.4) rotate(-90)" style="font-family:'Liberation Serif','Times New Roman',serif;font-size:20.6px;white-space:pre" text-anchor="middle" xml:space="preserve">Applied power  (kW)</text>
<text x="383.4" y="27.5" style="font-family:'Liberation Serif','Times New Roman',serif;font-size:16.5px" text-anchor="start" >Applied voltage</text>
<text x="383.4" y="48.1" style="font-family:'Liberation Serif','Times New Roman',serif;font-size:16.5px" text-anchor="start" >Applied current</text>
<text x="1070.7" y="64.5" style="font-family:'Liberation Serif','Times New Roman',serif;font-size:20px" text-anchor="start" >Applied power</text>
<text x="104.4" y="50.8" style="font-family:'Liberation Serif','Times New Roman',serif;font-size:23.5px;font-weight:bold">(a)</text>
<text x="798.6" y="49.3" style="font-family:'Liberation Serif','Times New Roman',serif;font-size:23.5px;font-weight:bold">(b)</text>
<text x="948.2" y="112.4" style="font-family:'Liberation Serif','Times New Roman',serif;font-size:20px">P<tspan font-size="14" dy="4.5">1</tspan><tspan dy="-4.5"> = 0.35Kw</tspan></text>
<text x="1073.2" y="142.7" style="font-family:'Liberation Serif','Times New Roman',serif;font-size:20px">P<tspan font-size="14" dy="4.5">2</tspan><tspan dy="-4.5"> = 0.32Kw</tspan></text>
<text x="1006.1" y="232.7" style="font-family:'Liberation Serif','Times New Roman',serif;font-size:16.2px;letter-spacing:0.25px">t<tspan font-size="11" dy="3.5">1</tspan><tspan dy="-3.5"> = 23.46μs</tspan></text>
<text x="1116.8" y="252.6" style="font-family:'Liberation Serif','Times New Roman',serif;font-size:16.2px;letter-spacing:0.25px">t<tspan font-size="11" dy="3.5">2</tspan><tspan dy="-3.5"> = 20.88μs</tspan></text>
</svg>
</body></html>
